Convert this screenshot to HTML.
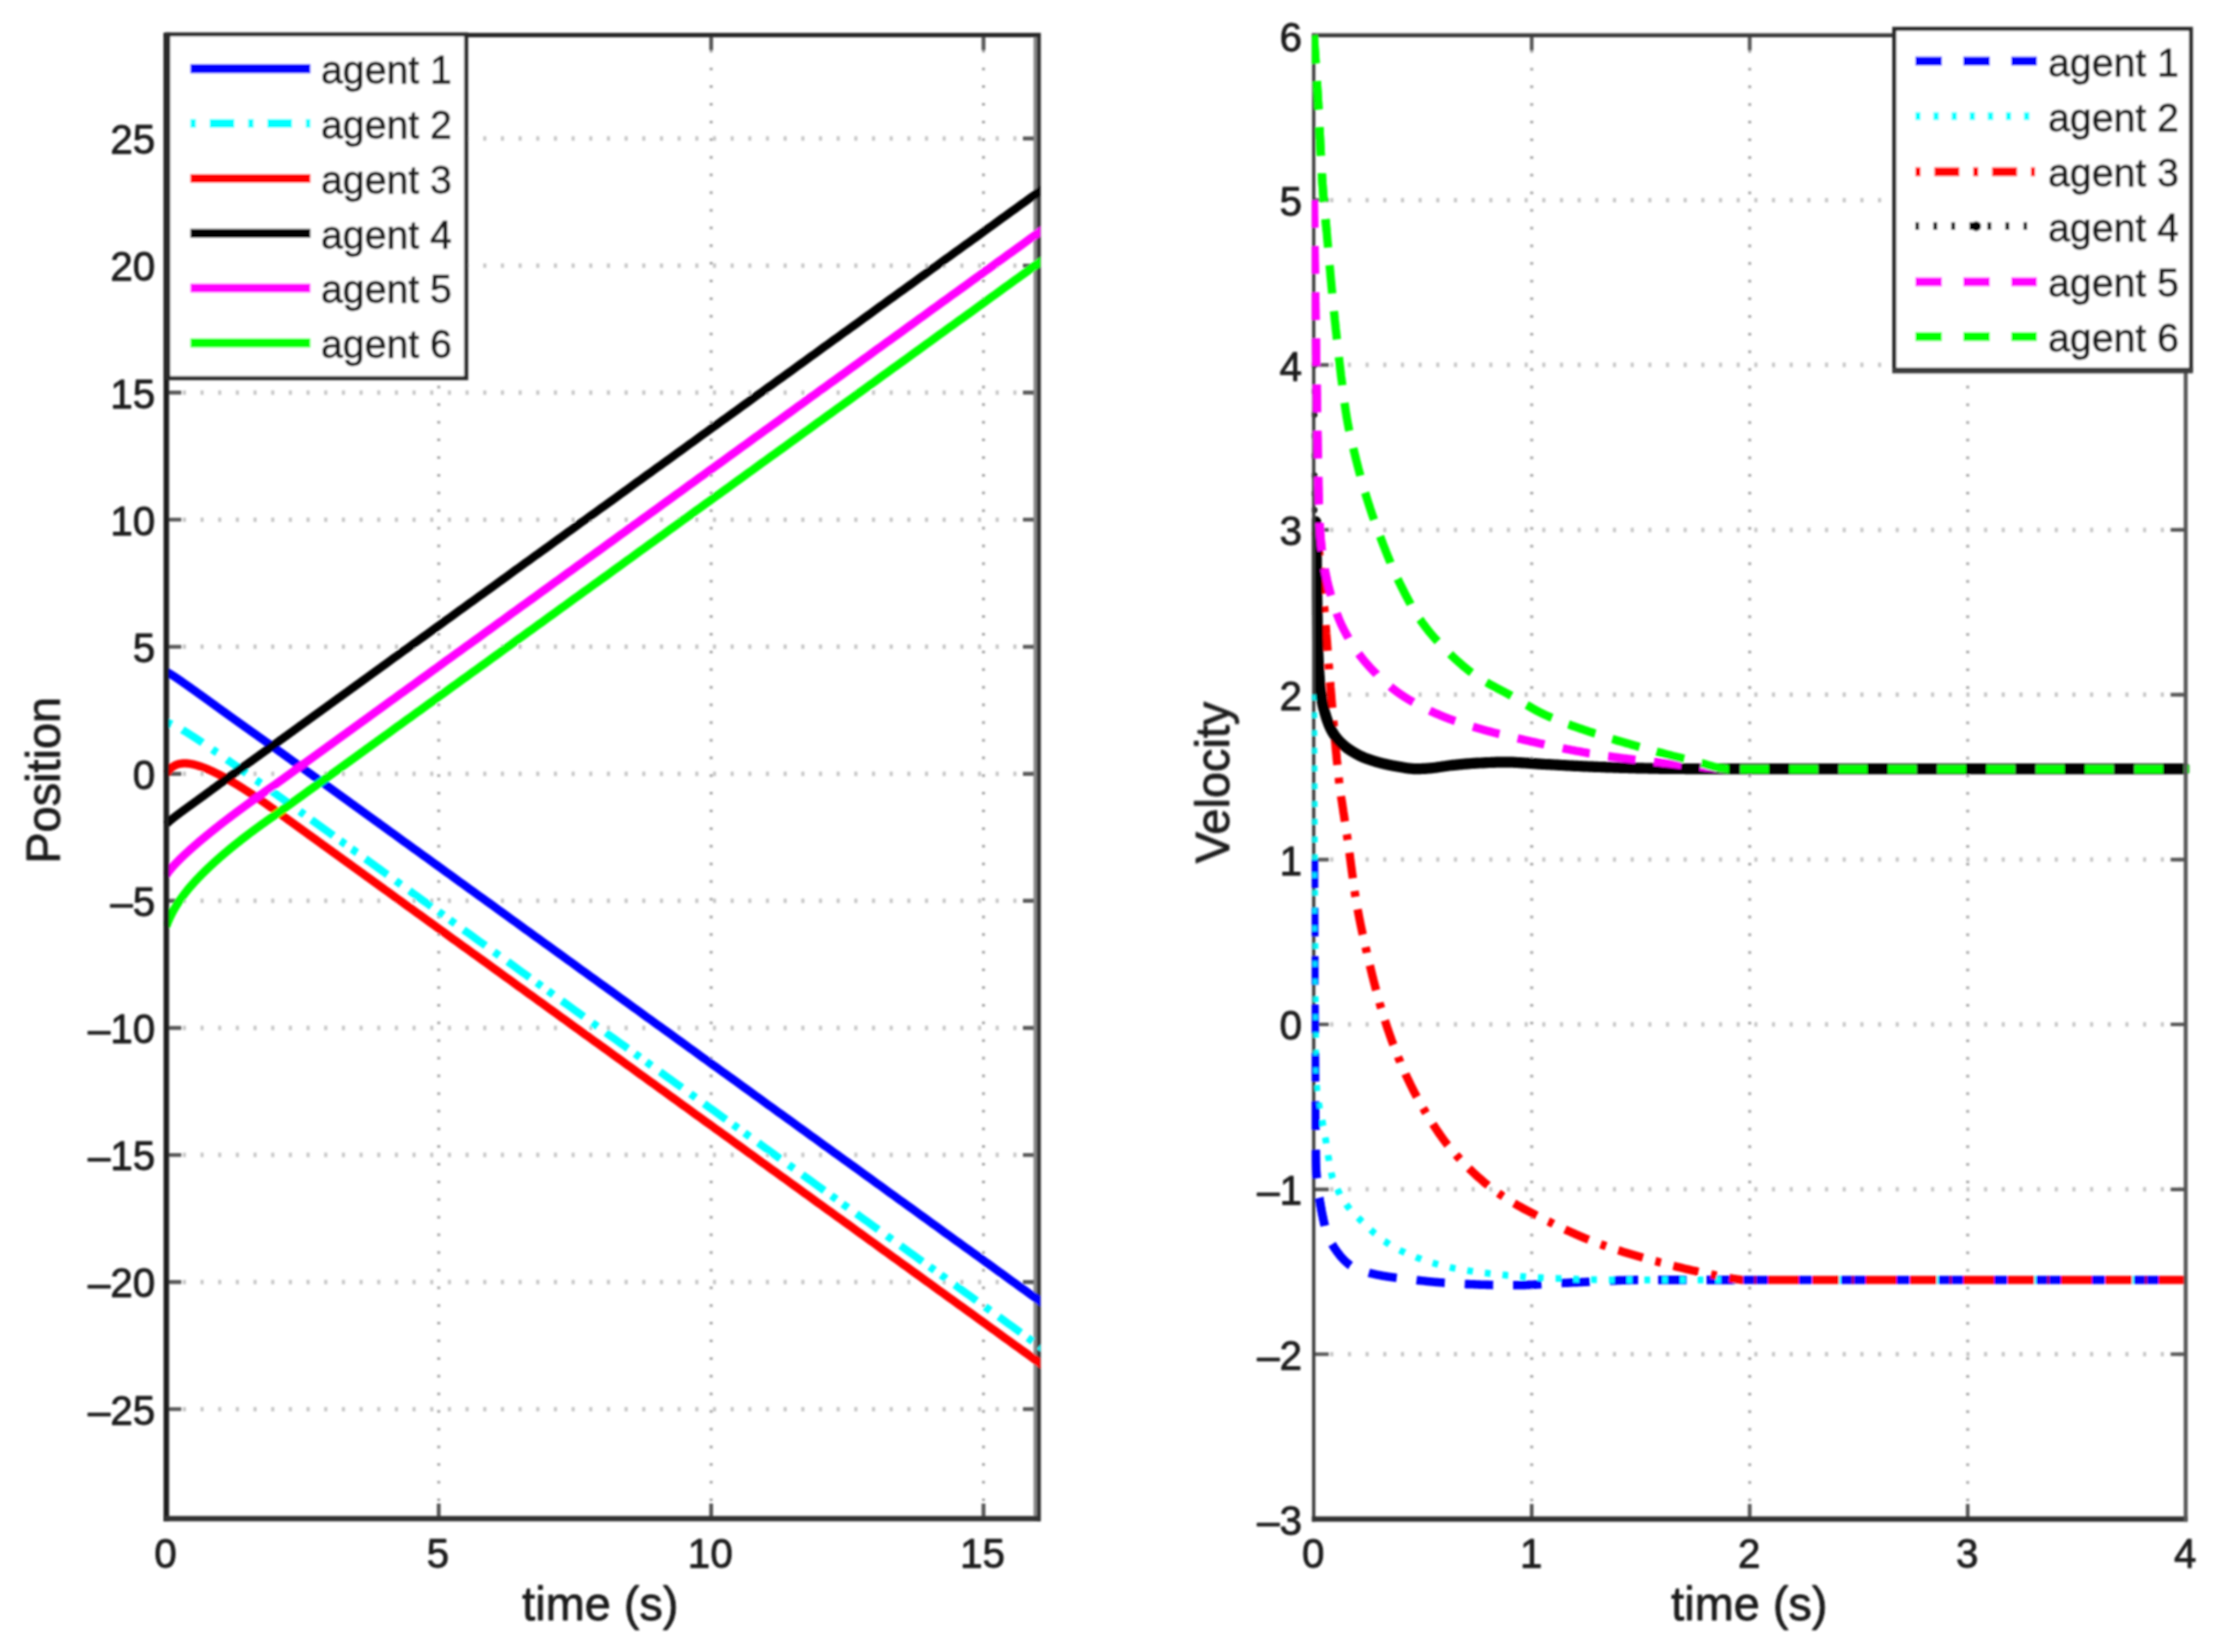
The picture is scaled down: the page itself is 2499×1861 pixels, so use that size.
<!DOCTYPE html>
<html lang="en"><head><meta charset="utf-8"><title>Position and velocity of agents</title>
<style>html,body{margin:0;padding:0;background:#fff}body{width:2499px;height:1861px;overflow:hidden}svg{display:block}text{font-family:'Liberation Sans', sans-serif;fill:#1c1c1c;stroke:#1c1c1c;stroke-width:0.9px;stroke-linejoin:round}</style></head><body>
<svg width="2499" height="1861" viewBox="0 0 2499 1861">
<defs><clipPath id="cl"><rect x="184.3" y="39.5" width="987.3" height="1671.3"/></clipPath><clipPath id="cr"><rect x="1477.5" y="37.7" width="988.0" height="1675.5"/></clipPath><filter id="soft" x="-2%" y="-2%" width="104%" height="104%"><feGaussianBlur stdDeviation="1.25"/></filter></defs>
<rect width="2499" height="1861" fill="#fff"/>
<g filter="url(#soft)">
<line x1="494.1" y1="39.5" x2="494.1" y2="1710.8" stroke="#a4a4a4" stroke-width="3.3" stroke-dasharray="3 16.9" stroke-dashoffset="-16.8"/>
<line x1="800.9" y1="39.5" x2="800.9" y2="1710.8" stroke="#a4a4a4" stroke-width="3.3" stroke-dasharray="3 16.9" stroke-dashoffset="-16.8"/>
<line x1="1107.6" y1="39.5" x2="1107.6" y2="1710.8" stroke="#a4a4a4" stroke-width="3.3" stroke-dasharray="3 16.9" stroke-dashoffset="-16.8"/>
<line x1="187.3" y1="1587.4" x2="1169.0" y2="1587.4" stroke="#c6c6c6" stroke-width="5" stroke-dasharray="3.5 16.4" stroke-dashoffset="-18.6"/>
<line x1="187.3" y1="1444.2" x2="1169.0" y2="1444.2" stroke="#c6c6c6" stroke-width="5" stroke-dasharray="3.5 16.4" stroke-dashoffset="-18.6"/>
<line x1="187.3" y1="1301.1" x2="1169.0" y2="1301.1" stroke="#c6c6c6" stroke-width="5" stroke-dasharray="3.5 16.4" stroke-dashoffset="-18.6"/>
<line x1="187.3" y1="1158.0" x2="1169.0" y2="1158.0" stroke="#c6c6c6" stroke-width="5" stroke-dasharray="3.5 16.4" stroke-dashoffset="-18.6"/>
<line x1="187.3" y1="1014.8" x2="1169.0" y2="1014.8" stroke="#c6c6c6" stroke-width="5" stroke-dasharray="3.5 16.4" stroke-dashoffset="-18.6"/>
<line x1="187.3" y1="871.7" x2="1169.0" y2="871.7" stroke="#c6c6c6" stroke-width="5" stroke-dasharray="3.5 16.4" stroke-dashoffset="-18.6"/>
<line x1="187.3" y1="728.6" x2="1169.0" y2="728.6" stroke="#c6c6c6" stroke-width="5" stroke-dasharray="3.5 16.4" stroke-dashoffset="-18.6"/>
<line x1="187.3" y1="585.4" x2="1169.0" y2="585.4" stroke="#c6c6c6" stroke-width="5" stroke-dasharray="3.5 16.4" stroke-dashoffset="-18.6"/>
<line x1="187.3" y1="442.3" x2="1169.0" y2="442.3" stroke="#c6c6c6" stroke-width="5" stroke-dasharray="3.5 16.4" stroke-dashoffset="-18.6"/>
<line x1="187.3" y1="299.2" x2="1169.0" y2="299.2" stroke="#c6c6c6" stroke-width="5" stroke-dasharray="3.5 16.4" stroke-dashoffset="-18.6"/>
<line x1="187.3" y1="156.0" x2="1169.0" y2="156.0" stroke="#c6c6c6" stroke-width="5" stroke-dasharray="3.5 16.4" stroke-dashoffset="-18.6"/>
<path d="M494.1 39.5v17 M494.1 1710.8v-17" stroke="#585858" stroke-width="4.4" fill="none"/>
<path d="M800.9 39.5v17 M800.9 1710.8v-17" stroke="#585858" stroke-width="4.4" fill="none"/>
<path d="M1107.6 39.5v17 M1107.6 1710.8v-17" stroke="#585858" stroke-width="4.4" fill="none"/>
<path d="M187.3 1587.4h17 M1169.0 1587.4h-17" stroke="#585858" stroke-width="4.4" fill="none"/>
<path d="M187.3 1444.2h17 M1169.0 1444.2h-17" stroke="#585858" stroke-width="4.4" fill="none"/>
<path d="M187.3 1301.1h17 M1169.0 1301.1h-17" stroke="#585858" stroke-width="4.4" fill="none"/>
<path d="M187.3 1158.0h17 M1169.0 1158.0h-17" stroke="#585858" stroke-width="4.4" fill="none"/>
<path d="M187.3 1014.8h17 M1169.0 1014.8h-17" stroke="#585858" stroke-width="4.4" fill="none"/>
<path d="M187.3 871.7h17 M1169.0 871.7h-17" stroke="#585858" stroke-width="4.4" fill="none"/>
<path d="M187.3 728.6h17 M1169.0 728.6h-17" stroke="#585858" stroke-width="4.4" fill="none"/>
<path d="M187.3 585.4h17 M1169.0 585.4h-17" stroke="#585858" stroke-width="4.4" fill="none"/>
<path d="M187.3 442.3h17 M1169.0 442.3h-17" stroke="#585858" stroke-width="4.4" fill="none"/>
<path d="M187.3 299.2h17 M1169.0 299.2h-17" stroke="#585858" stroke-width="4.4" fill="none"/>
<path d="M187.3 156.0h17 M1169.0 156.0h-17" stroke="#585858" stroke-width="4.4" fill="none"/>
<g fill="none">
<path d="M1166.0 37.5V1713.3" stroke-width="4.2" stroke="#8a8a8a"/>
<path d="M1170.0 37.0V1713.8" stroke-width="4.4" stroke="#333"/>
</g>
<g clip-path="url(#cl)" fill="none" stroke-width="9.3" stroke-linejoin="round">
<path d="M187.3 757.2 L187.7 757.2 L188.1 757.3 L188.5 757.4 L188.8 757.6 L189.2 757.8 L189.6 758.0 L189.9 758.2 L190.3 758.4 L190.6 758.6 L191.0 758.8 L191.4 759.0 L191.8 759.2 L192.1 759.4 L192.5 759.7 L192.9 759.9 L193.2 760.1 L193.6 760.3 L194.0 760.6 L194.3 760.8 L194.7 761.1 L195.1 761.3 L195.4 761.5 L195.8 761.8 L196.2 762.0 L196.6 762.3 L196.9 762.5 L197.3 762.7 L197.7 763.0 L198.0 763.2 L198.4 763.5 L198.8 763.7 L199.1 764.0 L199.5 764.2 L199.9 764.5 L200.2 764.7 L200.6 765.0 L201.0 765.2 L201.4 765.5 L201.7 765.8 L202.1 766.0 L202.5 766.3 L202.8 766.5 L203.2 766.8 L203.6 767.0 L203.9 767.3 L204.3 767.5 L204.7 767.8 L205.1 768.1 L205.4 768.3 L205.8 768.6 L206.2 768.8 L206.5 769.1 L206.9 769.3 L207.3 769.6 L207.6 769.9 L208.0 770.1 L208.4 770.4 L208.7 770.6 L209.1 770.9 L209.5 771.2 L209.9 771.4 L210.2 771.7 L210.6 771.9 L211.0 772.2 L211.3 772.5 L211.7 772.7 L212.1 773.0 L212.4 773.2 L212.8 773.5 L213.2 773.8 L213.5 774.0 L213.9 774.3 L214.3 774.5 L214.7 774.8 L215.0 775.1 L215.4 775.3 L215.8 775.6 L216.1 775.9 L216.5 776.1 L216.9 776.4 L217.2 776.6 L217.6 776.9 L218.0 777.2 L218.4 777.5 L218.8 777.8 L219.3 778.1 L219.7 778.4 L220.1 778.7 L220.6 779.0 L221.0 779.3 L221.4 779.6 L221.9 779.9 L222.3 780.2 L222.7 780.6 L223.1 780.9 L223.6 781.2 L224.0 781.5 L224.4 781.8 L224.9 782.1 L225.3 782.4 L225.7 782.7 L226.2 783.0 L226.6 783.3 L227.0 783.6 L227.4 784.0 L227.9 784.3 L228.3 784.6 L228.7 784.9 L229.2 785.2 L229.6 785.5 L230.0 785.8 L230.5 786.1 L230.9 786.4 L231.3 786.8 L231.7 787.1 L232.2 787.4 L232.6 787.7 L233.0 788.0 L233.5 788.3 L233.9 788.6 L234.3 788.9 L234.8 789.2 L235.2 789.6 L235.6 789.9 L236.1 790.2 L236.5 790.5 L236.9 790.8 L237.3 791.1 L237.8 791.4 L238.2 791.7 L238.6 792.0 L239.1 792.4 L239.5 792.7 L239.9 793.0 L240.4 793.3 L240.8 793.6 L241.2 793.9 L241.6 794.2 L242.1 794.5 L242.5 794.9 L242.9 795.2 L243.4 795.5 L243.8 795.8 L244.2 796.1 L244.7 796.4 L245.1 796.7 L245.5 797.0 L246.0 797.4 L246.4 797.7 L246.8 798.0 L247.2 798.3 L247.7 798.6 L248.1 798.9 L248.5 799.2 L249.0 799.5 L249.4 799.8 L249.8 800.2 L250.3 800.5 L250.7 800.8 L251.1 801.1 L251.5 801.4 L252.0 801.7 L252.4 802.0 L252.8 802.3 L253.3 802.6 L253.7 803.0 L254.1 803.3 L254.6 803.6 L255.0 803.9 L255.4 804.2 L255.8 804.5 L256.3 804.8 L256.7 805.1 L257.1 805.4 L257.6 805.7 L258.0 806.1 L258.4 806.4 L258.9 806.7 L259.3 807.0 L259.7 807.3 L260.2 807.6 L260.6 807.9 L261.0 808.2 L261.4 808.5 L261.9 808.8 L262.3 809.1 L262.7 809.4 L263.2 809.8 L263.6 810.1 L264.0 810.4 L264.5 810.7 L264.9 811.0 L265.3 811.3 L265.7 811.6 L266.2 811.9 L266.6 812.2 L267.0 812.5 L267.5 812.8 L267.9 813.1 L268.3 813.5 L268.8 813.8 L269.2 814.1 L269.6 814.4 L270.1 814.7 L270.5 815.0 L270.9 815.3 L271.3 815.6 L271.8 815.9 L272.2 816.2 L272.6 816.5 L273.1 816.8 L273.5 817.1 L273.9 817.4 L274.4 817.7 L274.8 818.0 L275.2 818.4 L275.6 818.7 L276.1 819.0 L276.5 819.3 L276.9 819.6 L277.4 819.9 L277.8 820.2 L278.2 820.5 L278.7 820.8 L279.1 821.1 L279.5 821.4 L279.9 821.7 L280.4 822.0 L280.8 822.3 L281.2 822.6 L281.7 822.9 L282.1 823.2 L282.5 823.6 L283.0 823.9 L283.4 824.2 L283.8 824.5 L284.3 824.8 L284.7 825.1 L285.1 825.4 L285.5 825.7 L286.0 826.0 L286.4 826.3 L286.8 826.6 L287.3 826.9 L287.7 827.2 L288.1 827.5 L288.6 827.8 L289.0 828.1 L289.4 828.4 L289.8 828.7 L290.3 829.1 L290.7 829.4 L291.1 829.7 L291.6 830.0 L292.0 830.3 L292.4 830.6 L292.9 830.9 L293.3 831.2 L293.7 831.5 L294.2 831.8 L294.6 832.1 L295.0 832.4 L295.4 832.7 L295.9 833.0 L296.3 833.3 L296.7 833.6 L297.2 833.9 L297.6 834.3 L298.0 834.6 L298.5 834.9 L298.9 835.2 L299.3 835.5 L299.7 835.8 L300.2 836.1 L300.6 836.4 L301.0 836.7 L301.5 837.0 L301.9 837.3 L302.3 837.6 L302.8 837.9 L303.2 838.2 L303.6 838.5 L304.0 838.8 L304.5 839.1 L304.9 839.4 L305.3 839.8 L305.8 840.1 L306.2 840.4 L306.6 840.7 L307.1 841.0 L307.5 841.3 L307.9 841.6 L308.4 841.9 L308.8 842.2 L309.2 842.5 L309.6 842.8 L310.1 843.1 L310.5 843.4 L310.9 843.7 L311.4 844.1 L311.8 844.4 L312.2 844.7 L312.7 845.0 L313.1 845.3 L313.5 845.6 L313.9 845.9 L314.4 846.2 L314.8 846.5 L315.2 846.9 L315.7 847.2 L316.1 847.5 L316.5 847.8 L317.0 848.1 L317.4 848.4 L317.8 848.7 L318.3 849.0 L318.7 849.3 L319.1 849.7 L319.5 850.0 L320.0 850.3 L320.4 850.6 L320.8 850.9 L321.3 851.2 L321.7 851.5 L322.1 851.8 L322.6 852.1 L323.0 852.5 L323.4 852.8 L323.8 853.1 L324.3 853.4 L324.7 853.7 L325.1 854.0 L325.6 854.3 L326.0 854.6 L326.4 854.9 L326.9 855.3 L327.3 855.6 L327.7 855.9 L328.1 856.2 L328.6 856.5 L329.0 856.8 L329.4 857.1 L329.9 857.4 L330.3 857.7 L330.7 858.1 L331.2 858.4 L331.6 858.7 L332.0 859.0 L332.5 859.3 L332.9 859.6 L333.3 859.9 L333.7 860.2 L334.2 860.5 L334.6 860.9 L335.0 861.2 L335.5 861.5 L335.9 861.8 L336.3 862.1 L336.8 862.4 L337.2 862.7 L337.6 863.0 L338.0 863.3 L338.5 863.7 L338.9 864.0 L339.3 864.3 L339.8 864.6 L340.2 864.9 L340.6 865.2 L341.1 865.5 L341.5 865.8 L341.9 866.1 L342.4 866.5 L342.8 866.8 L343.2 867.1 L343.6 867.4 L344.1 867.7 L344.5 868.0 L344.9 868.3 L345.4 868.6 L345.8 868.9 L346.2 869.3 L346.7 869.6 L347.1 869.9 L347.5 870.2 L347.9 870.5 L348.4 870.8 L348.8 871.1 L349.2 871.4 L349.7 871.8 L350.1 872.1 L350.5 872.4 L351.0 872.7 L351.4 873.0 L351.8 873.3 L352.2 873.6 L352.7 873.9 L353.1 874.2 L353.5 874.6 L354.0 874.9 L354.4 875.2 L354.8 875.5 L355.3 875.8 L355.7 876.1 L356.1 876.4 L356.6 876.7 L357.0 877.0 L357.4 877.4 L357.8 877.7 L358.3 878.0 L358.7 878.3 L359.1 878.6 L359.6 878.9 L360.0 879.2 L360.4 879.5 L360.9 879.8 L361.3 880.2 L361.7 880.5 L362.1 880.8 L362.6 881.1 L363.0 881.4 L363.4 881.7 L363.9 882.0 L364.3 882.3 L364.7 882.6 L365.2 883.0 L365.6 883.3 L366.0 883.6 L366.5 883.9 L366.9 884.2 L367.3 884.5 L367.7 884.8 L368.2 885.1 L368.6 885.4 L369.0 885.8 L369.5 886.1 L369.9 886.4 L370.3 886.7 L370.8 887.0 L371.2 887.3 L371.6 887.6 L372.0 887.9 L372.5 888.2 L372.9 888.6 L373.3 888.9 L373.8 889.2 L374.2 889.5 L374.6 889.8 L375.1 890.1 L375.5 890.4 L375.9 890.7 L376.3 891.0 L376.8 891.4 L377.2 891.7 L377.6 892.0 L378.1 892.3 L378.5 892.6 L378.9 892.9 L379.4 893.2 L379.8 893.5 L380.2 893.8 L380.7 894.2 L381.1 894.5 L381.5 894.8 L381.9 895.1 L382.4 895.4 L382.8 895.7 L383.2 896.0 L383.7 896.3 L384.1 896.6 L384.5 897.0 L385.0 897.3 L385.4 897.6 L385.8 897.9 L386.2 898.2 L386.7 898.5 L387.1 898.8 L387.5 899.1 L388.0 899.4 L388.4 899.8 L388.8 900.1 L389.3 900.4 L389.7 900.7 L390.1 901.0 L390.6 901.3 L391.0 901.6 L391.4 901.9 L391.8 902.3 L392.3 902.6 L392.7 902.9 L393.1 903.2 L393.6 903.5 L394.0 903.8 L394.4 904.1 L394.9 904.4 L395.3 904.7 L395.7 905.1 L396.1 905.4 L396.6 905.7 L397.0 906.0 L397.4 906.3 L397.9 906.6 L398.3 906.9 L398.7 907.2 L399.2 907.5 L399.6 907.9 L400.0 908.2 L400.4 908.5 L400.9 908.8 L401.3 909.1 L401.7 909.4 L402.2 909.7 L402.6 910.0 L403.0 910.3 L403.5 910.7 L403.9 911.0 L404.3 911.3 L404.8 911.6 L405.2 911.9 L405.6 912.2 L406.0 912.5 L406.5 912.8 L406.9 913.1 L407.3 913.5 L407.8 913.8 L408.2 914.1 L408.6 914.4 L409.1 914.7 L409.5 915.0 L409.9 915.3 L410.3 915.6 L410.8 915.9 L411.2 916.3 L411.6 916.6 L412.1 916.9 L412.5 917.2 L412.9 917.5 L413.4 917.8 L413.8 918.1 L414.2 918.4 L414.7 918.7 L415.1 919.1 L415.5 919.4 L415.9 919.7 L416.4 920.0 L416.8 920.3 L417.2 920.6 L417.7 920.9 L418.1 921.2 L418.5 921.5 L419.0 921.9 L419.4 922.2 L419.8 922.5 L420.2 922.8 L420.7 923.1 L421.1 923.4 L421.5 923.7 L422.0 924.0 L422.4 924.3 L422.8 924.7 L423.3 925.0 L423.7 925.3 L424.1 925.6 L424.5 925.9 L425.0 926.2 L425.4 926.5 L425.8 926.8 L426.3 927.1 L426.7 927.5 L427.1 927.8 L427.6 928.1 L428.0 928.4 L428.4 928.7 L428.9 929.0 L429.3 929.3 L429.7 929.6 L430.1 929.9 L430.6 930.3 L431.0 930.6 L431.4 930.9 L431.9 931.2 L432.3 931.5 L432.7 931.8 L436.4 934.5 L440.1 937.2 L443.8 939.8 L447.5 942.5 L451.2 945.2 L454.9 947.9 L458.6 950.5 L462.3 953.2 L466.0 955.9 L469.7 958.6 L473.4 961.2 L477.1 963.9 L480.8 966.6 L484.5 969.3 L488.2 972.0 L491.9 974.6 L495.6 977.3 L499.3 980.0 L503.0 982.7 L506.7 985.3 L510.4 988.0 L514.1 990.7 L517.8 993.4 L521.5 996.0 L525.2 998.7 L528.9 1001.4 L532.6 1004.1 L536.3 1006.7 L540.0 1009.4 L543.7 1012.1 L547.4 1014.8 L551.1 1017.4 L554.8 1020.1 L558.5 1022.8 L562.2 1025.5 L565.9 1028.1 L569.6 1030.8 L573.3 1033.5 L577.0 1036.2 L580.7 1038.8 L584.4 1041.5 L588.1 1044.2 L591.8 1046.9 L595.5 1049.5 L599.2 1052.2 L602.9 1054.9 L606.6 1057.6 L610.3 1060.2 L614.0 1062.9 L617.7 1065.6 L621.4 1068.3 L625.1 1071.0 L628.8 1073.6 L632.5 1076.3 L636.2 1079.0 L639.9 1081.7 L643.6 1084.3 L647.3 1087.0 L651.0 1089.7 L654.7 1092.4 L658.4 1095.0 L662.1 1097.7 L665.8 1100.4 L669.5 1103.1 L673.2 1105.7 L676.9 1108.4 L680.6 1111.1 L684.3 1113.8 L688.0 1116.4 L691.7 1119.1 L695.4 1121.8 L699.1 1124.5 L702.8 1127.1 L706.5 1129.8 L710.2 1132.5 L713.9 1135.2 L717.6 1137.8 L721.3 1140.5 L725.0 1143.2 L728.7 1145.9 L732.4 1148.5 L736.1 1151.2 L739.8 1153.9 L743.5 1156.6 L747.2 1159.3 L750.9 1161.9 L754.6 1164.6 L758.3 1167.3 L762.0 1170.0 L765.7 1172.6 L769.4 1175.3 L773.1 1178.0 L776.8 1180.7 L780.5 1183.3 L784.2 1186.0 L787.9 1188.7 L791.6 1191.4 L795.3 1194.0 L799.0 1196.7 L802.7 1199.4 L806.4 1202.1 L810.1 1204.7 L813.8 1207.4 L817.5 1210.1 L821.2 1212.8 L824.9 1215.4 L828.6 1218.1 L832.3 1220.8 L836.0 1223.5 L839.7 1226.1 L843.4 1228.8 L847.1 1231.5 L850.8 1234.2 L854.5 1236.8 L858.2 1239.5 L861.9 1242.2 L865.6 1244.9 L869.3 1247.5 L873.0 1250.2 L876.7 1252.9 L880.4 1255.6 L884.1 1258.3 L887.8 1260.9 L891.5 1263.6 L895.2 1266.3 L898.9 1269.0 L902.6 1271.6 L906.3 1274.3 L910.0 1277.0 L913.7 1279.7 L917.4 1282.3 L921.1 1285.0 L924.8 1287.7 L928.5 1290.4 L932.2 1293.0 L935.9 1295.7 L939.6 1298.4 L943.3 1301.1 L947.0 1303.7 L950.7 1306.4 L954.4 1309.1 L958.1 1311.8 L961.8 1314.4 L965.5 1317.1 L969.2 1319.8 L972.9 1322.5 L976.6 1325.1 L980.3 1327.8 L984.0 1330.5 L987.7 1333.2 L991.4 1335.8 L995.1 1338.5 L998.8 1341.2 L1002.5 1343.9 L1006.2 1346.5 L1009.9 1349.2 L1013.6 1351.9 L1017.3 1354.6 L1021.0 1357.3 L1024.7 1359.9 L1028.4 1362.6 L1032.1 1365.3 L1035.8 1368.0 L1039.5 1370.6 L1043.2 1373.3 L1046.9 1376.0 L1050.6 1378.7 L1054.3 1381.3 L1058.0 1384.0 L1061.7 1386.7 L1065.4 1389.4 L1069.1 1392.0 L1072.8 1394.7 L1076.5 1397.4 L1080.2 1400.1 L1083.9 1402.7 L1087.6 1405.4 L1091.3 1408.1 L1095.0 1410.8 L1098.7 1413.4 L1102.4 1416.1 L1106.1 1418.8 L1109.8 1421.5 L1113.5 1424.1 L1117.2 1426.8 L1120.9 1429.5 L1124.6 1432.2 L1128.3 1434.8 L1132.0 1437.5 L1135.7 1440.2 L1139.4 1442.9 L1143.1 1445.5 L1146.8 1448.2 L1150.5 1450.9 L1154.2 1453.6 L1157.9 1456.3 L1161.6 1458.9 L1165.3 1461.6 L1169.0 1464.3 L1181.3 1473.2" stroke="#0000ff"/>
<path d="M187.3 814.4 L187.7 814.2 L188.1 814.3 L188.5 814.3 L188.9 814.4 L189.3 814.5 L189.7 814.6 L190.1 814.7 L190.5 814.8 L190.9 815.0 L191.4 815.1 L191.8 815.3 L192.3 815.5 L192.8 815.7 L193.1 815.8 L193.5 816.0 L193.9 816.1 L194.2 816.3 L194.6 816.5 L195.0 816.7 L195.4 816.8 L195.7 817.0 L196.1 817.2 L196.5 817.4 L196.8 817.5 L197.2 817.7 L197.6 817.9 L197.9 818.1 L198.3 818.3 L198.7 818.5 L199.0 818.7 L199.4 818.9 L199.8 819.1 L200.2 819.3 L200.5 819.5 L200.9 819.7 L201.3 819.9 L201.6 820.1 L202.0 820.3 L202.4 820.5 L202.7 820.7 L203.1 820.9 L203.5 821.1 L203.8 821.3 L204.2 821.5 L204.6 821.7 L205.0 821.9 L205.3 822.1 L205.7 822.4 L206.1 822.6 L206.4 822.8 L206.8 823.0 L207.2 823.2 L207.5 823.5 L207.9 823.7 L208.3 823.9 L208.7 824.1 L209.0 824.3 L209.4 824.6 L209.8 824.8 L210.1 825.0 L210.5 825.2 L210.9 825.5 L211.2 825.7 L211.6 825.9 L212.0 826.2 L212.3 826.4 L212.7 826.6 L213.1 826.9 L213.5 827.1 L213.8 827.3 L214.2 827.6 L214.6 827.8 L214.9 828.0 L215.3 828.3 L215.7 828.5 L216.0 828.7 L216.4 829.0 L216.8 829.2 L217.1 829.4 L217.5 829.7 L217.9 829.9 L218.4 830.3 L218.8 830.5 L219.3 830.8 L219.7 831.1 L220.1 831.4 L220.6 831.7 L221.0 831.9 L221.4 832.2 L221.9 832.5 L222.3 832.8 L222.7 833.1 L223.1 833.4 L223.6 833.7 L224.0 833.9 L224.4 834.2 L224.9 834.5 L225.3 834.8 L225.7 835.1 L226.2 835.4 L226.6 835.7 L227.0 836.0 L227.4 836.2 L227.9 836.5 L228.3 836.8 L228.7 837.1 L229.2 837.4 L229.6 837.7 L230.0 838.0 L230.5 838.3 L230.9 838.6 L231.3 838.9 L231.7 839.2 L232.2 839.5 L232.6 839.7 L233.0 840.0 L233.5 840.3 L233.9 840.6 L234.3 840.9 L234.8 841.2 L235.2 841.5 L235.6 841.8 L236.1 842.1 L236.5 842.4 L236.9 842.7 L237.3 843.0 L237.8 843.3 L238.2 843.6 L238.6 843.9 L239.1 844.2 L239.5 844.5 L239.9 844.8 L240.4 845.1 L240.8 845.4 L241.2 845.7 L241.6 846.0 L242.1 846.3 L242.5 846.6 L242.9 846.9 L243.4 847.1 L243.8 847.4 L244.2 847.7 L244.7 848.0 L245.1 848.3 L245.5 848.6 L246.0 848.9 L246.4 849.2 L246.8 849.5 L247.2 849.8 L247.7 850.1 L248.1 850.4 L248.5 850.7 L249.0 851.0 L249.4 851.3 L249.8 851.6 L250.3 851.9 L250.7 852.2 L251.1 852.5 L251.5 852.8 L252.0 853.1 L252.4 853.4 L252.8 853.7 L253.3 854.0 L253.7 854.3 L254.1 854.6 L254.6 855.0 L255.0 855.3 L255.4 855.6 L255.8 855.9 L256.3 856.2 L256.7 856.5 L257.1 856.8 L257.6 857.1 L258.0 857.4 L258.4 857.7 L258.9 858.0 L259.3 858.3 L259.7 858.6 L260.2 858.9 L260.6 859.2 L261.0 859.5 L261.4 859.8 L261.9 860.1 L262.3 860.4 L262.7 860.7 L263.2 861.0 L263.6 861.3 L264.0 861.6 L264.5 861.9 L264.9 862.2 L265.3 862.5 L265.7 862.8 L266.2 863.1 L266.6 863.4 L267.0 863.7 L267.5 864.0 L267.9 864.3 L268.3 864.6 L268.8 864.9 L269.2 865.2 L269.6 865.5 L270.1 865.8 L270.5 866.1 L270.9 866.5 L271.3 866.8 L271.8 867.1 L272.2 867.4 L272.6 867.7 L273.1 868.0 L273.5 868.3 L273.9 868.6 L274.4 868.9 L274.8 869.2 L275.2 869.5 L275.6 869.8 L276.1 870.1 L276.5 870.4 L276.9 870.7 L277.4 871.0 L277.8 871.3 L278.2 871.6 L278.7 871.9 L279.1 872.2 L279.5 872.5 L279.9 872.8 L280.4 873.1 L280.8 873.4 L281.2 873.7 L281.7 874.0 L282.1 874.3 L282.5 874.6 L283.0 875.0 L283.4 875.3 L283.8 875.6 L284.3 875.9 L284.7 876.2 L285.1 876.5 L285.5 876.8 L286.0 877.1 L286.4 877.4 L286.8 877.7 L287.3 878.0 L287.7 878.3 L288.1 878.6 L288.6 878.9 L289.0 879.2 L289.4 879.5 L289.8 879.8 L290.3 880.1 L290.7 880.4 L291.1 880.7 L291.6 881.0 L292.0 881.3 L292.4 881.6 L292.9 881.9 L293.3 882.2 L293.7 882.5 L294.2 882.8 L294.6 883.1 L295.0 883.4 L295.4 883.8 L295.9 884.1 L296.3 884.4 L296.7 884.7 L297.2 885.0 L297.6 885.3 L298.0 885.6 L298.5 885.9 L298.9 886.2 L299.3 886.5 L299.7 886.8 L300.2 887.1 L300.6 887.4 L301.0 887.7 L301.5 888.0 L301.9 888.3 L302.3 888.6 L302.8 888.9 L303.2 889.2 L303.6 889.5 L304.0 889.8 L304.5 890.1 L304.9 890.4 L305.3 890.7 L305.8 891.0 L306.2 891.3 L306.6 891.6 L307.1 891.9 L307.5 892.3 L307.9 892.6 L308.4 892.9 L308.8 893.2 L309.2 893.5 L309.6 893.8 L310.1 894.1 L310.5 894.4 L310.9 894.7 L311.4 895.0 L311.8 895.3 L312.2 895.6 L312.7 895.9 L313.1 896.3 L313.5 896.6 L313.9 896.9 L314.4 897.2 L314.8 897.5 L315.2 897.8 L315.7 898.1 L316.1 898.4 L316.5 898.7 L317.0 899.1 L317.4 899.4 L317.8 899.7 L318.3 900.0 L318.7 900.3 L319.1 900.6 L319.5 900.9 L320.0 901.2 L320.4 901.5 L320.8 901.9 L321.3 902.2 L321.7 902.5 L322.1 902.8 L322.6 903.1 L323.0 903.4 L323.4 903.7 L323.8 904.0 L324.3 904.3 L324.7 904.7 L325.1 905.0 L325.6 905.3 L326.0 905.6 L326.4 905.9 L326.9 906.2 L327.3 906.5 L327.7 906.8 L328.1 907.1 L328.6 907.5 L329.0 907.8 L329.4 908.1 L329.9 908.4 L330.3 908.7 L330.7 909.0 L331.2 909.3 L331.6 909.6 L332.0 909.9 L332.5 910.3 L332.9 910.6 L333.3 910.9 L333.7 911.2 L334.2 911.5 L334.6 911.8 L335.0 912.1 L335.5 912.4 L335.9 912.7 L336.3 913.1 L336.8 913.4 L337.2 913.7 L337.6 914.0 L338.0 914.3 L338.5 914.6 L338.9 914.9 L339.3 915.2 L339.8 915.5 L340.2 915.9 L340.6 916.2 L341.1 916.5 L341.5 916.8 L341.9 917.1 L342.4 917.4 L342.8 917.7 L343.2 918.0 L343.6 918.3 L344.1 918.7 L344.5 919.0 L344.9 919.3 L345.4 919.6 L345.8 919.9 L346.2 920.2 L346.7 920.5 L347.1 920.8 L347.5 921.2 L347.9 921.5 L348.4 921.8 L348.8 922.1 L349.2 922.4 L349.7 922.7 L350.1 923.0 L350.5 923.3 L350.7 923.5" stroke="#00ffff" stroke-width="8.7" stroke-dasharray="6.5 13.5 27 13.4"/>
<path d="M350.7 923.5 L351.4 924.0 L351.8 924.3 L352.2 924.6 L352.7 924.9 L353.1 925.2 L353.5 925.5 L354.0 925.8 L354.4 926.1 L354.8 926.4 L355.3 926.8 L355.7 927.1 L356.1 927.4 L356.6 927.7 L357.0 928.0 L357.4 928.3 L357.8 928.6 L358.3 928.9 L358.7 929.2 L359.1 929.6 L359.6 929.9 L360.0 930.2 L360.4 930.5 L360.9 930.8 L361.3 931.1 L361.7 931.4 L362.1 931.7 L362.6 932.0 L363.0 932.4 L363.4 932.7 L363.9 933.0 L364.3 933.3 L364.7 933.6 L365.2 933.9 L365.6 934.2 L366.0 934.5 L366.5 934.8 L366.9 935.2 L367.3 935.5 L367.7 935.8 L368.2 936.1 L368.6 936.4 L369.0 936.7 L369.5 937.0 L369.9 937.3 L370.3 937.6 L370.8 938.0 L371.2 938.3 L371.6 938.6 L372.0 938.9 L372.5 939.2 L372.9 939.5 L373.3 939.8 L373.8 940.1 L374.2 940.4 L374.6 940.8 L375.1 941.1 L375.5 941.4 L375.9 941.7 L376.3 942.0 L376.8 942.3 L377.2 942.6 L377.6 942.9 L378.1 943.2 L378.5 943.6 L378.9 943.9 L379.4 944.2 L379.8 944.5 L380.2 944.8 L380.7 945.1 L381.1 945.4 L381.5 945.7 L381.9 946.0 L382.4 946.4 L382.8 946.7 L383.2 947.0 L383.7 947.3 L384.1 947.6 L384.5 947.9 L385.0 948.2 L385.4 948.5 L385.8 948.8 L386.2 949.2 L386.7 949.5 L387.1 949.8 L387.5 950.1 L388.0 950.4 L388.4 950.7 L388.8 951.0 L389.3 951.3 L389.7 951.7 L390.1 952.0 L390.6 952.3 L391.0 952.6 L391.4 952.9 L391.8 953.2 L392.3 953.5 L392.7 953.8 L393.1 954.1 L393.6 954.5 L394.0 954.8 L394.4 955.1 L394.9 955.4 L395.3 955.7 L395.7 956.0 L396.1 956.3 L396.6 956.6 L397.0 956.9 L397.4 957.3 L397.9 957.6 L398.3 957.9 L398.7 958.2 L399.2 958.5 L399.6 958.8 L400.0 959.1 L400.4 959.4 L400.9 959.7 L401.3 960.1 L401.7 960.4 L402.2 960.7 L402.6 961.0 L403.0 961.3 L403.5 961.6 L403.9 961.9 L404.3 962.2 L404.8 962.5 L405.2 962.9 L405.6 963.2 L406.0 963.5 L406.5 963.8 L406.9 964.1 L407.3 964.4 L407.8 964.7 L408.2 965.0 L408.6 965.3 L409.1 965.7 L409.5 966.0 L409.9 966.3 L410.3 966.6 L410.8 966.9 L411.2 967.2 L411.6 967.5 L412.1 967.8 L412.5 968.1 L412.9 968.5 L413.4 968.8 L413.8 969.1 L414.2 969.4 L414.7 969.7 L415.1 970.0 L415.5 970.3 L415.9 970.6 L416.4 970.9 L416.8 971.3 L417.2 971.6 L417.7 971.9 L418.1 972.2 L418.5 972.5 L419.0 972.8 L419.4 973.1 L419.8 973.4 L420.2 973.7 L420.7 974.1 L421.1 974.4 L421.5 974.7 L422.0 975.0 L422.4 975.3 L422.8 975.6 L423.3 975.9 L423.7 976.2 L424.1 976.5 L424.5 976.9 L425.0 977.2 L425.4 977.5 L425.8 977.8 L426.3 978.1 L426.7 978.4 L427.1 978.7 L427.6 979.0 L428.0 979.3 L428.4 979.7 L428.9 980.0 L429.3 980.3 L429.7 980.6 L430.1 980.9 L430.6 981.2 L431.0 981.5 L431.4 981.8 L431.9 982.2 L432.3 982.5 L432.7 982.8 L436.4 985.4 L440.1 988.1 L443.8 990.8 L447.5 993.5 L451.2 996.2 L454.9 998.8 L458.6 1001.5 L462.3 1004.2 L466.0 1006.9 L469.7 1009.5 L473.4 1012.2 L477.1 1014.9 L480.8 1017.6 L484.5 1020.2 L488.2 1022.9 L491.9 1025.6 L495.6 1028.3 L499.3 1030.9 L503.0 1033.6 L506.7 1036.3 L510.4 1039.0 L514.1 1041.6 L517.8 1044.3 L521.5 1047.0 L525.2 1049.7 L528.9 1052.3 L532.6 1055.0 L536.3 1057.7 L540.0 1060.4 L543.7 1063.0 L547.4 1065.7 L551.1 1068.4 L554.8 1071.1 L558.5 1073.7 L562.2 1076.4 L565.9 1079.1 L569.6 1081.8 L573.3 1084.4 L577.0 1087.1 L580.7 1089.8 L584.4 1092.5 L588.1 1095.2 L591.8 1097.8 L595.5 1100.5 L599.2 1103.2 L602.9 1105.9 L606.6 1108.5 L610.3 1111.2 L614.0 1113.9 L617.7 1116.6 L621.4 1119.2 L625.1 1121.9 L628.8 1124.6 L632.5 1127.3 L636.2 1129.9 L639.9 1132.6 L643.6 1135.3 L647.3 1138.0 L651.0 1140.6 L654.7 1143.3 L658.4 1146.0 L662.1 1148.7 L665.8 1151.3 L669.5 1154.0 L673.2 1156.7 L676.9 1159.4 L680.6 1162.0 L684.3 1164.7 L688.0 1167.4 L691.7 1170.1 L695.4 1172.7 L699.1 1175.4 L702.8 1178.1 L706.5 1180.8 L710.2 1183.4 L713.9 1186.1 L717.6 1188.8 L721.3 1191.5 L725.0 1194.2 L728.7 1196.8 L732.4 1199.5 L736.1 1202.2 L739.8 1204.9 L743.5 1207.5 L747.2 1210.2 L750.9 1212.9 L754.6 1215.6 L758.3 1218.2 L762.0 1220.9 L765.7 1223.6 L769.4 1226.3 L773.1 1228.9 L776.8 1231.6 L780.5 1234.3 L784.2 1237.0 L787.9 1239.6 L791.6 1242.3 L795.3 1245.0 L799.0 1247.7 L802.7 1250.3 L806.4 1253.0 L810.1 1255.7 L813.8 1258.4 L817.5 1261.0 L821.2 1263.7 L824.9 1266.4 L828.6 1269.1 L832.3 1271.7 L836.0 1274.4 L839.7 1277.1 L843.4 1279.8 L847.1 1282.4 L850.8 1285.1 L854.5 1287.8 L858.2 1290.5 L861.9 1293.2 L865.6 1295.8 L869.3 1298.5 L873.0 1301.2 L876.7 1303.9 L880.4 1306.5 L884.1 1309.2 L887.8 1311.9 L891.5 1314.6 L895.2 1317.2 L898.9 1319.9 L902.6 1322.6 L906.3 1325.3 L910.0 1327.9 L913.7 1330.6 L917.4 1333.3 L921.1 1336.0 L924.8 1338.6 L928.5 1341.3 L932.2 1344.0 L935.9 1346.7 L939.6 1349.3 L943.3 1352.0 L947.0 1354.7 L950.7 1357.4 L954.4 1360.0 L958.1 1362.7 L961.8 1365.4 L965.5 1368.1 L969.2 1370.7 L972.9 1373.4 L976.6 1376.1 L980.3 1378.8 L984.0 1381.5 L987.7 1384.1 L991.4 1386.8 L995.1 1389.5 L998.8 1392.2 L1002.5 1394.8 L1006.2 1397.5 L1009.9 1400.2 L1013.6 1402.9 L1017.3 1405.5 L1021.0 1408.2 L1024.7 1410.9 L1028.4 1413.6 L1032.1 1416.2 L1035.8 1418.9 L1039.5 1421.6 L1043.2 1424.3 L1046.9 1426.9 L1050.6 1429.6 L1054.3 1432.3 L1058.0 1435.0 L1061.7 1437.6 L1065.4 1440.3 L1069.1 1443.0 L1072.8 1445.7 L1076.5 1448.3 L1080.2 1451.0 L1083.9 1453.7 L1087.6 1456.4 L1091.3 1459.0 L1095.0 1461.7 L1098.7 1464.4 L1102.4 1467.1 L1106.1 1469.7 L1109.8 1472.4 L1113.5 1475.1 L1117.2 1477.8 L1120.9 1480.5 L1124.6 1483.1 L1128.3 1485.8 L1132.0 1488.5 L1135.7 1491.2 L1139.4 1493.8 L1143.1 1496.5 L1146.8 1499.2 L1150.5 1501.9 L1154.2 1504.5 L1157.9 1507.2 L1161.6 1509.9 L1165.3 1512.6 L1169.0 1515.2 L1181.3 1524.1" stroke="#00ffff" stroke-width="8.7" stroke-dasharray="30.6 9.8 6.9 8.9 7.3 11.7 30.6 11.7 7.3 11.7"/>
<path d="M187.3 871.7 L187.5 871.4 L187.8 871.0 L188.0 870.7 L188.3 870.3 L188.5 870.0 L188.8 869.6 L189.0 869.3 L189.3 869.0 L189.5 868.7 L189.8 868.3 L190.0 868.0 L190.3 867.7 L190.6 867.3 L190.9 867.0 L191.2 866.7 L191.5 866.4 L191.8 866.0 L192.2 865.7 L192.6 865.3 L193.0 865.0 L193.3 864.7 L193.7 864.4 L194.1 864.1 L194.4 863.9 L194.8 863.6 L195.2 863.4 L195.5 863.2 L195.9 862.9 L196.3 862.7 L196.6 862.5 L197.0 862.3 L197.4 862.1 L197.8 862.0 L198.1 861.8 L198.5 861.6 L199.0 861.4 L199.4 861.3 L199.9 861.1 L200.3 861.0 L200.8 860.8 L201.3 860.7 L201.7 860.6 L202.2 860.5 L202.6 860.4 L203.1 860.3 L203.6 860.3 L204.0 860.2 L204.5 860.1 L205.0 860.1 L205.4 860.0 L205.9 860.0 L206.3 860.0 L206.8 859.9 L207.3 859.9 L207.7 859.9 L208.2 859.9 L208.7 859.9 L209.1 859.9 L209.6 860.0 L210.0 860.0 L210.5 860.0 L211.0 860.0 L211.4 860.1 L211.9 860.1 L212.3 860.2 L212.8 860.2 L213.3 860.3 L213.7 860.4 L214.2 860.4 L214.7 860.5 L215.1 860.6 L215.6 860.7 L216.0 860.8 L216.5 860.8 L217.0 860.9 L217.4 861.0 L217.9 861.1 L218.4 861.3 L218.8 861.4 L219.3 861.5 L219.7 861.6 L220.1 861.7 L220.6 861.8 L221.0 861.9 L221.4 862.0 L221.9 862.2 L222.3 862.3 L222.7 862.4 L223.1 862.5 L223.6 862.7 L224.0 862.8 L224.4 863.0 L224.9 863.1 L225.3 863.2 L225.7 863.4 L226.2 863.5 L226.6 863.7 L227.0 863.8 L227.4 864.0 L227.9 864.1 L228.3 864.3 L228.7 864.5 L229.2 864.6 L229.6 864.8 L230.0 865.0 L230.5 865.1 L230.9 865.3 L231.3 865.5 L231.7 865.6 L232.2 865.8 L232.6 866.0 L233.0 866.2 L233.5 866.4 L233.9 866.5 L234.3 866.7 L234.8 866.9 L235.2 867.1 L235.6 867.3 L236.1 867.5 L236.5 867.7 L236.9 867.9 L237.3 868.1 L237.8 868.2 L238.2 868.4 L238.6 868.6 L239.1 868.8 L239.5 869.0 L239.9 869.3 L240.4 869.5 L240.8 869.7 L241.2 869.9 L241.6 870.1 L242.1 870.3 L242.5 870.5 L242.9 870.7 L243.4 870.9 L243.8 871.1 L244.2 871.3 L244.7 871.6 L245.1 871.8 L245.5 872.0 L246.0 872.2 L246.4 872.4 L246.8 872.7 L247.2 872.9 L247.7 873.1 L248.1 873.3 L248.5 873.6 L249.0 873.8 L249.4 874.0 L249.8 874.2 L250.3 874.5 L250.7 874.7 L251.1 874.9 L251.5 875.2 L252.0 875.4 L252.4 875.6 L252.8 875.9 L253.3 876.1 L253.7 876.3 L254.1 876.6 L254.6 876.8 L255.0 877.0 L255.4 877.3 L255.8 877.5 L256.3 877.8 L256.7 878.0 L257.1 878.3 L257.6 878.5 L258.0 878.7 L258.4 879.0 L258.9 879.2 L259.3 879.5 L259.7 879.7 L260.2 880.0 L260.6 880.2 L261.0 880.5 L261.4 880.7 L261.9 881.0 L262.3 881.2 L262.7 881.5 L263.2 881.8 L263.6 882.0 L264.0 882.3 L264.5 882.5 L264.9 882.8 L265.3 883.0 L265.7 883.3 L266.2 883.6 L266.6 883.8 L267.0 884.1 L267.5 884.3 L267.9 884.6 L268.3 884.9 L268.8 885.1 L269.2 885.4 L269.6 885.7 L270.1 885.9 L270.5 886.2 L270.9 886.5 L271.3 886.7 L271.8 887.0 L272.2 887.3 L272.6 887.6 L273.1 887.8 L273.5 888.1 L273.9 888.4 L274.4 888.6 L274.8 888.9 L275.2 889.2 L275.6 889.5 L276.1 889.7 L276.5 890.0 L276.9 890.3 L277.4 890.6 L277.8 890.8 L278.2 891.1 L278.7 891.4 L279.1 891.7 L279.5 892.0 L279.9 892.2 L280.4 892.5 L280.8 892.8 L281.2 893.1 L281.7 893.4 L282.1 893.6 L282.5 893.9 L283.0 894.2 L283.4 894.5 L283.8 894.8 L284.3 895.1 L284.7 895.4 L285.1 895.6 L285.5 895.9 L286.0 896.2 L286.4 896.5 L286.8 896.8 L287.3 897.1 L287.7 897.4 L288.1 897.7 L288.6 897.9 L289.0 898.2 L289.4 898.5 L289.8 898.8 L290.3 899.1 L290.7 899.4 L291.1 899.7 L291.6 900.0 L292.0 900.3 L292.4 900.6 L292.9 900.9 L293.3 901.2 L293.7 901.5 L294.2 901.8 L294.6 902.1 L295.0 902.4 L295.4 902.6 L295.9 902.9 L296.3 903.2 L296.7 903.5 L297.2 903.8 L297.6 904.1 L298.0 904.4 L298.5 904.7 L298.9 905.0 L299.3 905.3 L299.7 905.6 L300.2 905.9 L300.6 906.2 L301.0 906.5 L301.5 906.8 L301.9 907.2 L302.3 907.5 L302.8 907.8 L303.2 908.1 L303.6 908.4 L304.0 908.7 L304.5 909.0 L304.9 909.3 L305.3 909.6 L305.8 909.9 L306.2 910.2 L306.6 910.5 L307.1 910.8 L307.5 911.1 L307.9 911.4 L308.4 911.7 L308.8 912.0 L309.2 912.4 L309.6 912.7 L310.1 913.0 L310.5 913.3 L310.9 913.6 L311.4 913.9 L311.8 914.2 L312.2 914.5 L312.7 914.8 L313.1 915.1 L313.5 915.5 L313.9 915.8 L314.4 916.1 L314.8 916.4 L315.2 916.7 L315.7 917.0 L316.1 917.3 L316.5 917.6 L317.0 917.9 L317.4 918.3 L317.8 918.6 L318.3 918.9 L318.7 919.2 L319.1 919.5 L319.5 919.8 L320.0 920.1 L320.4 920.4 L320.8 920.7 L321.3 921.1 L321.7 921.4 L322.1 921.7 L322.6 922.0 L323.0 922.3 L323.4 922.6 L323.8 922.9 L324.3 923.2 L324.7 923.5 L325.1 923.9 L325.6 924.2 L326.0 924.5 L326.4 924.8 L326.9 925.1 L327.3 925.4 L327.7 925.7 L328.1 926.0 L328.6 926.4 L329.0 926.7 L329.4 927.0 L329.9 927.3 L330.3 927.6 L330.7 927.9 L331.2 928.2 L331.6 928.5 L332.0 928.8 L332.5 929.2 L332.9 929.5 L333.3 929.8 L333.7 930.1 L334.2 930.4 L334.6 930.7 L335.0 931.0 L335.5 931.3 L335.9 931.6 L336.3 932.0 L336.8 932.3 L337.2 932.6 L337.6 932.9 L338.0 933.2 L338.5 933.5 L338.9 933.8 L339.3 934.1 L339.8 934.4 L340.2 934.8 L340.6 935.1 L341.1 935.4 L341.5 935.7 L341.9 936.0 L342.4 936.3 L342.8 936.6 L343.2 936.9 L343.6 937.2 L344.1 937.6 L344.5 937.9 L344.9 938.2 L345.4 938.5 L345.8 938.8 L346.2 939.1 L346.7 939.4 L347.1 939.7 L347.5 940.0 L347.9 940.4 L348.4 940.7 L348.8 941.0 L349.2 941.3 L349.7 941.6 L350.1 941.9 L350.5 942.2 L351.0 942.5 L351.4 942.8 L351.8 943.2 L352.2 943.5 L352.7 943.8 L353.1 944.1 L353.5 944.4 L354.0 944.7 L354.4 945.0 L354.8 945.3 L355.3 945.6 L355.7 946.0 L356.1 946.3 L356.6 946.6 L357.0 946.9 L357.4 947.2 L357.8 947.5 L358.3 947.8 L358.7 948.1 L359.1 948.4 L359.6 948.8 L360.0 949.1 L360.4 949.4 L360.9 949.7 L361.3 950.0 L361.7 950.3 L362.1 950.6 L362.6 950.9 L363.0 951.2 L363.4 951.6 L363.9 951.9 L364.3 952.2 L364.7 952.5 L365.2 952.8 L365.6 953.1 L366.0 953.4 L366.5 953.7 L366.9 954.0 L367.3 954.4 L367.7 954.7 L368.2 955.0 L368.6 955.3 L369.0 955.6 L369.5 955.9 L369.9 956.2 L370.3 956.5 L370.8 956.9 L371.2 957.2 L371.6 957.5 L372.0 957.8 L372.5 958.1 L372.9 958.4 L373.3 958.7 L373.8 959.0 L374.2 959.3 L374.6 959.7 L375.1 960.0 L375.5 960.3 L375.9 960.6 L376.3 960.9 L376.8 961.2 L377.2 961.5 L377.6 961.8 L378.1 962.1 L378.5 962.5 L378.9 962.8 L379.4 963.1 L379.8 963.4 L380.2 963.7 L380.7 964.0 L381.1 964.3 L381.5 964.6 L381.9 964.9 L382.4 965.3 L382.8 965.6 L383.2 965.9 L383.7 966.2 L384.1 966.5 L384.5 966.8 L385.0 967.1 L385.4 967.4 L385.8 967.7 L386.2 968.1 L386.7 968.4 L387.1 968.7 L387.5 969.0 L388.0 969.3 L388.4 969.6 L388.8 969.9 L389.3 970.2 L389.7 970.5 L390.1 970.9 L390.6 971.2 L391.0 971.5 L391.4 971.8 L391.8 972.1 L392.3 972.4 L392.7 972.7 L393.1 973.0 L393.6 973.3 L394.0 973.7 L394.4 974.0 L394.9 974.3 L395.3 974.6 L395.7 974.9 L396.1 975.2 L396.6 975.5 L397.0 975.8 L397.4 976.1 L397.9 976.5 L398.3 976.8 L398.7 977.1 L399.2 977.4 L399.6 977.7 L400.0 978.0 L400.4 978.3 L400.9 978.6 L401.3 978.9 L401.7 979.3 L402.2 979.6 L402.6 979.9 L403.0 980.2 L403.5 980.5 L403.9 980.8 L404.3 981.1 L404.8 981.4 L405.2 981.7 L405.6 982.1 L406.0 982.4 L406.5 982.7 L406.9 983.0 L407.3 983.3 L407.8 983.6 L408.2 983.9 L408.6 984.2 L409.1 984.5 L409.5 984.9 L409.9 985.2 L410.3 985.5 L410.8 985.8 L411.2 986.1 L411.6 986.4 L412.1 986.7 L412.5 987.0 L412.9 987.4 L413.4 987.7 L413.8 988.0 L414.2 988.3 L414.7 988.6 L415.1 988.9 L415.5 989.2 L415.9 989.5 L416.4 989.8 L416.8 990.2 L417.2 990.5 L417.7 990.8 L418.1 991.1 L418.5 991.4 L419.0 991.7 L419.4 992.0 L419.8 992.3 L420.2 992.6 L420.7 993.0 L421.1 993.3 L421.5 993.6 L422.0 993.9 L422.4 994.2 L422.8 994.5 L423.3 994.8 L423.7 995.1 L424.1 995.4 L424.5 995.8 L425.0 996.1 L425.4 996.4 L425.8 996.7 L426.3 997.0 L426.7 997.3 L427.1 997.6 L427.6 997.9 L428.0 998.2 L428.4 998.6 L428.9 998.9 L429.3 999.2 L429.7 999.5 L430.1 999.8 L430.6 1000.1 L431.0 1000.4 L431.4 1000.7 L431.9 1001.0 L432.3 1001.4 L432.7 1001.7 L436.4 1004.3 L440.1 1007.0 L443.8 1009.7 L447.5 1012.4 L451.2 1015.0 L454.9 1017.7 L458.6 1020.4 L462.3 1023.1 L466.0 1025.7 L469.7 1028.4 L473.4 1031.1 L477.1 1033.8 L480.8 1036.5 L484.5 1039.1 L488.2 1041.8 L491.9 1044.5 L495.6 1047.2 L499.3 1049.8 L503.0 1052.5 L506.7 1055.2 L510.4 1057.9 L514.1 1060.5 L517.8 1063.2 L521.5 1065.9 L525.2 1068.6 L528.9 1071.2 L532.6 1073.9 L536.3 1076.6 L540.0 1079.3 L543.7 1081.9 L547.4 1084.6 L551.1 1087.3 L554.8 1090.0 L558.5 1092.6 L562.2 1095.3 L565.9 1098.0 L569.6 1100.7 L573.3 1103.3 L577.0 1106.0 L580.7 1108.7 L584.4 1111.4 L588.1 1114.0 L591.8 1116.7 L595.5 1119.4 L599.2 1122.1 L602.9 1124.7 L606.6 1127.4 L610.3 1130.1 L614.0 1132.8 L617.7 1135.5 L621.4 1138.1 L625.1 1140.8 L628.8 1143.5 L632.5 1146.2 L636.2 1148.8 L639.9 1151.5 L643.6 1154.2 L647.3 1156.9 L651.0 1159.5 L654.7 1162.2 L658.4 1164.9 L662.1 1167.6 L665.8 1170.2 L669.5 1172.9 L673.2 1175.6 L676.9 1178.3 L680.6 1180.9 L684.3 1183.6 L688.0 1186.3 L691.7 1189.0 L695.4 1191.6 L699.1 1194.3 L702.8 1197.0 L706.5 1199.7 L710.2 1202.3 L713.9 1205.0 L717.6 1207.7 L721.3 1210.4 L725.0 1213.0 L728.7 1215.7 L732.4 1218.4 L736.1 1221.1 L739.8 1223.7 L743.5 1226.4 L747.2 1229.1 L750.9 1231.8 L754.6 1234.5 L758.3 1237.1 L762.0 1239.8 L765.7 1242.5 L769.4 1245.2 L773.1 1247.8 L776.8 1250.5 L780.5 1253.2 L784.2 1255.9 L787.9 1258.5 L791.6 1261.2 L795.3 1263.9 L799.0 1266.6 L802.7 1269.2 L806.4 1271.9 L810.1 1274.6 L813.8 1277.3 L817.5 1279.9 L821.2 1282.6 L824.9 1285.3 L828.6 1288.0 L832.3 1290.6 L836.0 1293.3 L839.7 1296.0 L843.4 1298.7 L847.1 1301.3 L850.8 1304.0 L854.5 1306.7 L858.2 1309.4 L861.9 1312.0 L865.6 1314.7 L869.3 1317.4 L873.0 1320.1 L876.7 1322.7 L880.4 1325.4 L884.1 1328.1 L887.8 1330.8 L891.5 1333.5 L895.2 1336.1 L898.9 1338.8 L902.6 1341.5 L906.3 1344.2 L910.0 1346.8 L913.7 1349.5 L917.4 1352.2 L921.1 1354.9 L924.8 1357.5 L928.5 1360.2 L932.2 1362.9 L935.9 1365.6 L939.6 1368.2 L943.3 1370.9 L947.0 1373.6 L950.7 1376.3 L954.4 1378.9 L958.1 1381.6 L961.8 1384.3 L965.5 1387.0 L969.2 1389.6 L972.9 1392.3 L976.6 1395.0 L980.3 1397.7 L984.0 1400.3 L987.7 1403.0 L991.4 1405.7 L995.1 1408.4 L998.8 1411.0 L1002.5 1413.7 L1006.2 1416.4 L1009.9 1419.1 L1013.6 1421.7 L1017.3 1424.4 L1021.0 1427.1 L1024.7 1429.8 L1028.4 1432.5 L1032.1 1435.1 L1035.8 1437.8 L1039.5 1440.5 L1043.2 1443.2 L1046.9 1445.8 L1050.6 1448.5 L1054.3 1451.2 L1058.0 1453.9 L1061.7 1456.5 L1065.4 1459.2 L1069.1 1461.9 L1072.8 1464.6 L1076.5 1467.2 L1080.2 1469.9 L1083.9 1472.6 L1087.6 1475.3 L1091.3 1477.9 L1095.0 1480.6 L1098.7 1483.3 L1102.4 1486.0 L1106.1 1488.6 L1109.8 1491.3 L1113.5 1494.0 L1117.2 1496.7 L1120.9 1499.3 L1124.6 1502.0 L1128.3 1504.7 L1132.0 1507.4 L1135.7 1510.0 L1139.4 1512.7 L1143.1 1515.4 L1146.8 1518.1 L1150.5 1520.8 L1154.2 1523.4 L1157.9 1526.1 L1161.6 1528.8 L1165.3 1531.5 L1169.0 1534.1 L1181.3 1543.0" stroke="#ff0000"/>
<path d="M187.3 929.0 L187.5 928.6 L187.7 928.2 L187.9 927.9 L188.2 927.6 L188.5 927.3 L188.8 927.0 L189.1 926.7 L189.4 926.4 L189.7 926.1 L190.0 925.8 L190.3 925.6 L190.6 925.3 L191.0 924.9 L191.4 924.6 L191.8 924.3 L192.1 924.0 L192.5 923.7 L192.9 923.4 L193.2 923.1 L193.6 922.8 L194.0 922.5 L194.3 922.2 L194.7 921.9 L195.1 921.6 L195.4 921.3 L195.8 921.0 L196.2 920.7 L196.6 920.4 L196.9 920.2 L197.3 919.9 L197.7 919.6 L198.0 919.3 L198.4 919.0 L198.8 918.7 L199.1 918.5 L199.5 918.2 L199.9 917.9 L200.2 917.6 L200.6 917.3 L201.0 917.1 L201.4 916.8 L201.7 916.5 L202.1 916.2 L202.5 916.0 L202.8 915.7 L203.2 915.4 L203.6 915.1 L203.9 914.9 L204.3 914.6 L204.7 914.3 L205.1 914.0 L205.4 913.8 L205.8 913.5 L206.2 913.2 L206.5 912.9 L206.9 912.7 L207.3 912.4 L207.6 912.1 L208.0 911.9 L208.4 911.6 L208.7 911.3 L209.1 911.1 L209.5 910.8 L209.9 910.5 L210.2 910.3 L210.6 910.0 L211.0 909.7 L211.3 909.5 L211.7 909.2 L212.1 908.9 L212.4 908.6 L212.8 908.4 L213.2 908.1 L213.5 907.9 L213.9 907.6 L214.3 907.3 L214.7 907.1 L215.0 906.8 L215.4 906.5 L215.8 906.3 L216.1 906.0 L216.5 905.7 L216.9 905.5 L217.2 905.2 L217.6 904.9 L218.0 904.7 L218.4 904.4 L218.8 904.0 L219.3 903.7 L219.7 903.4 L220.1 903.1 L220.6 902.8 L221.0 902.5 L221.4 902.2 L221.9 901.9 L222.3 901.6 L222.7 901.3 L223.1 900.9 L223.6 900.6 L224.0 900.3 L224.4 900.0 L224.9 899.7 L225.3 899.4 L225.7 899.1 L226.2 898.8 L226.6 898.4 L227.0 898.1 L227.4 897.8 L227.9 897.5 L228.3 897.2 L228.7 896.9 L229.2 896.6 L229.6 896.2 L230.0 895.9 L230.5 895.6 L230.9 895.3 L231.3 895.0 L231.7 894.7 L232.2 894.3 L232.6 894.0 L233.0 893.7 L233.5 893.4 L233.9 893.1 L234.3 892.8 L234.8 892.5 L235.2 892.1 L235.6 891.8 L236.1 891.5 L236.5 891.2 L236.9 890.9 L237.3 890.6 L237.8 890.2 L238.2 889.9 L238.6 889.6 L239.1 889.3 L239.5 889.0 L239.9 888.6 L240.4 888.3 L240.8 888.0 L241.2 887.7 L241.6 887.4 L242.1 887.1 L242.5 886.7 L242.9 886.4 L243.4 886.1 L243.8 885.8 L244.2 885.5 L244.7 885.2 L245.1 884.8 L245.5 884.5 L246.0 884.2 L246.4 883.9 L246.8 883.6 L247.2 883.3 L247.7 882.9 L248.1 882.6 L248.5 882.3 L249.0 882.0 L249.4 881.7 L249.8 881.4 L250.3 881.1 L250.7 880.7 L251.1 880.4 L251.5 880.1 L252.0 879.8 L252.4 879.5 L252.8 879.2 L253.3 878.8 L253.7 878.5 L254.1 878.2 L254.6 877.9 L255.0 877.6 L255.4 877.3 L255.8 877.0 L256.3 876.7 L256.7 876.3 L257.1 876.0 L257.6 875.7 L258.0 875.4 L258.4 875.1 L258.9 874.8 L259.3 874.5 L259.7 874.1 L260.2 873.8 L260.6 873.5 L261.0 873.2 L261.4 872.9 L261.9 872.6 L262.3 872.3 L262.7 872.0 L263.2 871.6 L263.6 871.3 L264.0 871.0 L264.5 870.7 L264.9 870.4 L265.3 870.1 L265.7 869.8 L266.2 869.5 L266.6 869.1 L267.0 868.8 L267.5 868.5 L267.9 868.2 L268.3 867.9 L268.8 867.6 L269.2 867.3 L269.6 867.0 L270.1 866.7 L270.5 866.3 L270.9 866.0 L271.3 865.7 L271.8 865.4 L272.2 865.1 L272.6 864.8 L273.1 864.5 L273.5 864.2 L273.9 863.9 L274.4 863.6 L274.8 863.2 L275.2 862.9 L275.6 862.6 L276.1 862.3 L276.5 862.0 L276.9 861.7 L277.4 861.4 L277.8 861.1 L278.2 860.8 L278.7 860.4 L279.1 860.1 L279.5 859.8 L279.9 859.5 L280.4 859.2 L280.8 858.9 L281.2 858.6 L281.7 858.3 L282.1 858.0 L282.5 857.7 L283.0 857.4 L283.4 857.0 L283.8 856.7 L284.3 856.4 L284.7 856.1 L285.1 855.8 L285.5 855.5 L286.0 855.2 L286.4 854.9 L286.8 854.6 L287.3 854.3 L287.7 853.9 L288.1 853.6 L288.6 853.3 L289.0 853.0 L289.4 852.7 L289.8 852.4 L290.3 852.1 L290.7 851.8 L291.1 851.5 L291.6 851.2 L292.0 850.9 L292.4 850.5 L292.9 850.2 L293.3 849.9 L293.7 849.6 L294.2 849.3 L294.6 849.0 L295.0 848.7 L295.4 848.4 L295.9 848.1 L296.3 847.8 L296.7 847.5 L297.2 847.1 L297.6 846.8 L298.0 846.5 L298.5 846.2 L298.9 845.9 L299.3 845.6 L299.7 845.3 L300.2 845.0 L300.6 844.7 L301.0 844.4 L301.5 844.1 L301.9 843.7 L302.3 843.4 L302.8 843.1 L303.2 842.8 L303.6 842.5 L304.0 842.2 L304.5 841.9 L304.9 841.6 L305.3 841.3 L305.8 841.0 L306.2 840.7 L306.6 840.3 L307.1 840.0 L307.5 839.7 L307.9 839.4 L308.4 839.1 L308.8 838.8 L309.2 838.5 L309.6 838.2 L310.1 837.9 L310.5 837.6 L310.9 837.3 L311.4 836.9 L311.8 836.6 L312.2 836.3 L312.7 836.0 L313.1 835.7 L313.5 835.4 L313.9 835.1 L314.4 834.8 L314.8 834.5 L315.2 834.1 L315.7 833.8 L316.1 833.5 L316.5 833.2 L317.0 832.9 L317.4 832.6 L317.8 832.3 L318.3 832.0 L318.7 831.7 L319.1 831.3 L319.5 831.0 L320.0 830.7 L320.4 830.4 L320.8 830.1 L321.3 829.8 L321.7 829.5 L322.1 829.2 L322.6 828.9 L323.0 828.5 L323.4 828.2 L323.8 827.9 L324.3 827.6 L324.7 827.3 L325.1 827.0 L325.6 826.7 L326.0 826.4 L326.4 826.0 L326.9 825.7 L327.3 825.4 L327.7 825.1 L328.1 824.8 L328.6 824.5 L329.0 824.2 L329.4 823.9 L329.9 823.6 L330.3 823.2 L330.7 822.9 L331.2 822.6 L331.6 822.3 L332.0 822.0 L332.5 821.7 L332.9 821.4 L333.3 821.1 L333.7 820.8 L334.2 820.4 L334.6 820.1 L335.0 819.8 L335.5 819.5 L335.9 819.2 L336.3 818.9 L336.8 818.6 L337.2 818.3 L337.6 818.0 L338.0 817.6 L338.5 817.3 L338.9 817.0 L339.3 816.7 L339.8 816.4 L340.2 816.1 L340.6 815.8 L341.1 815.5 L341.5 815.2 L341.9 814.8 L342.4 814.5 L342.8 814.2 L343.2 813.9 L343.6 813.6 L344.1 813.3 L344.5 813.0 L344.9 812.7 L345.4 812.4 L345.8 812.0 L346.2 811.7 L346.7 811.4 L347.1 811.1 L347.5 810.8 L347.9 810.5 L348.4 810.2 L348.8 809.9 L349.2 809.6 L349.7 809.2 L350.1 808.9 L350.5 808.6 L351.0 808.3 L351.4 808.0 L351.8 807.7 L352.2 807.4 L352.7 807.1 L353.1 806.8 L353.5 806.4 L354.0 806.1 L354.4 805.8 L354.8 805.5 L355.3 805.2 L355.7 804.9 L356.1 804.6 L356.6 804.3 L357.0 804.0 L357.4 803.6 L357.8 803.3 L358.3 803.0 L358.7 802.7 L359.1 802.4 L359.6 802.1 L360.0 801.8 L360.4 801.5 L360.9 801.2 L361.3 800.8 L361.7 800.5 L362.1 800.2 L362.6 799.9 L363.0 799.6 L363.4 799.3 L363.9 799.0 L364.3 798.7 L364.7 798.4 L365.2 798.0 L365.6 797.7 L366.0 797.4 L366.5 797.1 L366.9 796.8 L367.3 796.5 L367.7 796.2 L368.2 795.9 L368.6 795.5 L369.0 795.2 L369.5 794.9 L369.9 794.6 L370.3 794.3 L370.8 794.0 L371.2 793.7 L371.6 793.4 L372.0 793.1 L372.5 792.7 L372.9 792.4 L373.3 792.1 L373.8 791.8 L374.2 791.5 L374.6 791.2 L375.1 790.9 L375.5 790.6 L375.9 790.3 L376.3 789.9 L376.8 789.6 L377.2 789.3 L377.6 789.0 L378.1 788.7 L378.5 788.4 L378.9 788.1 L379.4 787.8 L379.8 787.5 L380.2 787.1 L380.7 786.8 L381.1 786.5 L381.5 786.2 L381.9 785.9 L382.4 785.6 L382.8 785.3 L383.2 785.0 L383.7 784.7 L384.1 784.3 L384.5 784.0 L385.0 783.7 L385.4 783.4 L385.8 783.1 L386.2 782.8 L386.7 782.5 L387.1 782.2 L387.5 781.9 L388.0 781.5 L388.4 781.2 L388.8 780.9 L389.3 780.6 L389.7 780.3 L390.1 780.0 L390.6 779.7 L391.0 779.4 L391.4 779.1 L391.8 778.7 L392.3 778.4 L392.7 778.1 L393.1 777.8 L393.6 777.5 L394.0 777.2 L394.4 776.9 L394.9 776.6 L395.3 776.3 L395.7 775.9 L396.1 775.6 L396.6 775.3 L397.0 775.0 L397.4 774.7 L397.9 774.4 L398.3 774.1 L398.7 773.8 L399.2 773.5 L399.6 773.1 L400.0 772.8 L400.4 772.5 L400.9 772.2 L401.3 771.9 L401.7 771.6 L402.2 771.3 L402.6 771.0 L403.0 770.7 L403.5 770.3 L403.9 770.0 L404.3 769.7 L404.8 769.4 L405.2 769.1 L405.6 768.8 L406.0 768.5 L406.5 768.2 L406.9 767.8 L407.3 767.5 L407.8 767.2 L408.2 766.9 L408.6 766.6 L409.1 766.3 L409.5 766.0 L409.9 765.7 L410.3 765.4 L410.8 765.0 L411.2 764.7 L411.6 764.4 L412.1 764.1 L412.5 763.8 L412.9 763.5 L413.4 763.2 L413.8 762.9 L414.2 762.6 L414.7 762.2 L415.1 761.9 L415.5 761.6 L415.9 761.3 L416.4 761.0 L416.8 760.7 L417.2 760.4 L417.7 760.1 L418.1 759.8 L418.5 759.4 L419.0 759.1 L419.4 758.8 L419.8 758.5 L420.2 758.2 L420.7 757.9 L421.1 757.6 L421.5 757.3 L422.0 757.0 L422.4 756.6 L422.8 756.3 L423.3 756.0 L423.7 755.7 L424.1 755.4 L424.5 755.1 L425.0 754.8 L425.4 754.5 L425.8 754.2 L426.3 753.8 L426.7 753.5 L427.1 753.2 L427.6 752.9 L428.0 752.6 L428.4 752.3 L428.9 752.0 L429.3 751.7 L429.7 751.4 L430.1 751.0 L430.6 750.7 L431.0 750.4 L431.4 750.1 L431.9 749.8 L432.3 749.5 L432.7 749.2 L436.4 746.5 L440.1 743.8 L443.8 741.1 L447.5 738.5 L451.2 735.8 L454.9 733.1 L458.6 730.4 L462.3 727.8 L466.0 725.1 L469.7 722.4 L473.4 719.7 L477.1 717.1 L480.8 714.4 L484.5 711.7 L488.2 709.0 L491.9 706.4 L495.6 703.7 L499.3 701.0 L503.0 698.3 L506.7 695.7 L510.4 693.0 L514.1 690.3 L517.8 687.6 L521.5 685.0 L525.2 682.3 L528.9 679.6 L532.6 676.9 L536.3 674.3 L540.0 671.6 L543.7 668.9 L547.4 666.2 L551.1 663.6 L554.8 660.9 L558.5 658.2 L562.2 655.5 L565.9 652.9 L569.6 650.2 L573.3 647.5 L577.0 644.8 L580.7 642.1 L584.4 639.5 L588.1 636.8 L591.8 634.1 L595.5 631.4 L599.2 628.8 L602.9 626.1 L606.6 623.4 L610.3 620.7 L614.0 618.1 L617.7 615.4 L621.4 612.7 L625.1 610.0 L628.8 607.4 L632.5 604.7 L636.2 602.0 L639.9 599.3 L643.6 596.7 L647.3 594.0 L651.0 591.3 L654.7 588.6 L658.4 586.0 L662.1 583.3 L665.8 580.6 L669.5 577.9 L673.2 575.3 L676.9 572.6 L680.6 569.9 L684.3 567.2 L688.0 564.6 L691.7 561.9 L695.4 559.2 L699.1 556.5 L702.8 553.9 L706.5 551.2 L710.2 548.5 L713.9 545.8 L717.6 543.1 L721.3 540.5 L725.0 537.8 L728.7 535.1 L732.4 532.4 L736.1 529.8 L739.8 527.1 L743.5 524.4 L747.2 521.7 L750.9 519.1 L754.6 516.4 L758.3 513.7 L762.0 511.0 L765.7 508.4 L769.4 505.7 L773.1 503.0 L776.8 500.3 L780.5 497.7 L784.2 495.0 L787.9 492.3 L791.6 489.6 L795.3 487.0 L799.0 484.3 L802.7 481.6 L806.4 478.9 L810.1 476.3 L813.8 473.6 L817.5 470.9 L821.2 468.2 L824.9 465.6 L828.6 462.9 L832.3 460.2 L836.0 457.5 L839.7 454.9 L843.4 452.2 L847.1 449.5 L850.8 446.8 L854.5 444.1 L858.2 441.5 L861.9 438.8 L865.6 436.1 L869.3 433.4 L873.0 430.8 L876.7 428.1 L880.4 425.4 L884.1 422.7 L887.8 420.1 L891.5 417.4 L895.2 414.7 L898.9 412.0 L902.6 409.4 L906.3 406.7 L910.0 404.0 L913.7 401.3 L917.4 398.7 L921.1 396.0 L924.8 393.3 L928.5 390.6 L932.2 388.0 L935.9 385.3 L939.6 382.6 L943.3 379.9 L947.0 377.3 L950.7 374.6 L954.4 371.9 L958.1 369.2 L961.8 366.6 L965.5 363.9 L969.2 361.2 L972.9 358.5 L976.6 355.9 L980.3 353.2 L984.0 350.5 L987.7 347.8 L991.4 345.1 L995.1 342.5 L998.8 339.8 L1002.5 337.1 L1006.2 334.4 L1009.9 331.8 L1013.6 329.1 L1017.3 326.4 L1021.0 323.7 L1024.7 321.1 L1028.4 318.4 L1032.1 315.7 L1035.8 313.0 L1039.5 310.4 L1043.2 307.7 L1046.9 305.0 L1050.6 302.3 L1054.3 299.7 L1058.0 297.0 L1061.7 294.3 L1065.4 291.6 L1069.1 289.0 L1072.8 286.3 L1076.5 283.6 L1080.2 280.9 L1083.9 278.3 L1087.6 275.6 L1091.3 272.9 L1095.0 270.2 L1098.7 267.6 L1102.4 264.9 L1106.1 262.2 L1109.8 259.5 L1113.5 256.8 L1117.2 254.2 L1120.9 251.5 L1124.6 248.8 L1128.3 246.1 L1132.0 243.5 L1135.7 240.8 L1139.4 238.1 L1143.1 235.4 L1146.8 232.8 L1150.5 230.1 L1154.2 227.4 L1157.9 224.7 L1161.6 222.1 L1165.3 219.4 L1169.0 216.7 L1181.3 207.8" stroke="#000000"/>
<path d="M187.3 986.2 L187.5 985.8 L187.6 985.5 L187.8 985.1 L188.0 984.7 L188.2 984.4 L188.4 984.0 L188.7 983.7 L188.9 983.3 L189.1 983.0 L189.4 982.6 L189.6 982.3 L189.9 982.0 L190.1 981.7 L190.5 981.2 L190.7 980.9 L191.0 980.6 L191.3 980.2 L191.6 979.9 L191.8 979.5 L192.1 979.2 L192.4 978.9 L192.7 978.5 L193.0 978.2 L193.2 977.9 L193.5 977.6 L193.8 977.3 L194.1 977.0 L194.3 976.6 L194.6 976.3 L194.9 976.0 L195.2 975.7 L195.4 975.4 L195.7 975.1 L196.0 974.8 L196.3 974.5 L196.6 974.2 L196.8 973.9 L197.1 973.6 L197.4 973.3 L197.7 973.0 L197.9 972.7 L198.2 972.4 L198.5 972.1 L198.8 971.8 L199.0 971.6 L199.4 971.2 L199.8 970.8 L200.2 970.4 L200.5 970.0 L200.9 969.7 L201.3 969.3 L201.6 968.9 L202.0 968.5 L202.4 968.2 L202.7 967.8 L203.1 967.4 L203.5 967.1 L203.8 966.7 L204.2 966.3 L204.6 966.0 L205.0 965.6 L205.3 965.3 L205.7 964.9 L206.1 964.6 L206.4 964.2 L206.8 963.8 L207.2 963.5 L207.5 963.1 L207.9 962.8 L208.3 962.5 L208.7 962.1 L209.0 961.8 L209.4 961.4 L209.8 961.1 L210.1 960.7 L210.5 960.4 L210.9 960.1 L211.2 959.7 L211.6 959.4 L212.0 959.0 L212.3 958.7 L212.7 958.4 L213.1 958.0 L213.5 957.7 L213.8 957.4 L214.2 957.0 L214.6 956.7 L214.9 956.4 L215.3 956.0 L215.7 955.7 L216.0 955.4 L216.4 955.1 L216.8 954.7 L217.1 954.4 L217.5 954.1 L217.9 953.8 L218.4 953.3 L218.8 952.9 L219.3 952.6 L219.7 952.2 L220.1 951.8 L220.6 951.4 L221.0 951.1 L221.4 950.7 L221.9 950.3 L222.3 950.0 L222.7 949.6 L223.1 949.2 L223.6 948.8 L224.0 948.5 L224.4 948.1 L224.9 947.8 L225.3 947.4 L225.7 947.0 L226.2 946.7 L226.6 946.3 L227.0 945.9 L227.4 945.6 L227.9 945.2 L228.3 944.9 L228.7 944.5 L229.2 944.2 L229.6 943.8 L230.0 943.4 L230.5 943.1 L230.9 942.7 L231.3 942.4 L231.7 942.0 L232.2 941.7 L232.6 941.3 L233.0 941.0 L233.5 940.6 L233.9 940.3 L234.3 939.9 L234.8 939.6 L235.2 939.2 L235.6 938.9 L236.1 938.5 L236.5 938.2 L236.9 937.8 L237.3 937.5 L237.8 937.1 L238.2 936.8 L238.6 936.4 L239.1 936.1 L239.5 935.7 L239.9 935.4 L240.4 935.0 L240.8 934.7 L241.2 934.4 L241.6 934.0 L242.1 933.7 L242.5 933.3 L242.9 933.0 L243.4 932.7 L243.8 932.3 L244.2 932.0 L244.7 931.6 L245.1 931.3 L245.5 931.0 L246.0 930.6 L246.4 930.3 L246.8 929.9 L247.2 929.6 L247.7 929.3 L248.1 928.9 L248.5 928.6 L249.0 928.3 L249.4 927.9 L249.8 927.6 L250.3 927.3 L250.7 926.9 L251.1 926.6 L251.5 926.3 L252.0 925.9 L252.4 925.6 L252.8 925.3 L253.3 924.9 L253.7 924.6 L254.1 924.3 L254.6 923.9 L255.0 923.6 L255.4 923.3 L255.8 923.0 L256.3 922.6 L256.7 922.3 L257.1 922.0 L257.6 921.6 L258.0 921.3 L258.4 921.0 L258.9 920.7 L259.3 920.3 L259.7 920.0 L260.2 919.7 L260.6 919.4 L261.0 919.0 L261.4 918.7 L261.9 918.4 L262.3 918.1 L262.7 917.8 L263.2 917.4 L263.6 917.1 L264.0 916.8 L264.5 916.5 L264.9 916.1 L265.3 915.8 L265.7 915.5 L266.2 915.2 L266.6 914.9 L267.0 914.5 L267.5 914.2 L267.9 913.9 L268.3 913.6 L268.8 913.3 L269.2 912.9 L269.6 912.6 L270.1 912.3 L270.5 912.0 L270.9 911.7 L271.3 911.4 L271.8 911.0 L272.2 910.7 L272.6 910.4 L273.1 910.1 L273.5 909.8 L273.9 909.5 L274.4 909.1 L274.8 908.8 L275.2 908.5 L275.6 908.2 L276.1 907.9 L276.5 907.6 L276.9 907.3 L277.4 907.0 L277.8 906.6 L278.2 906.3 L278.7 906.0 L279.1 905.7 L279.5 905.4 L279.9 905.1 L280.4 904.8 L280.8 904.5 L281.2 904.1 L281.7 903.8 L282.1 903.5 L282.5 903.2 L283.0 902.9 L283.4 902.6 L283.8 902.3 L284.3 902.0 L284.7 901.7 L285.1 901.3 L285.5 901.0 L286.0 900.7 L286.4 900.4 L286.8 900.1 L287.3 899.8 L287.7 899.5 L288.1 899.2 L288.6 898.9 L289.0 898.6 L289.4 898.3 L289.8 898.0 L290.3 897.6 L290.7 897.3 L291.1 897.0 L291.6 896.7 L292.0 896.4 L292.4 896.1 L292.9 895.8 L293.3 895.5 L293.7 895.2 L294.2 894.9 L294.6 894.6 L295.0 894.3 L295.4 894.0 L295.9 893.7 L296.3 893.4 L296.7 893.1 L297.2 892.8 L297.6 892.4 L298.0 892.1 L298.5 891.8 L298.9 891.5 L299.3 891.2 L299.7 890.9 L300.2 890.6 L300.6 890.3 L301.0 890.0 L301.5 889.7 L301.9 889.4 L302.3 889.1 L302.8 888.8 L303.2 888.5 L303.6 888.2 L304.0 887.9 L304.5 887.6 L304.9 887.3 L305.3 887.0 L305.8 886.7 L306.2 886.4 L306.6 886.1 L307.1 885.8 L307.5 885.5 L307.9 885.2 L308.4 884.9 L308.8 884.6 L309.2 884.3 L309.6 884.0 L310.1 883.7 L310.5 883.4 L310.9 883.1 L311.4 882.7 L311.8 882.4 L312.2 882.1 L312.7 881.8 L313.1 881.5 L313.5 881.2 L313.9 880.9 L314.4 880.6 L314.8 880.3 L315.2 879.9 L315.7 879.6 L316.1 879.3 L316.5 879.0 L317.0 878.7 L317.4 878.4 L317.8 878.1 L318.3 877.8 L318.7 877.5 L319.1 877.1 L319.5 876.8 L320.0 876.5 L320.4 876.2 L320.8 875.9 L321.3 875.6 L321.7 875.3 L322.1 875.0 L322.6 874.7 L323.0 874.3 L323.4 874.0 L323.8 873.7 L324.3 873.4 L324.7 873.1 L325.1 872.8 L325.6 872.5 L326.0 872.2 L326.4 871.9 L326.9 871.5 L327.3 871.2 L327.7 870.9 L328.1 870.6 L328.6 870.3 L329.0 870.0 L329.4 869.7 L329.9 869.4 L330.3 869.1 L330.7 868.7 L331.2 868.4 L331.6 868.1 L332.0 867.8 L332.5 867.5 L332.9 867.2 L333.3 866.9 L333.7 866.6 L334.2 866.3 L334.6 865.9 L335.0 865.6 L335.5 865.3 L335.9 865.0 L336.3 864.7 L336.8 864.4 L337.2 864.1 L337.6 863.8 L338.0 863.4 L338.5 863.1 L338.9 862.8 L339.3 862.5 L339.8 862.2 L340.2 861.9 L340.6 861.6 L341.1 861.3 L341.5 861.0 L341.9 860.6 L342.4 860.3 L342.8 860.0 L343.2 859.7 L343.6 859.4 L344.1 859.1 L344.5 858.8 L344.9 858.5 L345.4 858.2 L345.8 857.8 L346.2 857.5 L346.7 857.2 L347.1 856.9 L347.5 856.6 L347.9 856.3 L348.4 856.0 L348.8 855.7 L349.2 855.4 L349.7 855.0 L350.1 854.7 L350.5 854.4 L351.0 854.1 L351.4 853.8 L351.8 853.5 L352.2 853.2 L352.7 852.9 L353.1 852.6 L353.5 852.2 L354.0 851.9 L354.4 851.6 L354.8 851.3 L355.3 851.0 L355.7 850.7 L356.1 850.4 L356.6 850.1 L357.0 849.8 L357.4 849.4 L357.8 849.1 L358.3 848.8 L358.7 848.5 L359.1 848.2 L359.6 847.9 L360.0 847.6 L360.4 847.3 L360.9 847.0 L361.3 846.6 L361.7 846.3 L362.1 846.0 L362.6 845.7 L363.0 845.4 L363.4 845.1 L363.9 844.8 L364.3 844.5 L364.7 844.2 L365.2 843.8 L365.6 843.5 L366.0 843.2 L366.5 842.9 L366.9 842.6 L367.3 842.3 L367.7 842.0 L368.2 841.7 L368.6 841.4 L369.0 841.0 L369.5 840.7 L369.9 840.4 L370.3 840.1 L370.8 839.8 L371.2 839.5 L371.6 839.2 L372.0 838.9 L372.5 838.6 L372.9 838.2 L373.3 837.9 L373.8 837.6 L374.2 837.3 L374.6 837.0 L375.1 836.7 L375.5 836.4 L375.9 836.1 L376.3 835.8 L376.8 835.4 L377.2 835.1 L377.6 834.8 L378.1 834.5 L378.5 834.2 L378.9 833.9 L379.4 833.6 L379.8 833.3 L380.2 832.9 L380.7 832.6 L381.1 832.3 L381.5 832.0 L381.9 831.7 L382.4 831.4 L382.8 831.1 L383.2 830.8 L383.7 830.5 L384.1 830.1 L384.5 829.8 L385.0 829.5 L385.4 829.2 L385.8 828.9 L386.2 828.6 L386.7 828.3 L387.1 828.0 L387.5 827.7 L388.0 827.3 L388.4 827.0 L388.8 826.7 L389.3 826.4 L389.7 826.1 L390.1 825.8 L390.6 825.5 L391.0 825.2 L391.4 824.9 L391.8 824.5 L392.3 824.2 L392.7 823.9 L393.1 823.6 L393.6 823.3 L394.0 823.0 L394.4 822.7 L394.9 822.4 L395.3 822.1 L395.7 821.7 L396.1 821.4 L396.6 821.1 L397.0 820.8 L397.4 820.5 L397.9 820.2 L398.3 819.9 L398.7 819.6 L399.2 819.3 L399.6 818.9 L400.0 818.6 L400.4 818.3 L400.9 818.0 L401.3 817.7 L401.7 817.4 L402.2 817.1 L402.6 816.8 L403.0 816.5 L403.5 816.1 L403.9 815.8 L404.3 815.5 L404.8 815.2 L405.2 814.9 L405.6 814.6 L406.0 814.3 L406.5 814.0 L406.9 813.7 L407.3 813.3 L407.8 813.0 L408.2 812.7 L408.6 812.4 L409.1 812.1 L409.5 811.8 L409.9 811.5 L410.3 811.2 L410.8 810.9 L411.2 810.5 L411.6 810.2 L412.1 809.9 L412.5 809.6 L412.9 809.3 L413.4 809.0 L413.8 808.7 L414.2 808.4 L414.7 808.1 L415.1 807.7 L415.5 807.4 L415.9 807.1 L416.4 806.8 L416.8 806.5 L417.2 806.2 L417.7 805.9 L418.1 805.6 L418.5 805.3 L419.0 804.9 L419.4 804.6 L419.8 804.3 L420.2 804.0 L420.7 803.7 L421.1 803.4 L421.5 803.1 L422.0 802.8 L422.4 802.4 L422.8 802.1 L423.3 801.8 L423.7 801.5 L424.1 801.2 L424.5 800.9 L425.0 800.6 L425.4 800.3 L425.8 800.0 L426.3 799.6 L426.7 799.3 L427.1 799.0 L427.6 798.7 L428.0 798.4 L428.4 798.1 L428.9 797.8 L429.3 797.5 L429.7 797.2 L430.1 796.8 L430.6 796.5 L431.0 796.2 L431.4 795.9 L431.9 795.6 L432.3 795.3 L432.7 795.0 L436.4 792.3 L440.1 789.6 L443.8 787.0 L447.5 784.3 L451.2 781.6 L454.9 778.9 L458.6 776.2 L462.3 773.6 L466.0 770.9 L469.7 768.2 L473.4 765.5 L477.1 762.9 L480.8 760.2 L484.5 757.5 L488.2 754.8 L491.9 752.2 L495.6 749.5 L499.3 746.8 L503.0 744.1 L506.7 741.5 L510.4 738.8 L514.1 736.1 L517.8 733.4 L521.5 730.8 L525.2 728.1 L528.9 725.4 L532.6 722.7 L536.3 720.1 L540.0 717.4 L543.7 714.7 L547.4 712.0 L551.1 709.4 L554.8 706.7 L558.5 704.0 L562.2 701.3 L565.9 698.7 L569.6 696.0 L573.3 693.3 L577.0 690.6 L580.7 688.0 L584.4 685.3 L588.1 682.6 L591.8 679.9 L595.5 677.2 L599.2 674.6 L602.9 671.9 L606.6 669.2 L610.3 666.5 L614.0 663.9 L617.7 661.2 L621.4 658.5 L625.1 655.8 L628.8 653.2 L632.5 650.5 L636.2 647.8 L639.9 645.1 L643.6 642.5 L647.3 639.8 L651.0 637.1 L654.7 634.4 L658.4 631.8 L662.1 629.1 L665.8 626.4 L669.5 623.7 L673.2 621.1 L676.9 618.4 L680.6 615.7 L684.3 613.0 L688.0 610.4 L691.7 607.7 L695.4 605.0 L699.1 602.3 L702.8 599.7 L706.5 597.0 L710.2 594.3 L713.9 591.6 L717.6 589.0 L721.3 586.3 L725.0 583.6 L728.7 580.9 L732.4 578.2 L736.1 575.6 L739.8 572.9 L743.5 570.2 L747.2 567.5 L750.9 564.9 L754.6 562.2 L758.3 559.5 L762.0 556.8 L765.7 554.2 L769.4 551.5 L773.1 548.8 L776.8 546.1 L780.5 543.5 L784.2 540.8 L787.9 538.1 L791.6 535.4 L795.3 532.8 L799.0 530.1 L802.7 527.4 L806.4 524.7 L810.1 522.1 L813.8 519.4 L817.5 516.7 L821.2 514.0 L824.9 511.4 L828.6 508.7 L832.3 506.0 L836.0 503.3 L839.7 500.7 L843.4 498.0 L847.1 495.3 L850.8 492.6 L854.5 490.0 L858.2 487.3 L861.9 484.6 L865.6 481.9 L869.3 479.2 L873.0 476.6 L876.7 473.9 L880.4 471.2 L884.1 468.5 L887.8 465.9 L891.5 463.2 L895.2 460.5 L898.9 457.8 L902.6 455.2 L906.3 452.5 L910.0 449.8 L913.7 447.1 L917.4 444.5 L921.1 441.8 L924.8 439.1 L928.5 436.4 L932.2 433.8 L935.9 431.1 L939.6 428.4 L943.3 425.7 L947.0 423.1 L950.7 420.4 L954.4 417.7 L958.1 415.0 L961.8 412.4 L965.5 409.7 L969.2 407.0 L972.9 404.3 L976.6 401.7 L980.3 399.0 L984.0 396.3 L987.7 393.6 L991.4 391.0 L995.1 388.3 L998.8 385.6 L1002.5 382.9 L1006.2 380.2 L1009.9 377.6 L1013.6 374.9 L1017.3 372.2 L1021.0 369.5 L1024.7 366.9 L1028.4 364.2 L1032.1 361.5 L1035.8 358.8 L1039.5 356.2 L1043.2 353.5 L1046.9 350.8 L1050.6 348.1 L1054.3 345.5 L1058.0 342.8 L1061.7 340.1 L1065.4 337.4 L1069.1 334.8 L1072.8 332.1 L1076.5 329.4 L1080.2 326.7 L1083.9 324.1 L1087.6 321.4 L1091.3 318.7 L1095.0 316.0 L1098.7 313.4 L1102.4 310.7 L1106.1 308.0 L1109.8 305.3 L1113.5 302.7 L1117.2 300.0 L1120.9 297.3 L1124.6 294.6 L1128.3 292.0 L1132.0 289.3 L1135.7 286.6 L1139.4 283.9 L1143.1 281.2 L1146.8 278.6 L1150.5 275.9 L1154.2 273.2 L1157.9 270.5 L1161.6 267.9 L1165.3 265.2 L1169.0 262.5 L1181.3 253.6" stroke="#ff00ff"/>
<path d="M187.3 1043.5 L187.4 1043.1 L187.6 1042.7 L187.7 1042.3 L187.9 1041.9 L188.0 1041.5 L188.2 1041.1 L188.3 1040.7 L188.5 1040.3 L188.6 1039.9 L188.8 1039.5 L188.9 1039.1 L189.1 1038.7 L189.2 1038.4 L189.4 1038.0 L189.6 1037.6 L189.7 1037.2 L189.9 1036.8 L190.1 1036.4 L190.2 1036.0 L190.5 1035.5 L190.6 1035.1 L190.8 1034.7 L191.0 1034.3 L191.2 1033.9 L191.4 1033.5 L191.6 1033.1 L191.8 1032.7 L191.9 1032.3 L192.1 1031.9 L192.3 1031.5 L192.5 1031.1 L192.7 1030.8 L192.9 1030.4 L193.0 1030.0 L193.2 1029.6 L193.4 1029.3 L193.6 1028.9 L193.8 1028.6 L194.1 1028.0 L194.3 1027.5 L194.6 1027.0 L194.9 1026.5 L195.2 1026.0 L195.4 1025.5 L195.7 1025.0 L196.0 1024.5 L196.3 1024.1 L196.6 1023.6 L196.8 1023.1 L197.1 1022.7 L197.4 1022.2 L197.7 1021.7 L197.9 1021.3 L198.2 1020.8 L198.5 1020.4 L198.8 1019.9 L199.0 1019.5 L199.3 1019.1 L199.6 1018.6 L199.9 1018.2 L200.2 1017.8 L200.4 1017.4 L200.7 1016.9 L201.0 1016.5 L201.3 1016.1 L201.5 1015.7 L201.8 1015.3 L202.1 1014.9 L202.4 1014.5 L202.6 1014.1 L202.9 1013.7 L203.2 1013.3 L203.5 1012.9 L203.8 1012.5 L204.0 1012.1 L204.3 1011.7 L204.6 1011.3 L204.9 1010.9 L205.1 1010.5 L205.4 1010.2 L205.7 1009.8 L206.0 1009.4 L206.3 1009.0 L206.5 1008.7 L206.8 1008.3 L207.1 1007.9 L207.4 1007.5 L207.6 1007.2 L207.9 1006.8 L208.2 1006.5 L208.5 1006.1 L208.7 1005.7 L209.0 1005.4 L209.3 1005.0 L209.6 1004.7 L209.9 1004.3 L210.1 1004.0 L210.4 1003.6 L210.7 1003.3 L211.0 1003.0 L211.2 1002.6 L211.5 1002.3 L211.8 1001.9 L212.1 1001.6 L212.3 1001.3 L212.6 1000.9 L212.9 1000.6 L213.2 1000.3 L213.5 999.9 L213.7 999.6 L214.0 999.3 L214.3 999.0 L214.6 998.6 L214.8 998.3 L215.1 998.0 L215.4 997.7 L215.7 997.4 L215.9 997.0 L216.2 996.7 L216.5 996.4 L216.8 996.1 L217.1 995.8 L217.3 995.5 L217.6 995.2 L217.9 994.9 L218.4 994.3 L218.8 993.8 L219.3 993.3 L219.7 992.9 L220.1 992.4 L220.6 991.9 L221.0 991.5 L221.4 991.0 L221.9 990.6 L222.3 990.1 L222.7 989.6 L223.1 989.2 L223.6 988.7 L224.0 988.3 L224.4 987.8 L224.9 987.4 L225.3 987.0 L225.7 986.5 L226.2 986.1 L226.6 985.6 L227.0 985.2 L227.4 984.8 L227.9 984.3 L228.3 983.9 L228.7 983.5 L229.2 983.1 L229.6 982.6 L230.0 982.2 L230.5 981.8 L230.9 981.4 L231.3 980.9 L231.7 980.5 L232.2 980.1 L232.6 979.7 L233.0 979.3 L233.5 978.9 L233.9 978.5 L234.3 978.0 L234.8 977.6 L235.2 977.2 L235.6 976.8 L236.1 976.4 L236.5 976.0 L236.9 975.6 L237.3 975.2 L237.8 974.8 L238.2 974.4 L238.6 974.0 L239.1 973.6 L239.5 973.2 L239.9 972.8 L240.4 972.4 L240.8 972.0 L241.2 971.6 L241.6 971.2 L242.1 970.8 L242.5 970.4 L242.9 970.1 L243.4 969.7 L243.8 969.3 L244.2 968.9 L244.7 968.5 L245.1 968.1 L245.5 967.7 L246.0 967.4 L246.4 967.0 L246.8 966.6 L247.2 966.2 L247.7 965.8 L248.1 965.5 L248.5 965.1 L249.0 964.7 L249.4 964.3 L249.8 964.0 L250.3 963.6 L250.7 963.2 L251.1 962.9 L251.5 962.5 L252.0 962.1 L252.4 961.8 L252.8 961.4 L253.3 961.0 L253.7 960.7 L254.1 960.3 L254.6 959.9 L255.0 959.6 L255.4 959.2 L255.8 958.9 L256.3 958.5 L256.7 958.1 L257.1 957.8 L257.6 957.4 L258.0 957.1 L258.4 956.7 L258.9 956.4 L259.3 956.0 L259.7 955.6 L260.2 955.3 L260.6 954.9 L261.0 954.6 L261.4 954.2 L261.9 953.9 L262.3 953.5 L262.7 953.2 L263.2 952.8 L263.6 952.5 L264.0 952.1 L264.5 951.8 L264.9 951.5 L265.3 951.1 L265.7 950.8 L266.2 950.4 L266.6 950.1 L267.0 949.7 L267.5 949.4 L267.9 949.1 L268.3 948.7 L268.8 948.4 L269.2 948.0 L269.6 947.7 L270.1 947.4 L270.5 947.0 L270.9 946.7 L271.3 946.3 L271.8 946.0 L272.2 945.7 L272.6 945.3 L273.1 945.0 L273.5 944.7 L273.9 944.3 L274.4 944.0 L274.8 943.7 L275.2 943.3 L275.6 943.0 L276.1 942.7 L276.5 942.3 L276.9 942.0 L277.4 941.7 L277.8 941.4 L278.2 941.0 L278.7 940.7 L279.1 940.4 L279.5 940.0 L279.9 939.7 L280.4 939.4 L280.8 939.1 L281.2 938.7 L281.7 938.4 L282.1 938.1 L282.5 937.8 L283.0 937.4 L283.4 937.1 L283.8 936.8 L284.3 936.5 L284.7 936.2 L285.1 935.8 L285.5 935.5 L286.0 935.2 L286.4 934.9 L286.8 934.6 L287.3 934.3 L287.7 933.9 L288.1 933.6 L288.6 933.3 L289.0 933.0 L289.4 932.7 L289.8 932.4 L290.3 932.0 L290.7 931.7 L291.1 931.4 L291.6 931.1 L292.0 930.8 L292.4 930.5 L292.9 930.2 L293.3 929.9 L293.7 929.5 L294.2 929.2 L294.6 928.9 L295.0 928.6 L295.4 928.3 L295.9 928.0 L296.3 927.7 L296.7 927.4 L297.2 927.1 L297.6 926.8 L298.0 926.5 L298.5 926.2 L298.9 925.9 L299.3 925.6 L299.7 925.2 L300.2 924.9 L300.6 924.6 L301.0 924.3 L301.5 924.0 L301.9 923.7 L302.3 923.4 L302.8 923.1 L303.2 922.8 L303.6 922.5 L304.0 922.2 L304.5 921.9 L304.9 921.6 L305.3 921.3 L305.8 921.0 L306.2 920.7 L306.6 920.4 L307.1 920.1 L307.5 919.8 L307.9 919.5 L308.4 919.2 L308.8 918.9 L309.2 918.6 L309.6 918.3 L310.1 918.0 L310.5 917.7 L310.9 917.4 L311.4 917.1 L311.8 916.8 L312.2 916.5 L312.7 916.2 L313.1 915.9 L313.5 915.5 L313.9 915.2 L314.4 914.9 L314.8 914.6 L315.2 914.3 L315.7 914.0 L316.1 913.7 L316.5 913.4 L317.0 913.1 L317.4 912.7 L317.8 912.4 L318.3 912.1 L318.7 911.8 L319.1 911.5 L319.5 911.2 L320.0 910.9 L320.4 910.6 L320.8 910.3 L321.3 909.9 L321.7 909.6 L322.1 909.3 L322.6 909.0 L323.0 908.7 L323.4 908.4 L323.8 908.1 L324.3 907.8 L324.7 907.4 L325.1 907.1 L325.6 906.8 L326.0 906.5 L326.4 906.2 L326.9 905.9 L327.3 905.6 L327.7 905.3 L328.1 905.0 L328.6 904.6 L329.0 904.3 L329.4 904.0 L329.9 903.7 L330.3 903.4 L330.7 903.1 L331.2 902.8 L331.6 902.5 L332.0 902.2 L332.5 901.8 L332.9 901.5 L333.3 901.2 L333.7 900.9 L334.2 900.6 L334.6 900.3 L335.0 900.0 L335.5 899.7 L335.9 899.4 L336.3 899.0 L336.8 898.7 L337.2 898.4 L337.6 898.1 L338.0 897.8 L338.5 897.5 L338.9 897.2 L339.3 896.9 L339.8 896.6 L340.2 896.2 L340.6 895.9 L341.1 895.6 L341.5 895.3 L341.9 895.0 L342.4 894.7 L342.8 894.4 L343.2 894.1 L343.6 893.8 L344.1 893.4 L344.5 893.1 L344.9 892.8 L345.4 892.5 L345.8 892.2 L346.2 891.9 L346.7 891.6 L347.1 891.3 L347.5 891.0 L347.9 890.6 L348.4 890.3 L348.8 890.0 L349.2 889.7 L349.7 889.4 L350.1 889.1 L350.5 888.8 L351.0 888.5 L351.4 888.2 L351.8 887.8 L352.2 887.5 L352.7 887.2 L353.1 886.9 L353.5 886.6 L354.0 886.3 L354.4 886.0 L354.8 885.7 L355.3 885.4 L355.7 885.0 L356.1 884.7 L356.6 884.4 L357.0 884.1 L357.4 883.8 L357.8 883.5 L358.3 883.2 L358.7 882.9 L359.1 882.6 L359.6 882.2 L360.0 881.9 L360.4 881.6 L360.9 881.3 L361.3 881.0 L361.7 880.7 L362.1 880.4 L362.6 880.1 L363.0 879.8 L363.4 879.4 L363.9 879.1 L364.3 878.8 L364.7 878.5 L365.2 878.2 L365.6 877.9 L366.0 877.6 L366.5 877.3 L366.9 876.9 L367.3 876.6 L367.7 876.3 L368.2 876.0 L368.6 875.7 L369.0 875.4 L369.5 875.1 L369.9 874.8 L370.3 874.5 L370.8 874.1 L371.2 873.8 L371.6 873.5 L372.0 873.2 L372.5 872.9 L372.9 872.6 L373.3 872.3 L373.8 872.0 L374.2 871.7 L374.6 871.3 L375.1 871.0 L375.5 870.7 L375.9 870.4 L376.3 870.1 L376.8 869.8 L377.2 869.5 L377.6 869.2 L378.1 868.9 L378.5 868.5 L378.9 868.2 L379.4 867.9 L379.8 867.6 L380.2 867.3 L380.7 867.0 L381.1 866.7 L381.5 866.4 L381.9 866.1 L382.4 865.7 L382.8 865.4 L383.2 865.1 L383.7 864.8 L384.1 864.5 L384.5 864.2 L385.0 863.9 L385.4 863.6 L385.8 863.3 L386.2 862.9 L386.7 862.6 L387.1 862.3 L387.5 862.0 L388.0 861.7 L388.4 861.4 L388.8 861.1 L389.3 860.8 L389.7 860.5 L390.1 860.1 L390.6 859.8 L391.0 859.5 L391.4 859.2 L391.8 858.9 L392.3 858.6 L392.7 858.3 L393.1 858.0 L393.6 857.7 L394.0 857.3 L394.4 857.0 L394.9 856.7 L395.3 856.4 L395.7 856.1 L396.1 855.8 L396.6 855.5 L397.0 855.2 L397.4 854.9 L397.9 854.5 L398.3 854.2 L398.7 853.9 L399.2 853.6 L399.6 853.3 L400.0 853.0 L400.4 852.7 L400.9 852.4 L401.3 852.1 L401.7 851.7 L402.2 851.4 L402.6 851.1 L403.0 850.8 L403.5 850.5 L403.9 850.2 L404.3 849.9 L404.8 849.6 L405.2 849.3 L405.6 848.9 L406.0 848.6 L406.5 848.3 L406.9 848.0 L407.3 847.7 L407.8 847.4 L408.2 847.1 L408.6 846.8 L409.1 846.4 L409.5 846.1 L409.9 845.8 L410.3 845.5 L410.8 845.2 L411.2 844.9 L411.6 844.6 L412.1 844.3 L412.5 844.0 L412.9 843.6 L413.4 843.3 L413.8 843.0 L414.2 842.7 L414.7 842.4 L415.1 842.1 L415.5 841.8 L415.9 841.5 L416.4 841.2 L416.8 840.8 L417.2 840.5 L417.7 840.2 L418.1 839.9 L418.5 839.6 L419.0 839.3 L419.4 839.0 L419.8 838.7 L420.2 838.4 L420.7 838.0 L421.1 837.7 L421.5 837.4 L422.0 837.1 L422.4 836.8 L422.8 836.5 L423.3 836.2 L423.7 835.9 L424.1 835.6 L424.5 835.2 L425.0 834.9 L425.4 834.6 L425.8 834.3 L426.3 834.0 L426.7 833.7 L427.1 833.4 L427.6 833.1 L428.0 832.8 L428.4 832.4 L428.9 832.1 L429.3 831.8 L429.7 831.5 L430.1 831.2 L430.6 830.9 L431.0 830.6 L431.4 830.3 L431.9 830.0 L432.3 829.6 L432.7 829.3 L436.4 826.7 L440.1 824.0 L443.8 821.3 L447.5 818.6 L451.2 816.0 L454.9 813.3 L458.6 810.6 L462.3 807.9 L466.0 805.3 L469.7 802.6 L473.4 799.9 L477.1 797.2 L480.8 794.5 L484.5 791.9 L488.2 789.2 L491.9 786.5 L495.6 783.8 L499.3 781.2 L503.0 778.5 L506.7 775.8 L510.4 773.1 L514.1 770.5 L517.8 767.8 L521.5 765.1 L525.2 762.4 L528.9 759.8 L532.6 757.1 L536.3 754.4 L540.0 751.7 L543.7 749.1 L547.4 746.4 L551.1 743.7 L554.8 741.0 L558.5 738.4 L562.2 735.7 L565.9 733.0 L569.6 730.3 L573.3 727.7 L577.0 725.0 L580.7 722.3 L584.4 719.6 L588.1 717.0 L591.8 714.3 L595.5 711.6 L599.2 708.9 L602.9 706.3 L606.6 703.6 L610.3 700.9 L614.0 698.2 L617.7 695.5 L621.4 692.9 L625.1 690.2 L628.8 687.5 L632.5 684.8 L636.2 682.2 L639.9 679.5 L643.6 676.8 L647.3 674.1 L651.0 671.5 L654.7 668.8 L658.4 666.1 L662.1 663.4 L665.8 660.8 L669.5 658.1 L673.2 655.4 L676.9 652.7 L680.6 650.1 L684.3 647.4 L688.0 644.7 L691.7 642.0 L695.4 639.4 L699.1 636.7 L702.8 634.0 L706.5 631.3 L710.2 628.7 L713.9 626.0 L717.6 623.3 L721.3 620.6 L725.0 618.0 L728.7 615.3 L732.4 612.6 L736.1 609.9 L739.8 607.2 L743.5 604.6 L747.2 601.9 L750.9 599.2 L754.6 596.5 L758.3 593.9 L762.0 591.2 L765.7 588.5 L769.4 585.8 L773.1 583.2 L776.8 580.5 L780.5 577.8 L784.2 575.1 L787.9 572.5 L791.6 569.8 L795.3 567.1 L799.0 564.4 L802.7 561.8 L806.4 559.1 L810.1 556.4 L813.8 553.7 L817.5 551.1 L821.2 548.4 L824.9 545.7 L828.6 543.0 L832.3 540.4 L836.0 537.7 L839.7 535.0 L843.4 532.3 L847.1 529.7 L850.8 527.0 L854.5 524.3 L858.2 521.6 L861.9 519.0 L865.6 516.3 L869.3 513.6 L873.0 510.9 L876.7 508.2 L880.4 505.6 L884.1 502.9 L887.8 500.2 L891.5 497.5 L895.2 494.9 L898.9 492.2 L902.6 489.5 L906.3 486.8 L910.0 484.2 L913.7 481.5 L917.4 478.8 L921.1 476.1 L924.8 473.5 L928.5 470.8 L932.2 468.1 L935.9 465.4 L939.6 462.8 L943.3 460.1 L947.0 457.4 L950.7 454.7 L954.4 452.1 L958.1 449.4 L961.8 446.7 L965.5 444.0 L969.2 441.4 L972.9 438.7 L976.6 436.0 L980.3 433.3 L984.0 430.7 L987.7 428.0 L991.4 425.3 L995.1 422.6 L998.8 420.0 L1002.5 417.3 L1006.2 414.6 L1009.9 411.9 L1013.6 409.2 L1017.3 406.6 L1021.0 403.9 L1024.7 401.2 L1028.4 398.5 L1032.1 395.9 L1035.8 393.2 L1039.5 390.5 L1043.2 387.8 L1046.9 385.2 L1050.6 382.5 L1054.3 379.8 L1058.0 377.1 L1061.7 374.5 L1065.4 371.8 L1069.1 369.1 L1072.8 366.4 L1076.5 363.8 L1080.2 361.1 L1083.9 358.4 L1087.6 355.7 L1091.3 353.1 L1095.0 350.4 L1098.7 347.7 L1102.4 345.0 L1106.1 342.4 L1109.8 339.7 L1113.5 337.0 L1117.2 334.3 L1120.9 331.7 L1124.6 329.0 L1128.3 326.3 L1132.0 323.6 L1135.7 321.0 L1139.4 318.3 L1143.1 315.6 L1146.8 312.9 L1150.5 310.2 L1154.2 307.6 L1157.9 304.9 L1161.6 302.2 L1165.3 299.5 L1169.0 296.9 L1181.3 288.0" stroke="#00ff00"/>
</g>
<g fill="none" stroke="#2b2b2b">
<path d="M187.3 37.0V1713.8" stroke-width="6.2" stroke="#1f1f1f"/>
<path d="M184.0 1710.8H1172.0" stroke-width="6" stroke="#303030"/>
<path d="M184.0 39.5H1172.0" stroke-width="5.2"/>
</g>
<g font-size="45.5">
<text x="186.3" y="1766" text-anchor="middle">0</text>
<text x="493.1" y="1766" text-anchor="middle">5</text>
<text x="799.9" y="1766" text-anchor="middle">10</text>
<text x="1106.6" y="1766" text-anchor="middle">15</text>
<text x="174.8" y="1604.6" text-anchor="end">–25</text>
<text x="174.8" y="1461.4" text-anchor="end">–20</text>
<text x="174.8" y="1318.3" text-anchor="end">–15</text>
<text x="174.8" y="1175.2" text-anchor="end">–10</text>
<text x="174.8" y="1032.0" text-anchor="end">–5</text>
<text x="174.8" y="888.9" text-anchor="end">0</text>
<text x="174.8" y="745.8" text-anchor="end">5</text>
<text x="174.8" y="602.6" text-anchor="end">10</text>
<text x="174.8" y="459.5" text-anchor="end">15</text>
<text x="174.8" y="316.4" text-anchor="end">20</text>
<text x="174.8" y="173.2" text-anchor="end">25</text>
</g>
<g font-size="52.8">
<text x="676" y="1824.5" text-anchor="middle">time (s)</text>
<text transform="translate(67.2 879) rotate(-90)" text-anchor="middle">Position</text>
</g>
<rect x="188.5" y="38.8" width="336.5" height="387.2" fill="#fff" stroke="#2b2b2b" stroke-width="4.6"/>
<path d="M188.0 36.8V428.0" stroke="#2b2b2b" stroke-width="7.5" fill="none"/>
<g font-size="44.2">
<path d="M214.5 77.3H349.5" stroke="#0000ff" stroke-width="10.2" fill="none"/>
<text x="361.5" y="94.1">agent 1</text>
<path d="M214.5 139.0H349.5" stroke="#00ffff" stroke-width="10.2" fill="none" stroke-dasharray="6 15.5 28 15.5" stroke-dashoffset="0"/>
<text x="361.5" y="155.8">agent 2</text>
<path d="M214.5 201.0H349.5" stroke="#ff0000" stroke-width="10.2" fill="none"/>
<text x="361.5" y="217.8">agent 3</text>
<path d="M214.5 262.8H349.5" stroke="#000000" stroke-width="10.2" fill="none"/>
<text x="361.5" y="279.6">agent 4</text>
<path d="M214.5 324.5H349.5" stroke="#ff00ff" stroke-width="10.2" fill="none"/>
<text x="361.5" y="341.3">agent 5</text>
<path d="M214.5 386.4H349.5" stroke="#00ff00" stroke-width="10.2" fill="none"/>
<text x="361.5" y="403.2">agent 6</text>
</g>
<line x1="1725.0" y1="39.7" x2="1725.0" y2="1711.2" stroke="#a4a4a4" stroke-width="3.3" stroke-dasharray="3 16.9" stroke-dashoffset="-16.8"/>
<line x1="1970.5" y1="39.7" x2="1970.5" y2="1711.2" stroke="#a4a4a4" stroke-width="3.3" stroke-dasharray="3 16.9" stroke-dashoffset="-16.8"/>
<line x1="2216.0" y1="39.7" x2="2216.0" y2="1711.2" stroke="#a4a4a4" stroke-width="3.3" stroke-dasharray="3 16.9" stroke-dashoffset="-16.8"/>
<line x1="1479.5" y1="1525.5" x2="2461.5" y2="1525.5" stroke="#c6c6c6" stroke-width="5" stroke-dasharray="3.5 16.4" stroke-dashoffset="-18.6"/>
<line x1="1479.5" y1="1339.8" x2="2461.5" y2="1339.8" stroke="#c6c6c6" stroke-width="5" stroke-dasharray="3.5 16.4" stroke-dashoffset="-18.6"/>
<line x1="1479.5" y1="1154.0" x2="2461.5" y2="1154.0" stroke="#c6c6c6" stroke-width="5" stroke-dasharray="3.5 16.4" stroke-dashoffset="-18.6"/>
<line x1="1479.5" y1="968.3" x2="2461.5" y2="968.3" stroke="#c6c6c6" stroke-width="5" stroke-dasharray="3.5 16.4" stroke-dashoffset="-18.6"/>
<line x1="1479.5" y1="782.6" x2="2461.5" y2="782.6" stroke="#c6c6c6" stroke-width="5" stroke-dasharray="3.5 16.4" stroke-dashoffset="-18.6"/>
<line x1="1479.5" y1="596.9" x2="2461.5" y2="596.9" stroke="#c6c6c6" stroke-width="5" stroke-dasharray="3.5 16.4" stroke-dashoffset="-18.6"/>
<line x1="1479.5" y1="411.1" x2="2461.5" y2="411.1" stroke="#c6c6c6" stroke-width="5" stroke-dasharray="3.5 16.4" stroke-dashoffset="-18.6"/>
<line x1="1479.5" y1="225.4" x2="2461.5" y2="225.4" stroke="#c6c6c6" stroke-width="5" stroke-dasharray="3.5 16.4" stroke-dashoffset="-18.6"/>
<path d="M1725.0 39.7v17 M1725.0 1711.2v-17" stroke="#585858" stroke-width="4.2" fill="none"/>
<path d="M1970.5 39.7v17 M1970.5 1711.2v-17" stroke="#585858" stroke-width="4.2" fill="none"/>
<path d="M2216.0 39.7v17 M2216.0 1711.2v-17" stroke="#585858" stroke-width="4.2" fill="none"/>
<path d="M1479.5 1525.5h17 M2461.5 1525.5h-17" stroke="#585858" stroke-width="4.2" fill="none"/>
<path d="M1479.5 1339.8h17 M2461.5 1339.8h-17" stroke="#585858" stroke-width="4.2" fill="none"/>
<path d="M1479.5 1154.0h17 M2461.5 1154.0h-17" stroke="#585858" stroke-width="4.2" fill="none"/>
<path d="M1479.5 968.3h17 M2461.5 968.3h-17" stroke="#585858" stroke-width="4.2" fill="none"/>
<path d="M1479.5 782.6h17 M2461.5 782.6h-17" stroke="#585858" stroke-width="4.2" fill="none"/>
<path d="M1479.5 596.9h17 M2461.5 596.9h-17" stroke="#585858" stroke-width="4.2" fill="none"/>
<path d="M1479.5 411.1h17 M2461.5 411.1h-17" stroke="#585858" stroke-width="4.2" fill="none"/>
<path d="M1479.5 225.4h17 M2461.5 225.4h-17" stroke="#585858" stroke-width="4.2" fill="none"/>
<g clip-path="url(#cr)" fill="none" stroke-width="9.4" stroke-linejoin="round">
<path d="M1479.5 968.3 L1479.6 981.9 L1479.6 995.4 L1479.7 1008.7 L1479.7 1021.8 L1479.8 1034.7 L1479.9 1047.3 L1479.9 1059.7 L1480.0 1071.8 L1480.1 1083.5 L1480.1 1094.9 L1480.2 1106.0 L1480.2 1116.6 L1480.3 1126.8 L1480.4 1136.6 L1480.4 1145.9 L1480.5 1154.7 L1480.5 1163.4 L1480.6 1172.1 L1480.7 1180.9 L1480.7 1189.6 L1480.8 1198.4 L1480.9 1207.1 L1480.9 1215.6 L1481.0 1224.1 L1481.0 1232.4 L1481.1 1240.4 L1481.2 1248.2 L1481.2 1255.8 L1481.3 1263.0 L1481.4 1269.9 L1481.4 1276.4 L1481.5 1282.5 L1481.5 1288.2 L1481.6 1293.3 L1481.7 1298.0 L1481.7 1302.1 L1481.8 1305.6 L1481.8 1308.4 L1481.9 1310.6 L1482.0 1312.2 L1482.0 1313.4 L1482.1 1314.7 L1482.2 1315.9 L1482.2 1317.0 L1482.3 1318.1 L1482.3 1319.2 L1482.4 1320.3 L1482.5 1321.3 L1482.5 1322.3 L1482.6 1323.3 L1482.6 1324.2 L1482.7 1325.1 L1482.8 1326.0 L1482.8 1326.8 L1482.9 1327.6 L1483.0 1328.4 L1483.0 1329.2 L1483.1 1329.9 L1483.1 1330.6 L1483.2 1331.3 L1483.3 1332.0 L1483.3 1332.6 L1483.4 1333.2 L1483.4 1333.8 L1483.5 1334.4 L1483.6 1335.0 L1483.6 1335.5 L1483.7 1336.1 L1483.8 1336.6 L1483.8 1337.1 L1483.9 1337.6 L1483.9 1338.0 L1484.0 1338.5 L1484.1 1338.9 L1484.1 1339.4 L1484.2 1339.8 L1484.2 1340.2 L1484.3 1340.6 L1484.4 1341.0 L1484.5 1341.8 L1484.6 1342.6 L1484.7 1343.3 L1484.9 1344.0 L1485.0 1344.8 L1485.1 1345.5 L1485.2 1346.2 L1485.4 1347.0 L1485.5 1347.8 L1485.6 1348.5 L1485.7 1349.3 L1485.9 1350.0 L1486.0 1350.8 L1486.1 1351.5 L1486.2 1352.3 L1486.3 1353.0 L1486.5 1353.8 L1486.6 1354.5 L1486.7 1355.2 L1486.8 1355.9 L1487.0 1356.6 L1487.1 1357.3 L1487.2 1358.0 L1487.3 1358.7 L1487.5 1359.4 L1487.6 1360.1 L1487.7 1360.8 L1487.8 1361.4 L1488.0 1362.1 L1488.1 1362.7 L1488.2 1363.4 L1488.3 1364.0 L1488.4 1364.7 L1488.6 1365.3 L1488.7 1366.0 L1488.8 1366.6 L1488.9 1367.2 L1489.1 1367.8 L1489.2 1368.4 L1489.3 1369.0 L1489.4 1369.6 L1489.6 1370.2 L1489.7 1370.8 L1489.8 1371.4 L1489.9 1372.0 L1490.0 1372.5 L1490.2 1373.1 L1490.3 1373.7 L1490.4 1374.2 L1490.5 1374.8 L1490.7 1375.3 L1490.8 1375.9 L1490.9 1376.4 L1491.0 1376.9 L1491.2 1377.4 L1491.3 1378.0 L1491.4 1378.5 L1491.5 1379.0 L1491.7 1379.5 L1491.8 1380.0 L1492.1 1381.4 L1492.5 1382.8 L1492.9 1384.2 L1493.3 1385.5 L1493.6 1386.7 L1494.0 1387.9 L1494.4 1389.1 L1494.7 1390.2 L1495.1 1391.3 L1495.5 1392.3 L1495.8 1393.3 L1496.2 1394.2 L1496.6 1395.1 L1496.9 1395.9 L1497.3 1396.7 L1497.7 1397.4 L1498.1 1398.1 L1498.4 1398.7 L1498.8 1399.4 L1499.2 1400.0 L1499.5 1400.6 L1499.9 1401.2 L1500.3 1401.8 L1500.6 1402.4 L1501.0 1403.0 L1501.4 1403.6 L1501.8 1404.2 L1502.1 1404.8 L1502.5 1405.4 L1502.9 1405.9 L1503.2 1406.5 L1503.6 1407.0 L1504.0 1407.6 L1504.3 1408.1 L1504.7 1408.6 L1505.1 1409.1 L1505.4 1409.7 L1505.8 1410.2 L1506.2 1410.7 L1506.6 1411.2 L1506.9 1411.6 L1507.3 1412.1 L1507.7 1412.6 L1508.0 1413.1 L1508.4 1413.5 L1508.8 1414.0 L1509.1 1414.4 L1509.5 1414.9 L1509.9 1415.3 L1510.2 1415.8 L1510.6 1416.2 L1511.0 1416.6 L1511.4 1417.0 L1511.7 1417.4 L1512.1 1417.8 L1512.5 1418.2 L1512.8 1418.6 L1513.2 1419.0 L1513.6 1419.4 L1513.9 1419.7 L1514.3 1420.1 L1514.7 1420.5 L1515.1 1420.8 L1515.4 1421.2 L1515.8 1421.5 L1516.2 1421.8 L1516.5 1422.2 L1516.9 1422.5 L1517.3 1422.8 L1517.6 1423.1 L1518.0 1423.4 L1518.4 1423.7 L1518.7 1424.0 L1519.1 1424.3 L1519.5 1424.6 L1519.9 1424.9 L1520.2 1425.2 L1520.6 1425.4 L1521.0 1425.7 L1521.3 1426.0 L1521.7 1426.2 L1522.1 1426.4 L1522.4 1426.7 L1522.8 1426.9 L1523.2 1427.2 L1523.6 1427.4 L1523.9 1427.6 L1524.3 1427.8 L1524.7 1428.0 L1525.0 1428.2 L1525.4 1428.4 L1525.8 1428.6 L1526.1 1428.8 L1526.5 1429.0 L1526.9 1429.2 L1527.2 1429.3 L1527.6 1429.5 L1528.0 1429.7 L1528.4 1429.8 L1528.7 1430.0 L1529.5 1430.3 L1530.2 1430.5 L1530.9 1430.8 L1531.7 1431.0 L1532.4 1431.3 L1533.2 1431.5 L1533.9 1431.8 L1534.6 1432.0 L1535.4 1432.2 L1536.1 1432.4 L1536.9 1432.6 L1537.6 1432.8 L1538.3 1433.1 L1539.1 1433.3 L1539.8 1433.5 L1540.5 1433.7 L1541.3 1433.8 L1542.0 1434.0 L1542.8 1434.2 L1543.5 1434.4 L1544.2 1434.6 L1545.0 1434.7 L1545.7 1434.9 L1546.5 1435.1 L1547.2 1435.2 L1547.9 1435.4 L1548.7 1435.6 L1549.4 1435.7 L1550.2 1435.9 L1550.9 1436.0 L1551.6 1436.2 L1552.4 1436.3 L1553.1 1436.5 L1553.8 1436.6 L1554.6 1436.7 L1555.3 1436.9 L1556.1 1437.0 L1556.8 1437.1 L1557.5 1437.3 L1558.3 1437.4 L1559.0 1437.5 L1559.8 1437.6 L1560.5 1437.7 L1561.2 1437.9 L1562.0 1438.0 L1562.7 1438.1 L1563.5 1438.2 L1564.2 1438.3 L1564.9 1438.4 L1565.7 1438.5 L1566.4 1438.6 L1567.1 1438.7 L1567.9 1438.8 L1568.6 1438.9 L1569.4 1439.0 L1570.1 1439.1 L1570.8 1439.2 L1571.6 1439.3 L1572.3 1439.4 L1573.1 1439.5 L1573.8 1439.6 L1574.5 1439.7 L1575.3 1439.8 L1576.0 1439.9 L1576.8 1440.0 L1577.5 1440.0 L1578.2 1440.1 L1579.0 1440.2 L1579.7 1440.3 L1580.5 1440.4 L1581.2 1440.5 L1581.9 1440.6 L1582.7 1440.7 L1583.4 1440.8 L1584.1 1440.8 L1584.9 1440.9 L1585.6 1441.0 L1586.4 1441.1 L1587.1 1441.2 L1587.8 1441.3 L1588.6 1441.4 L1589.3 1441.4 L1590.1 1441.5 L1590.8 1441.6 L1591.5 1441.7 L1592.3 1441.8 L1593.0 1441.9 L1593.8 1441.9 L1594.5 1442.0 L1595.2 1442.1 L1596.0 1442.2 L1596.7 1442.3 L1597.4 1442.4 L1598.2 1442.4 L1598.9 1442.5 L1599.7 1442.6 L1600.4 1442.7 L1601.1 1442.7 L1601.9 1442.8 L1604.0 1443.0 L1605.7 1443.2 L1607.4 1443.4 L1609.1 1443.6 L1610.9 1443.7 L1612.6 1443.9 L1614.3 1444.1 L1616.0 1444.2 L1617.7 1444.4 L1619.5 1444.5 L1621.2 1444.7 L1622.9 1444.8 L1624.6 1444.9 L1626.4 1445.1 L1628.1 1445.2 L1629.8 1445.3 L1631.5 1445.5 L1633.2 1445.6 L1635.0 1445.7 L1636.7 1445.8 L1638.4 1445.9 L1640.1 1446.0 L1641.9 1446.1 L1643.6 1446.2 L1645.3 1446.3 L1647.0 1446.4 L1648.7 1446.4 L1650.5 1446.5 L1652.2 1446.6 L1653.9 1446.6 L1655.6 1446.7 L1657.4 1446.8 L1659.1 1446.8 L1660.8 1446.9 L1662.5 1447.0 L1664.2 1447.0 L1666.0 1447.1 L1667.7 1447.2 L1669.4 1447.2 L1671.1 1447.3 L1672.8 1447.3 L1674.6 1447.4 L1676.3 1447.4 L1678.0 1447.5 L1679.7 1447.5 L1681.5 1447.6 L1683.2 1447.6 L1684.9 1447.7 L1686.6 1447.7 L1688.3 1447.7 L1690.1 1447.8 L1691.8 1447.8 L1693.5 1447.8 L1695.2 1447.8 L1697.0 1447.8 L1698.7 1447.8 L1700.4 1447.8 L1702.1 1447.8 L1703.8 1447.8 L1705.6 1447.8 L1707.3 1447.8 L1709.0 1447.8 L1710.7 1447.7 L1712.5 1447.7 L1714.2 1447.7 L1715.9 1447.6 L1717.6 1447.6 L1719.3 1447.5 L1721.1 1447.4 L1722.8 1447.4 L1724.5 1447.3 L1726.2 1447.2 L1728.0 1447.1 L1729.7 1447.1 L1731.4 1447.0 L1733.1 1446.9 L1734.8 1446.8 L1736.6 1446.7 L1738.3 1446.6 L1740.0 1446.5 L1741.7 1446.4 L1743.4 1446.3 L1745.2 1446.2 L1746.9 1446.1 L1748.6 1446.0 L1750.3 1445.9 L1752.1 1445.8 L1753.8 1445.7 L1755.5 1445.6 L1757.2 1445.5 L1758.9 1445.4 L1760.7 1445.3 L1762.4 1445.2 L1764.1 1445.2 L1765.8 1445.1 L1767.6 1445.0 L1769.3 1444.9 L1771.0 1444.8 L1772.7 1444.7 L1774.4 1444.7 L1776.2 1444.6 L1777.9 1444.5 L1779.6 1444.5 L1781.3 1444.4 L1783.1 1444.3 L1784.8 1444.2 L1786.5 1444.1 L1788.2 1444.0 L1789.9 1444.0 L1791.7 1443.9 L1793.4 1443.8 L1795.1 1443.7 L1796.8 1443.6 L1798.6 1443.5 L1800.3 1443.4 L1802.0 1443.4 L1803.7 1443.3 L1805.4 1443.2 L1807.2 1443.1 L1808.9 1443.0 L1810.6 1442.9 L1812.3 1442.9 L1814.0 1442.8 L1815.8 1442.7 L1817.5 1442.6 L1819.2 1442.6 L1820.9 1442.5 L1822.7 1442.4 L1824.4 1442.4 L1826.1 1442.3 L1827.8 1442.2 L1829.5 1442.2 L1831.3 1442.1 L1833.0 1442.1 L1834.7 1442.1 L1836.4 1442.0 L1838.2 1442.0 L1839.9 1442.0 L1841.6 1441.9 L1843.3 1441.9 L1845.0 1441.9 L1846.8 1441.9 L1848.5 1441.9 L1850.2 1441.9 L1851.9 1441.9 L1853.7 1441.9 L1855.4 1441.9 L1857.1 1441.9 L1858.8 1441.9 L1860.5 1441.9 L1862.3 1441.9 L1864.0 1441.9 L1865.7 1441.9 L1867.4 1441.9 L1869.2 1441.9 L1870.9 1441.9 L1872.6 1441.9 L1874.3 1441.9 L1876.0 1441.9 L1877.8 1441.9 L1879.5 1441.9 L1881.2 1441.9 L1882.9 1441.9 L1884.6 1441.9 L1886.4 1441.9 L1888.1 1441.9 L1889.8 1441.9 L1891.5 1441.9 L1893.3 1441.9 L1895.0 1441.9 L1896.7 1441.9 L1898.4 1441.9 L1900.1 1441.9 L1901.9 1441.9 L1903.6 1441.9 L1905.3 1441.9 L1907.0 1441.9 L1908.8 1441.9 L1910.5 1441.9 L1912.2 1441.9 L1913.9 1441.9 L1915.6 1441.9 L1917.4 1441.9 L1919.1 1441.9 L1920.8 1441.9 L1922.5 1441.9 L1924.3 1441.9 L1926.0 1441.9 L1927.7 1441.9 L1929.4 1441.9 L1931.1 1441.9 L1932.9 1441.9 L1934.6 1441.9 L1936.3 1441.9 L1938.0 1441.9 L1939.8 1441.9 L1941.5 1441.9 L1943.2 1441.9 L1944.9 1441.9 L1946.6 1441.9 L1948.4 1441.9 L1950.1 1441.9 L1951.8 1441.9 L1953.5 1441.9 L1955.2 1441.9 L1957.0 1441.9 L1958.7 1441.9 L1960.4 1441.9 L1962.1 1441.9 L1963.5 1441.9" stroke="#0000ff" stroke-dasharray="32 22.5" stroke-width="9.6"/>
<path d="M1479.5 782.6 L1479.6 797.9 L1479.6 813.0 L1479.7 827.9 L1479.7 842.6 L1479.8 857.1 L1479.9 871.4 L1479.9 885.4 L1480.0 899.3 L1480.1 912.8 L1480.1 926.1 L1480.2 939.2 L1480.2 952.0 L1480.3 964.5 L1480.4 976.7 L1480.4 988.6 L1480.5 1000.2 L1480.5 1011.6 L1480.6 1022.6 L1480.7 1033.3 L1480.7 1043.6 L1480.8 1054.0 L1480.9 1064.7 L1480.9 1075.5 L1481.0 1086.4 L1481.0 1097.4 L1481.1 1108.2 L1481.2 1119.0 L1481.2 1129.5 L1481.3 1139.7 L1481.4 1149.5 L1481.4 1158.9 L1481.5 1167.7 L1481.5 1176.0 L1481.6 1183.5 L1481.7 1190.3 L1481.7 1196.2 L1481.8 1201.3 L1481.8 1205.3 L1481.9 1208.2 L1482.0 1210.0 L1482.0 1211.4 L1482.1 1212.7 L1482.2 1214.0 L1482.2 1215.2 L1482.3 1216.4 L1482.3 1217.5 L1482.4 1218.5 L1482.5 1219.6 L1482.5 1220.5 L1482.6 1221.4 L1482.6 1222.3 L1482.7 1223.1 L1482.8 1223.9 L1482.8 1224.7 L1482.9 1225.4 L1483.0 1226.1 L1483.0 1226.8 L1483.1 1227.4 L1483.1 1228.0 L1483.2 1228.6 L1483.3 1229.2 L1483.3 1229.7 L1483.4 1230.2 L1483.4 1230.7 L1483.5 1231.2 L1483.6 1231.7 L1483.6 1232.1 L1483.7 1232.6 L1483.8 1233.0 L1483.8 1233.4 L1483.9 1233.9 L1483.9 1234.3 L1484.0 1234.7 L1484.1 1235.1 L1484.1 1235.6 L1484.2 1236.0 L1484.2 1236.4 L1484.3 1236.9 L1484.4 1237.3 L1484.4 1237.8 L1484.5 1238.3 L1484.6 1238.7 L1484.6 1239.2 L1484.7 1239.6 L1484.7 1240.1 L1484.8 1240.5 L1484.9 1240.9 L1484.9 1241.4 L1485.0 1241.8 L1485.1 1242.2 L1485.1 1242.6 L1485.2 1243.0 L1485.2 1243.4 L1485.3 1243.8 L1485.4 1244.2 L1485.5 1245.0 L1485.6 1245.8 L1485.7 1246.5 L1485.9 1247.3 L1486.0 1248.0 L1486.1 1248.7 L1486.2 1249.4 L1486.3 1250.0 L1486.5 1250.7 L1486.6 1251.4 L1486.7 1252.0 L1486.8 1252.6 L1487.0 1253.3 L1487.1 1253.9 L1487.2 1254.5 L1487.3 1255.1 L1487.5 1255.7 L1487.6 1256.2 L1487.7 1256.8 L1487.8 1257.4 L1488.0 1258.0 L1488.1 1258.5 L1488.2 1259.1 L1488.3 1259.7 L1488.4 1260.2 L1488.6 1260.8 L1488.7 1261.3 L1488.8 1261.9 L1488.9 1262.4 L1489.1 1263.0 L1489.2 1263.6 L1489.3 1264.1 L1489.4 1264.7 L1489.6 1265.3 L1489.7 1265.9 L1489.8 1266.4 L1489.9 1267.0 L1490.0 1267.6 L1490.2 1268.2 L1490.3 1268.8 L1490.4 1269.5 L1490.5 1270.1 L1490.7 1270.7 L1490.8 1271.4 L1490.9 1272.0 L1491.0 1272.7 L1491.2 1273.4 L1491.3 1274.1 L1491.4 1274.8 L1491.5 1275.5 L1491.7 1276.2 L1491.8 1276.9 L1492.1 1279.1 L1492.5 1281.3 L1492.9 1283.5 L1493.3 1285.8 L1493.6 1288.1 L1494.0 1290.5 L1494.4 1292.8 L1494.7 1295.1 L1495.1 1297.5 L1495.5 1299.8 L1495.8 1302.1 L1496.2 1304.4 L1496.6 1306.6 L1496.9 1308.8 L1497.3 1311.0 L1497.7 1313.0 L1498.1 1315.1 L1498.4 1317.0 L1498.8 1318.9 L1499.2 1320.6 L1499.5 1322.3 L1499.9 1323.9 L1500.3 1325.3 L1500.6 1326.7 L1501.0 1327.9 L1501.4 1329.0 L1501.8 1329.9 L1502.1 1330.8 L1502.5 1331.7 L1502.9 1332.6 L1503.2 1333.5 L1503.6 1334.4 L1504.0 1335.2 L1504.3 1336.0 L1504.7 1336.9 L1505.1 1337.7 L1505.4 1338.5 L1505.8 1339.2 L1506.2 1340.0 L1506.6 1340.8 L1506.9 1341.5 L1507.3 1342.3 L1507.7 1343.0 L1508.0 1343.7 L1508.4 1344.4 L1508.8 1345.1 L1509.1 1345.8 L1509.5 1346.4 L1509.9 1347.1 L1510.2 1347.7 L1510.6 1348.4 L1511.0 1349.0 L1511.4 1349.6 L1511.7 1350.2 L1512.1 1350.8 L1512.5 1351.4 L1512.8 1352.0 L1513.2 1352.6 L1513.6 1353.1 L1513.9 1353.7 L1514.3 1354.2 L1514.7 1354.8 L1515.1 1355.3 L1515.4 1355.8 L1515.8 1356.4 L1516.2 1356.9 L1516.5 1357.4 L1516.9 1357.9 L1517.3 1358.3 L1517.6 1358.8 L1518.0 1359.3 L1518.4 1359.8 L1518.7 1360.2 L1519.1 1360.7 L1519.5 1361.1 L1519.9 1361.6 L1520.2 1362.0 L1520.6 1362.5 L1521.0 1362.9 L1521.3 1363.3 L1521.7 1363.7 L1522.1 1364.1 L1522.4 1364.6 L1522.8 1365.0 L1523.2 1365.4 L1523.6 1365.8 L1523.9 1366.2 L1524.3 1366.6 L1524.7 1366.9 L1525.0 1367.3 L1525.4 1367.7 L1525.8 1368.1 L1526.1 1368.5 L1526.5 1368.8 L1526.9 1369.2 L1527.2 1369.6 L1527.6 1370.0 L1528.0 1370.3 L1528.4 1370.7 L1528.7 1371.1 L1529.1 1371.4 L1529.5 1371.8 L1529.8 1372.1 L1530.2 1372.5 L1530.6 1372.9 L1530.9 1373.2 L1531.3 1373.6 L1531.7 1373.9 L1532.0 1374.3 L1532.4 1374.7 L1532.8 1375.0 L1533.2 1375.4 L1533.5 1375.8 L1533.9 1376.1 L1534.3 1376.5 L1534.6 1376.9 L1535.0 1377.2 L1535.4 1377.6 L1535.7 1378.0 L1536.1 1378.3 L1536.5 1378.7 L1536.9 1379.0 L1537.2 1379.4 L1537.6 1379.8 L1538.0 1380.1 L1538.3 1380.5 L1538.7 1380.8 L1539.1 1381.2 L1539.4 1381.5 L1539.8 1381.9 L1540.2 1382.2 L1540.5 1382.6 L1540.9 1382.9 L1541.3 1383.3 L1541.7 1383.6 L1542.0 1383.9 L1542.4 1384.3 L1542.8 1384.6 L1543.1 1385.0 L1543.5 1385.3 L1543.9 1385.6 L1544.2 1386.0 L1544.6 1386.3 L1545.0 1386.6 L1545.3 1386.9 L1545.7 1387.3 L1546.1 1387.6 L1546.5 1387.9 L1546.8 1388.2 L1547.2 1388.6 L1547.6 1388.9 L1547.9 1389.2 L1548.3 1389.5 L1548.7 1389.8 L1549.0 1390.1 L1549.4 1390.4 L1549.8 1390.8 L1550.2 1391.1 L1550.5 1391.4 L1550.9 1391.7 L1551.3 1392.0 L1551.6 1392.3 L1552.0 1392.6 L1552.4 1392.9 L1552.7 1393.2 L1553.1 1393.5 L1553.5 1393.8 L1553.8 1394.1 L1554.2 1394.3 L1554.6 1394.6 L1555.0 1394.9 L1555.3 1395.2 L1555.7 1395.5 L1556.1 1395.8 L1556.4 1396.0 L1556.8 1396.3 L1557.2 1396.6 L1557.5 1396.9 L1557.9 1397.1 L1558.3 1397.4 L1558.7 1397.7 L1559.0 1398.0 L1559.4 1398.2 L1559.8 1398.5 L1560.1 1398.8 L1560.5 1399.0 L1560.9 1399.3 L1561.2 1399.5 L1561.6 1399.8 L1562.0 1400.0 L1562.3 1400.3 L1562.7 1400.5 L1563.1 1400.8 L1563.5 1401.0 L1563.8 1401.3 L1564.2 1401.5 L1564.6 1401.8 L1564.9 1402.0 L1565.3 1402.2 L1565.7 1402.5 L1566.0 1402.7 L1566.4 1402.9 L1566.8 1403.2 L1567.1 1403.4 L1567.5 1403.6 L1567.9 1403.8 L1568.3 1404.1 L1568.6 1404.3 L1569.0 1404.5 L1569.4 1404.7 L1569.7 1404.9 L1570.1 1405.2 L1570.5 1405.4 L1570.8 1405.6 L1571.2 1405.8 L1571.6 1406.0 L1572.0 1406.2 L1572.3 1406.4 L1572.7 1406.6 L1573.1 1406.8 L1573.4 1407.0 L1573.8 1407.2 L1574.2 1407.4 L1574.5 1407.6 L1574.9 1407.7 L1575.3 1407.9 L1575.6 1408.1 L1576.0 1408.3 L1576.4 1408.5 L1576.8 1408.7 L1577.1 1408.8 L1577.5 1409.0 L1577.9 1409.2 L1578.2 1409.3 L1578.6 1409.5 L1579.0 1409.7 L1579.3 1409.9 L1579.7 1410.0 L1580.1 1410.2 L1580.5 1410.4 L1580.8 1410.5 L1581.2 1410.7 L1581.6 1410.8 L1581.9 1411.0 L1582.3 1411.2 L1582.7 1411.3 L1583.0 1411.5 L1583.4 1411.7 L1583.8 1411.8 L1584.1 1412.0 L1584.5 1412.1 L1584.9 1412.3 L1585.3 1412.5 L1585.6 1412.6 L1586.0 1412.8 L1586.4 1412.9 L1586.7 1413.1 L1587.1 1413.2 L1587.5 1413.4 L1587.8 1413.5 L1588.6 1413.8 L1589.3 1414.2 L1590.1 1414.5 L1590.8 1414.7 L1591.5 1415.0 L1592.3 1415.3 L1593.0 1415.6 L1593.8 1415.9 L1594.5 1416.2 L1595.2 1416.5 L1596.0 1416.8 L1596.7 1417.0 L1597.4 1417.3 L1598.2 1417.6 L1598.9 1417.9 L1599.7 1418.1 L1600.4 1418.4 L1601.1 1418.7 L1601.9 1418.9 L1604.0 1419.6 L1605.7 1420.2 L1607.4 1420.8 L1609.1 1421.4 L1610.9 1421.9 L1612.6 1422.4 L1614.3 1422.9 L1616.0 1423.4 L1617.7 1423.9 L1619.5 1424.4 L1621.2 1424.9 L1622.9 1425.3 L1624.6 1425.8 L1626.4 1426.2 L1628.1 1426.6 L1629.8 1427.0 L1631.5 1427.4 L1633.2 1427.8 L1635.0 1428.1 L1636.7 1428.5 L1638.4 1428.8 L1640.1 1429.1 L1641.9 1429.5 L1643.6 1429.8 L1645.3 1430.1 L1647.0 1430.4 L1648.7 1430.7 L1650.5 1430.9 L1652.2 1431.2 L1653.9 1431.5 L1655.6 1431.8 L1657.4 1432.0 L1659.1 1432.3 L1660.8 1432.5 L1662.5 1432.8 L1664.2 1433.0 L1666.0 1433.2 L1667.7 1433.5 L1669.4 1433.7 L1671.1 1433.9 L1672.8 1434.1 L1674.6 1434.3 L1676.3 1434.5 L1678.0 1434.7 L1679.7 1434.9 L1681.5 1435.1 L1683.2 1435.3 L1684.9 1435.4 L1686.6 1435.6 L1688.3 1435.8 L1690.1 1435.9 L1691.8 1436.1 L1693.5 1436.3 L1695.2 1436.4 L1697.0 1436.6 L1698.7 1436.7 L1700.4 1436.9 L1702.1 1437.0 L1703.8 1437.2 L1705.6 1437.3 L1707.3 1437.4 L1709.0 1437.6 L1710.7 1437.7 L1712.5 1437.9 L1714.2 1438.0 L1715.9 1438.1 L1717.6 1438.2 L1719.3 1438.4 L1721.1 1438.5 L1722.8 1438.6 L1724.5 1438.7 L1726.2 1438.8 L1728.0 1438.9 L1729.7 1439.1 L1731.4 1439.2 L1733.1 1439.3 L1734.8 1439.4 L1736.6 1439.4 L1738.3 1439.5 L1740.0 1439.6 L1741.7 1439.7 L1743.4 1439.8 L1745.2 1439.9 L1746.9 1439.9 L1748.6 1440.0 L1750.3 1440.1 L1752.1 1440.1 L1753.8 1440.2 L1755.5 1440.3 L1757.2 1440.3 L1758.9 1440.4 L1760.7 1440.5 L1762.4 1440.5 L1764.1 1440.6 L1765.8 1440.6 L1767.6 1440.7 L1769.3 1440.8 L1771.0 1440.8 L1772.7 1440.9 L1774.4 1440.9 L1776.2 1441.0 L1777.9 1441.1 L1779.6 1441.1 L1781.3 1441.2 L1783.1 1441.2 L1784.8 1441.3 L1786.5 1441.3 L1788.2 1441.4 L1789.9 1441.4 L1791.7 1441.5 L1793.4 1441.5 L1795.1 1441.5 L1796.8 1441.6 L1798.6 1441.6 L1800.3 1441.7 L1802.0 1441.7 L1803.7 1441.7 L1805.4 1441.8 L1807.2 1441.8 L1808.9 1441.8 L1810.6 1441.8 L1812.3 1441.8 L1814.0 1441.9 L1815.8 1441.9 L1817.5 1441.9 L1819.2 1441.9 L1820.9 1441.9 L1822.7 1441.9 L1824.4 1441.9 L1826.1 1441.9 L1827.8 1441.9 L1829.5 1441.9 L1831.3 1441.9 L1833.0 1441.9 L1834.7 1441.9 L1836.4 1441.9 L1838.2 1441.9 L1839.9 1441.9 L1841.6 1441.9 L1843.3 1441.9 L1845.0 1441.9 L1846.8 1441.9 L1848.5 1441.9 L1850.2 1441.9 L1851.9 1441.9 L1853.7 1441.9 L1855.4 1441.9 L1857.1 1441.9 L1858.8 1441.9 L1860.5 1441.9 L1862.3 1441.9 L1864.0 1441.9 L1865.7 1441.9 L1867.4 1441.9 L1869.2 1441.9 L1870.9 1441.9 L1872.6 1441.9 L1874.3 1441.9 L1876.0 1441.9 L1877.8 1441.9 L1879.5 1441.9 L1881.2 1441.9 L1882.9 1441.9 L1884.6 1441.9 L1886.4 1441.9 L1888.1 1441.9 L1889.8 1441.9 L1891.5 1441.9 L1893.3 1441.9 L1895.0 1441.9 L1896.7 1441.9 L1898.4 1441.9 L1900.1 1441.9 L1901.9 1441.9 L1903.6 1441.9 L1905.3 1441.9 L1907.0 1441.9 L1908.8 1441.9 L1910.5 1441.9 L1912.2 1441.9 L1913.9 1441.9 L1915.6 1441.9 L1917.4 1441.9 L1919.1 1441.9 L1920.8 1441.9 L1922.5 1441.9 L1924.3 1441.9 L1926.0 1441.9 L1927.7 1441.9 L1929.4 1441.9 L1931.1 1441.9 L1932.9 1441.9 L1934.6 1441.9 L1936.3 1441.9 L1938.0 1441.9 L1939.8 1441.9 L1941.5 1441.9 L1943.2 1441.9 L1944.9 1441.9 L1946.6 1441.9 L1948.4 1441.9 L1950.1 1441.9 L1951.8 1441.9 L1953.5 1441.9 L1955.2 1441.9 L1957.0 1441.9 L1958.7 1441.9 L1960.4 1441.9 L1962.1 1441.9 L1963.5 1441.9" stroke="#00ffff" stroke-dasharray="6.5 13.5" stroke-width="7.6"/>
<path d="M1479.5 596.9 L1479.9 597.1 L1480.2 597.4 L1480.5 597.8 L1480.7 598.3 L1480.9 598.7 L1481.1 599.1 L1481.3 599.6 L1481.5 600.2 L1481.7 600.7 L1481.8 601.1 L1481.9 601.5 L1482.0 601.9 L1482.2 602.4 L1482.3 602.8 L1482.4 603.2 L1482.5 603.7 L1482.6 604.1 L1482.8 604.6 L1482.9 605.1 L1483.0 605.5 L1483.1 606.0 L1483.3 606.5 L1483.4 607.0 L1483.5 607.6 L1483.6 608.2 L1483.8 608.8 L1483.9 609.5 L1484.0 610.3 L1484.1 611.1 L1484.2 611.5 L1484.2 611.9 L1484.3 612.3 L1484.4 612.7 L1484.4 613.2 L1484.5 613.6 L1484.6 614.1 L1484.6 614.5 L1484.7 615.0 L1484.7 615.5 L1484.8 615.9 L1484.9 616.4 L1484.9 616.9 L1485.0 617.4 L1485.1 617.9 L1485.1 618.4 L1485.2 618.9 L1485.2 619.4 L1485.3 620.0 L1485.4 620.5 L1485.4 621.0 L1485.5 621.6 L1485.5 622.1 L1485.6 622.6 L1485.7 623.2 L1485.7 623.7 L1485.8 624.3 L1485.9 624.8 L1485.9 625.4 L1486.0 625.9 L1486.0 626.5 L1486.1 627.1 L1486.2 627.6 L1486.2 628.2 L1486.3 628.7 L1486.3 629.3 L1486.4 629.9 L1486.5 630.4 L1486.5 631.0 L1486.6 631.6 L1486.7 632.1 L1486.7 632.7 L1486.8 633.2 L1486.8 633.8 L1486.9 634.3 L1487.0 634.9 L1487.0 635.5 L1487.1 636.1 L1487.1 636.6 L1487.2 637.2 L1487.3 637.8 L1487.3 638.4 L1487.4 639.0 L1487.5 639.6 L1487.5 640.3 L1487.6 640.9 L1487.6 641.5 L1487.7 642.2 L1487.8 642.8 L1487.8 643.5 L1487.9 644.1 L1488.0 644.8 L1488.0 645.4 L1488.1 646.1 L1488.1 646.8 L1488.2 647.4 L1488.3 648.1 L1488.3 648.8 L1488.4 649.5 L1488.4 650.2 L1488.5 650.9 L1488.6 651.6 L1488.6 652.3 L1488.7 653.0 L1488.8 653.7 L1488.8 654.4 L1488.9 655.1 L1488.9 655.8 L1489.0 656.5 L1489.1 657.3 L1489.1 658.0 L1489.2 658.7 L1489.2 659.4 L1489.3 660.1 L1489.4 660.9 L1489.4 661.6 L1489.5 662.3 L1489.6 663.1 L1489.6 663.8 L1489.7 664.5 L1489.7 665.3 L1489.8 666.0 L1489.9 666.7 L1489.9 667.5 L1490.0 668.2 L1490.0 668.9 L1490.1 669.7 L1490.2 670.4 L1490.2 671.1 L1490.3 671.9 L1490.4 672.6 L1490.4 673.3 L1490.5 674.1 L1490.5 674.8 L1490.6 675.5 L1490.7 676.3 L1490.7 677.0 L1490.8 677.7 L1490.8 678.5 L1490.9 679.2 L1491.0 680.0 L1491.0 680.7 L1491.1 681.5 L1491.2 682.2 L1491.2 683.0 L1491.3 683.7 L1491.3 684.5 L1491.4 685.3 L1491.5 686.0 L1491.5 686.8 L1491.6 687.6 L1491.7 688.4 L1491.7 689.1 L1491.8 689.9 L1492.1 694.6 L1492.5 699.3 L1492.9 704.1 L1493.3 708.8 L1493.6 713.6 L1494.0 718.3 L1494.4 723.0 L1494.7 727.6 L1495.1 732.3 L1495.5 737.0 L1495.8 741.7 L1496.2 746.4 L1496.6 751.0 L1496.9 755.7 L1497.3 760.3 L1497.7 764.9 L1498.1 769.5 L1498.4 774.1 L1498.8 778.6 L1499.2 783.2 L1499.5 787.7 L1499.9 792.2 L1500.3 796.7 L1500.6 801.1 L1501.0 805.5 L1501.4 809.8 L1501.8 814.1 L1502.1 818.4 L1502.5 822.6 L1502.9 826.9 L1503.2 831.1 L1503.6 835.2 L1504.0 839.3 L1504.3 843.3 L1504.7 847.3 L1505.1 851.1 L1505.4 854.9 L1505.8 858.6 L1506.2 862.3 L1506.6 865.9 L1506.9 869.5 L1507.3 873.0 L1507.7 876.5 L1508.0 879.8 L1508.4 883.0 L1508.8 886.0 L1509.1 888.9 L1509.5 891.7 L1509.9 894.3 L1510.2 896.9 L1510.6 899.4 L1511.0 901.8 L1511.4 904.2 L1511.7 906.6 L1512.1 909.0 L1512.5 911.4 L1512.8 913.9 L1513.2 916.4 L1513.6 918.8 L1513.9 921.3 L1514.3 923.7 L1514.7 926.2 L1515.1 928.6 L1515.4 931.0 L1515.8 933.5 L1516.2 935.9 L1516.5 938.4 L1516.9 940.8 L1517.3 943.3 L1517.6 945.8 L1518.0 948.4 L1518.4 951.0 L1518.7 953.6 L1519.1 956.3 L1519.5 959.0 L1519.9 961.7 L1520.2 964.5 L1520.6 967.3 L1521.0 970.1 L1521.3 972.9 L1521.7 975.8 L1522.1 978.6 L1522.4 981.4 L1522.8 984.2 L1523.2 987.0 L1523.6 989.8 L1523.9 992.5 L1524.3 995.2 L1524.7 997.9 L1525.0 1000.5 L1525.4 1003.0 L1525.8 1005.5 L1526.1 1007.9 L1526.5 1010.2 L1526.9 1012.5 L1527.2 1014.7 L1527.6 1016.8 L1528.0 1018.9 L1528.4 1021.0 L1528.7 1023.0 L1529.1 1025.1 L1529.5 1027.1 L1529.8 1029.0 L1530.2 1031.0 L1530.6 1032.9 L1530.9 1034.8 L1531.3 1036.6 L1531.7 1038.5 L1532.0 1040.3 L1532.4 1042.1 L1532.8 1043.9 L1533.2 1045.7 L1533.5 1047.4 L1533.9 1049.1 L1534.3 1050.9 L1534.6 1052.6 L1535.0 1054.3 L1535.4 1055.9 L1535.7 1057.6 L1536.1 1059.2 L1536.5 1060.9 L1536.9 1062.5 L1537.2 1064.1 L1537.6 1065.7 L1538.0 1067.4 L1538.3 1068.9 L1538.7 1070.5 L1539.1 1072.1 L1539.4 1073.7 L1539.8 1075.3 L1540.2 1076.9 L1540.5 1078.4 L1540.9 1080.0 L1541.3 1081.6 L1541.7 1083.1 L1542.0 1084.7 L1542.4 1086.2 L1542.8 1087.7 L1543.1 1089.3 L1543.5 1090.8 L1543.9 1092.3 L1544.2 1093.8 L1544.6 1095.3 L1545.0 1096.8 L1545.3 1098.3 L1545.7 1099.8 L1546.1 1101.2 L1546.5 1102.7 L1546.8 1104.2 L1547.2 1105.6 L1547.6 1107.1 L1547.9 1108.5 L1548.3 1109.9 L1548.7 1111.3 L1549.0 1112.8 L1549.4 1114.2 L1549.8 1115.5 L1550.2 1116.9 L1550.5 1118.3 L1550.9 1119.7 L1551.3 1121.0 L1551.6 1122.4 L1552.0 1123.7 L1552.4 1125.1 L1552.7 1126.4 L1553.1 1127.7 L1553.5 1129.0 L1553.8 1130.3 L1554.2 1131.6 L1554.6 1132.9 L1555.0 1134.1 L1555.3 1135.4 L1555.7 1136.6 L1556.1 1137.9 L1556.4 1139.1 L1556.8 1140.3 L1557.2 1141.5 L1557.5 1142.7 L1557.9 1143.9 L1558.3 1145.1 L1558.7 1146.2 L1559.0 1147.4 L1559.4 1148.6 L1559.8 1149.7 L1560.1 1150.9 L1560.5 1152.0 L1560.9 1153.1 L1561.2 1154.3 L1561.6 1155.4 L1562.0 1156.5 L1562.3 1157.6 L1562.7 1158.7 L1563.1 1159.8 L1563.5 1160.9 L1563.8 1161.9 L1564.2 1163.0 L1564.6 1164.1 L1564.9 1165.1 L1565.3 1166.2 L1565.7 1167.2 L1566.0 1168.3 L1566.4 1169.3 L1566.8 1170.4 L1567.1 1171.4 L1567.5 1172.4 L1567.9 1173.4 L1568.3 1174.4 L1568.6 1175.4 L1569.0 1176.4 L1569.4 1177.4 L1569.7 1178.4 L1570.1 1179.4 L1570.5 1180.3 L1570.8 1181.3 L1571.2 1182.3 L1571.6 1183.2 L1572.0 1184.2 L1572.3 1185.1 L1572.7 1186.1 L1573.1 1187.0 L1573.4 1187.9 L1573.8 1188.8 L1574.2 1189.7 L1574.5 1190.7 L1574.9 1191.6 L1575.3 1192.5 L1575.6 1193.4 L1576.0 1194.2 L1576.4 1195.1 L1576.8 1196.0 L1577.1 1196.9 L1577.5 1197.7 L1577.9 1198.6 L1578.2 1199.5 L1578.6 1200.3 L1579.0 1201.2 L1579.3 1202.0 L1579.7 1202.8 L1580.1 1203.7 L1580.5 1204.5 L1580.8 1205.4 L1581.2 1206.2 L1581.6 1207.0 L1581.9 1207.8 L1582.3 1208.6 L1582.7 1209.5 L1583.0 1210.3 L1583.4 1211.1 L1583.8 1211.9 L1584.1 1212.7 L1584.5 1213.5 L1584.9 1214.3 L1585.3 1215.0 L1585.6 1215.8 L1586.0 1216.6 L1586.4 1217.4 L1586.7 1218.2 L1587.1 1218.9 L1587.5 1219.7 L1587.8 1220.5 L1588.2 1221.2 L1588.6 1222.0 L1588.9 1222.7 L1589.3 1223.5 L1589.7 1224.2 L1590.1 1225.0 L1590.4 1225.7 L1590.8 1226.4 L1591.2 1227.2 L1591.5 1227.9 L1591.9 1228.6 L1592.3 1229.3 L1592.6 1230.1 L1593.0 1230.8 L1593.4 1231.5 L1593.8 1232.2 L1594.1 1232.9 L1594.5 1233.6 L1594.9 1234.3 L1595.2 1235.0 L1595.6 1235.7 L1596.0 1236.4 L1596.3 1237.1 L1596.7 1237.7 L1597.1 1238.4 L1597.4 1239.1 L1597.8 1239.8 L1598.2 1240.4 L1598.6 1241.1 L1598.9 1241.8 L1599.3 1242.4 L1599.7 1243.1 L1600.0 1243.7 L1600.4 1244.4 L1600.8 1245.0 L1601.1 1245.7 L1601.5 1246.3 L1601.9 1247.0 L1602.2 1247.6 L1604.0 1250.5 L1605.7 1253.4 L1607.4 1256.2 L1609.1 1259.0 L1610.9 1261.8 L1612.6 1264.5 L1614.3 1267.2 L1616.0 1269.8 L1617.7 1272.4 L1619.5 1275.0 L1621.2 1277.5 L1622.9 1279.9 L1624.6 1282.3 L1626.4 1284.7 L1628.1 1287.0 L1629.8 1289.2 L1631.5 1291.3 L1633.2 1293.5 L1635.0 1295.5 L1636.7 1297.5 L1638.4 1299.4 L1640.1 1301.4 L1641.9 1303.3 L1643.6 1305.1 L1645.3 1307.0 L1647.0 1308.8 L1648.7 1310.6 L1650.5 1312.4 L1652.2 1314.1 L1653.9 1315.8 L1655.6 1317.5 L1657.4 1319.2 L1659.1 1320.8 L1660.8 1322.4 L1662.5 1324.0 L1664.2 1325.6 L1666.0 1327.1 L1667.7 1328.6 L1669.4 1330.1 L1671.1 1331.6 L1672.8 1333.0 L1674.6 1334.4 L1676.3 1335.8 L1678.0 1337.2 L1679.7 1338.5 L1681.5 1339.8 L1683.2 1341.1 L1684.9 1342.4 L1686.6 1343.6 L1688.3 1344.8 L1690.1 1346.0 L1691.8 1347.2 L1693.5 1348.3 L1695.2 1349.5 L1697.0 1350.6 L1698.7 1351.6 L1700.4 1352.7 L1702.1 1353.7 L1703.8 1354.8 L1705.6 1355.8 L1707.3 1356.8 L1709.0 1357.8 L1710.7 1358.7 L1712.5 1359.7 L1714.2 1360.6 L1715.9 1361.6 L1717.6 1362.5 L1719.3 1363.4 L1721.1 1364.3 L1722.8 1365.2 L1724.5 1366.1 L1726.2 1367.0 L1728.0 1367.9 L1729.7 1368.8 L1731.4 1369.7 L1733.1 1370.5 L1734.8 1371.4 L1736.6 1372.3 L1738.3 1373.2 L1740.0 1374.0 L1741.7 1374.9 L1743.4 1375.8 L1745.2 1376.6 L1746.9 1377.5 L1748.6 1378.3 L1750.3 1379.2 L1752.1 1380.0 L1753.8 1380.8 L1755.5 1381.6 L1757.2 1382.5 L1758.9 1383.3 L1760.7 1384.1 L1762.4 1384.9 L1764.1 1385.7 L1765.8 1386.5 L1767.6 1387.3 L1769.3 1388.1 L1771.0 1388.8 L1772.7 1389.6 L1774.4 1390.4 L1776.2 1391.1 L1777.9 1391.9 L1779.6 1392.6 L1781.3 1393.3 L1783.1 1394.1 L1784.8 1394.8 L1786.5 1395.5 L1788.2 1396.2 L1789.9 1396.9 L1791.7 1397.6 L1793.4 1398.2 L1795.1 1398.9 L1796.8 1399.6 L1798.6 1400.2 L1800.3 1400.9 L1802.0 1401.5 L1803.7 1402.1 L1805.4 1402.7 L1807.2 1403.3 L1808.9 1403.9 L1810.6 1404.5 L1812.3 1405.1 L1814.0 1405.7 L1815.8 1406.3 L1817.5 1406.9 L1819.2 1407.4 L1820.9 1408.0 L1822.7 1408.5 L1824.4 1409.1 L1826.1 1409.6 L1827.8 1410.2 L1829.5 1410.7 L1831.3 1411.2 L1833.0 1411.8 L1834.7 1412.3 L1836.4 1412.8 L1838.2 1413.3 L1839.9 1413.8 L1841.6 1414.3 L1843.3 1414.8 L1845.0 1415.3 L1846.8 1415.8 L1848.5 1416.3 L1850.2 1416.8 L1851.9 1417.3 L1853.7 1417.8 L1855.4 1418.2 L1857.1 1418.7 L1858.8 1419.2 L1860.5 1419.7 L1862.3 1420.1 L1864.0 1420.6 L1865.7 1421.0 L1867.4 1421.5 L1869.2 1422.0 L1870.9 1422.4 L1872.6 1422.9 L1874.3 1423.3 L1876.0 1423.8 L1877.8 1424.2 L1879.5 1424.7 L1881.2 1425.1 L1882.9 1425.6 L1884.6 1426.0 L1886.4 1426.4 L1888.1 1426.9 L1889.8 1427.3 L1891.5 1427.7 L1893.3 1428.1 L1895.0 1428.5 L1896.7 1429.0 L1898.4 1429.4 L1900.1 1429.8 L1901.9 1430.2 L1903.6 1430.6 L1905.3 1431.0 L1907.0 1431.4 L1908.8 1431.7 L1910.5 1432.1 L1912.2 1432.5 L1913.9 1432.9 L1915.6 1433.3 L1917.4 1433.6 L1919.1 1434.0 L1920.8 1434.4 L1922.5 1434.7 L1924.3 1435.1 L1926.0 1435.4 L1927.7 1435.8 L1929.4 1436.2 L1931.1 1436.5 L1932.9 1436.9 L1934.6 1437.2 L1936.3 1437.6 L1938.0 1437.9 L1939.8 1438.3 L1941.5 1438.6 L1943.2 1438.9 L1944.9 1439.3 L1946.6 1439.6 L1948.4 1439.9 L1950.1 1440.2 L1951.8 1440.5 L1953.5 1440.7 L1955.2 1441.0 L1957.0 1441.2 L1958.7 1441.4 L1960.4 1441.7 L1962.1 1441.9 L1963.5 1441.9" stroke="#ff0000" stroke-dasharray="29 14.5 6.5 14.5" stroke-dashoffset="20"/>
<path d="M1963.5 1441.9H2461.5" stroke="#00ffff" stroke-dasharray="3.5 106.5" stroke-dashoffset="-106"/>
<path d="M1963.5 1441.9H2461.5" stroke="#0000ff" stroke-dasharray="27.5 34.5 15 33"/>
<path d="M1963.5 1441.9H2461.5" stroke="#ff0000" stroke-dasharray="35 15 30 30" stroke-dashoffset="-27.5"/>
<path d="M1963.5 1441.9H2461.5" stroke="#ff0000" stroke-dasharray="2.5 107.5" stroke-dashoffset="-12" stroke-opacity="0.7"/>
<path d="M1481.9 587.7 L1482.0 591.4 L1482.0 595.1 L1482.1 598.8 L1482.2 602.5 L1482.2 606.3 L1482.3 610.1 L1482.3 614.0 L1482.4 617.9 L1482.5 622.0 L1482.5 626.2 L1482.6 630.5 L1482.6 634.9 L1482.7 639.4 L1482.8 644.0 L1482.8 648.6 L1482.9 653.2 L1483.0 657.8 L1483.0 662.4 L1483.1 666.9 L1483.1 671.2 L1483.2 675.5 L1483.3 679.6 L1483.3 683.6 L1483.4 687.3 L1483.4 690.8 L1483.5 694.3 L1483.6 697.8 L1483.6 701.3 L1483.7 704.8 L1483.8 708.2 L1483.8 711.5 L1483.9 714.8 L1483.9 717.9 L1484.0 720.9 L1484.1 723.8 L1484.1 726.5 L1484.2 729.0 L1484.2 731.3 L1484.3 733.4 L1484.4 735.2 L1484.4 736.8 L1484.5 738.3 L1484.6 739.8 L1484.6 741.2 L1484.7 742.6 L1484.7 744.0 L1484.8 745.3 L1484.9 746.7 L1484.9 748.0 L1485.0 749.2 L1485.1 750.4 L1485.1 751.6 L1485.2 752.8 L1485.2 754.0 L1485.3 755.1 L1485.4 756.2 L1485.4 757.2 L1485.5 758.3 L1485.5 759.3 L1485.6 760.2 L1485.7 761.2 L1485.7 762.1 L1485.8 763.1 L1485.9 763.9 L1485.9 764.8 L1486.0 765.6 L1486.0 766.5 L1486.1 767.3 L1486.2 768.0 L1486.2 768.8 L1486.3 769.5 L1486.3 770.3 L1486.4 771.0 L1486.5 771.6 L1486.5 772.3 L1486.6 772.9 L1486.7 773.6 L1486.7 774.2 L1486.8 774.8 L1486.8 775.4 L1486.9 775.9 L1487.0 776.5 L1487.0 777.0 L1487.1 777.5 L1487.1 778.0 L1487.2 778.5 L1487.3 779.0 L1487.3 779.5 L1487.4 779.9 L1487.5 780.4 L1487.5 780.9 L1487.6 781.3 L1487.6 781.8 L1487.7 782.2 L1487.8 782.6 L1487.8 783.1 L1487.9 783.5 L1488.0 783.9 L1488.0 784.3 L1488.1 784.7 L1488.1 785.1 L1488.3 785.9 L1488.4 786.7 L1488.5 787.4 L1488.6 788.1 L1488.8 788.8 L1488.9 789.5 L1489.0 790.2 L1489.1 790.8 L1489.2 791.5 L1489.4 792.1 L1489.5 792.7 L1489.6 793.3 L1489.7 793.9 L1489.9 794.4 L1490.0 795.0 L1490.1 795.5 L1490.2 796.0 L1490.4 796.5 L1490.5 797.0 L1490.6 797.5 L1490.7 798.0 L1490.8 798.5 L1491.0 799.0 L1491.1 799.4 L1491.2 799.9 L1491.3 800.3 L1491.5 800.8 L1491.6 801.2 L1491.7 801.7 L1492.1 803.2 L1492.5 804.4 L1492.9 805.7 L1493.3 806.9 L1493.6 808.1 L1494.0 809.2 L1494.4 810.3 L1494.7 811.4 L1495.1 812.5 L1495.5 813.5 L1495.8 814.5 L1496.2 815.4 L1496.6 816.4 L1496.9 817.3 L1497.3 818.1 L1497.7 819.0 L1498.1 819.8 L1498.4 820.6 L1498.8 821.3 L1499.2 822.1 L1499.5 822.8 L1499.9 823.5 L1500.3 824.1 L1500.6 824.7 L1501.0 825.3 L1501.4 825.9 L1501.8 826.5 L1502.1 827.1 L1502.5 827.6 L1502.9 828.2 L1503.2 828.7 L1503.6 829.2 L1504.0 829.7 L1504.3 830.2 L1504.7 830.7 L1505.1 831.1 L1505.4 831.6 L1505.8 832.1 L1506.2 832.5 L1506.6 832.9 L1506.9 833.4 L1507.3 833.8 L1507.7 834.2 L1508.0 834.6 L1508.4 835.0 L1508.8 835.4 L1509.1 835.7 L1509.5 836.1 L1509.9 836.5 L1510.2 836.8 L1510.6 837.2 L1511.0 837.5 L1511.4 837.9 L1511.7 838.2 L1512.1 838.6 L1512.5 838.9 L1512.8 839.2 L1513.2 839.5 L1513.6 839.9 L1513.9 840.2 L1514.3 840.5 L1514.7 840.8 L1515.1 841.1 L1515.4 841.4 L1515.8 841.7 L1516.2 842.0 L1516.5 842.2 L1516.9 842.5 L1517.3 842.8 L1517.6 843.1 L1518.0 843.3 L1518.4 843.6 L1518.7 843.8 L1519.1 844.1 L1519.5 844.3 L1519.9 844.6 L1520.2 844.8 L1520.6 845.1 L1521.0 845.3 L1521.3 845.6 L1521.7 845.8 L1522.1 846.0 L1522.4 846.2 L1522.8 846.5 L1523.2 846.7 L1523.6 846.9 L1523.9 847.1 L1524.3 847.4 L1524.7 847.6 L1525.0 847.8 L1525.4 848.0 L1525.8 848.2 L1526.1 848.4 L1526.5 848.7 L1526.9 848.9 L1527.2 849.1 L1527.6 849.3 L1528.0 849.5 L1528.4 849.7 L1528.7 849.9 L1529.1 850.1 L1529.5 850.3 L1529.8 850.5 L1530.2 850.7 L1530.6 850.9 L1530.9 851.1 L1531.3 851.2 L1531.7 851.4 L1532.0 851.6 L1532.4 851.8 L1532.8 852.0 L1533.2 852.1 L1533.5 852.3 L1533.9 852.5 L1534.3 852.6 L1534.6 852.8 L1535.0 853.0 L1535.4 853.1 L1535.7 853.3 L1536.5 853.6 L1537.2 853.9 L1538.0 854.1 L1538.7 854.4 L1539.4 854.7 L1540.2 855.0 L1540.9 855.2 L1541.7 855.5 L1542.4 855.7 L1543.1 856.0 L1543.9 856.2 L1544.6 856.5 L1545.3 856.7 L1546.1 857.0 L1546.8 857.2 L1547.6 857.4 L1548.3 857.6 L1549.0 857.9 L1549.8 858.1 L1550.5 858.3 L1551.3 858.5 L1552.0 858.7 L1552.7 858.9 L1553.5 859.1 L1554.2 859.3 L1555.0 859.5 L1555.7 859.7 L1556.4 859.9 L1557.2 860.1 L1557.9 860.2 L1558.7 860.4 L1559.4 860.6 L1560.1 860.8 L1560.9 860.9 L1561.6 861.1 L1562.3 861.3 L1563.1 861.4 L1563.8 861.6 L1564.6 861.7 L1565.3 861.9 L1566.0 862.0 L1566.8 862.2 L1567.5 862.3 L1568.3 862.5 L1569.0 862.6 L1569.7 862.7 L1570.5 862.9 L1571.2 863.0 L1572.0 863.1 L1572.7 863.3 L1573.4 863.4 L1574.2 863.5 L1574.9 863.6 L1575.6 863.8 L1576.4 863.9 L1577.1 864.0 L1577.9 864.1 L1578.6 864.3 L1579.3 864.4 L1580.1 864.5 L1580.8 864.7 L1581.6 864.8 L1582.3 864.9 L1583.0 865.1 L1583.8 865.2 L1584.5 865.3 L1585.3 865.4 L1586.0 865.5 L1586.7 865.6 L1587.5 865.6 L1588.2 865.7 L1588.9 865.8 L1589.7 865.9 L1590.4 865.9 L1591.2 866.0 L1591.9 866.1 L1592.6 866.1 L1593.4 866.1 L1594.1 866.2 L1594.9 866.2 L1595.6 866.2 L1596.3 866.2 L1597.1 866.1 L1597.8 866.1 L1598.6 866.1 L1599.3 866.1 L1600.0 866.0 L1600.8 866.0 L1601.5 866.0 L1602.2 865.9 L1604.0 865.9 L1605.7 865.8 L1607.4 865.6 L1609.1 865.5 L1610.9 865.3 L1612.6 865.2 L1614.3 865.0 L1616.0 864.8 L1617.7 864.6 L1619.5 864.3 L1621.2 864.0 L1622.9 863.8 L1624.6 863.5 L1626.4 863.2 L1628.1 863.0 L1629.8 862.7 L1631.5 862.5 L1633.2 862.3 L1635.0 862.1 L1636.7 861.9 L1638.4 861.8 L1640.1 861.6 L1641.9 861.4 L1643.6 861.2 L1645.3 861.1 L1647.0 860.9 L1648.7 860.7 L1650.5 860.6 L1652.2 860.4 L1653.9 860.3 L1655.6 860.2 L1657.4 860.0 L1659.1 859.9 L1660.8 859.8 L1662.5 859.7 L1664.2 859.6 L1666.0 859.5 L1667.7 859.5 L1669.4 859.4 L1671.1 859.3 L1672.8 859.2 L1674.6 859.1 L1676.3 859.0 L1678.0 859.0 L1679.7 858.9 L1681.5 858.8 L1683.2 858.8 L1684.9 858.7 L1686.6 858.6 L1688.3 858.6 L1690.1 858.6 L1691.8 858.6 L1693.5 858.6 L1695.2 858.6 L1697.0 858.6 L1698.7 858.6 L1700.4 858.6 L1702.1 858.7 L1703.8 858.7 L1705.6 858.8 L1707.3 858.9 L1709.0 859.0 L1710.7 859.1 L1712.5 859.2 L1714.2 859.3 L1715.9 859.4 L1717.6 859.5 L1719.3 859.6 L1721.1 859.7 L1722.8 859.8 L1724.5 860.0 L1726.2 860.1 L1728.0 860.2 L1729.7 860.3 L1731.4 860.4 L1733.1 860.6 L1734.8 860.7 L1736.6 860.8 L1738.3 860.9 L1740.0 861.0 L1741.7 861.1 L1743.4 861.1 L1745.2 861.2 L1746.9 861.3 L1748.6 861.4 L1750.3 861.5 L1752.1 861.6 L1753.8 861.7 L1755.5 861.8 L1757.2 861.9 L1758.9 862.0 L1760.7 862.1 L1762.4 862.2 L1764.1 862.3 L1765.8 862.4 L1767.6 862.5 L1769.3 862.6 L1771.0 862.7 L1772.7 862.8 L1774.4 862.9 L1776.2 862.9 L1777.9 863.0 L1779.6 863.1 L1781.3 863.2 L1783.1 863.3 L1784.8 863.4 L1786.5 863.4 L1788.2 863.5 L1789.9 863.6 L1791.7 863.7 L1793.4 863.7 L1795.1 863.8 L1796.8 863.9 L1798.6 863.9 L1800.3 864.0 L1802.0 864.0 L1803.7 864.1 L1805.4 864.2 L1807.2 864.2 L1808.9 864.3 L1810.6 864.3 L1812.3 864.4 L1814.0 864.4 L1815.8 864.5 L1817.5 864.6 L1819.2 864.6 L1820.9 864.7 L1822.7 864.7 L1824.4 864.8 L1826.1 864.8 L1827.8 864.9 L1829.5 864.9 L1831.3 865.0 L1833.0 865.0 L1834.7 865.1 L1836.4 865.1 L1838.2 865.1 L1839.9 865.2 L1841.6 865.2 L1843.3 865.3 L1845.0 865.3 L1846.8 865.4 L1848.5 865.4 L1850.2 865.4 L1851.9 865.5 L1853.7 865.5 L1855.4 865.5 L1857.1 865.6 L1858.8 865.6 L1860.5 865.6 L1862.3 865.7 L1864.0 865.7 L1865.7 865.7 L1867.4 865.7 L1869.2 865.8 L1870.9 865.8 L1872.6 865.8 L1874.3 865.8 L1876.0 865.8 L1877.8 865.9 L1879.5 865.9 L1881.2 865.9 L1882.9 865.9 L1884.6 865.9 L1886.4 865.9 L1888.1 866.0 L1889.8 866.0 L1891.5 866.0 L1893.3 866.0 L1895.0 866.0 L1896.7 866.0 L1898.4 866.1 L1900.1 866.1 L1901.9 866.1 L1903.6 866.1 L1905.3 866.1 L1907.0 866.1 L1908.8 866.1 L1910.5 866.1 L1912.2 866.1 L1913.9 866.2 L1915.6 866.2 L1917.4 866.2 L1919.1 866.2 L1920.8 866.2 L1922.5 866.2 L1924.3 866.2 L1926.0 866.2 L1927.7 866.2 L1929.4 866.2 L1931.1 866.2 L1932.9 866.2 L1934.6 866.2 L1936.3 866.2 L1938.0 866.2 L1939.8 866.2 L1941.5 866.2 L1943.2 866.2 L1944.9 866.2 L1946.6 866.2 L1948.4 866.2 L1950.1 866.2 L1951.8 866.2 L1953.5 866.2 L1955.2 866.2 L1957.0 866.2 L1958.7 866.2 L1960.4 866.2 L1962.1 866.2 L1963.9 866.2 L1965.6 866.2 L1967.3 866.2 L1969.0 866.2 L1970.7 866.2 L1972.5 866.2 L1974.2 866.2 L1975.9 866.2 L1977.6 866.2 L1979.4 866.2 L1981.1 866.2 L1982.8 866.2 L1984.5 866.2 L1986.2 866.2 L1988.0 866.2 L1989.7 866.2 L1991.4 866.2 L1993.1 866.2 L1994.9 866.2 L1996.6 866.2 L1998.3 866.2 L2000.0 866.2 L2001.7 866.2 L2003.5 866.2 L2005.2 866.2 L2006.9 866.2 L2008.6 866.2 L2010.4 866.2 L2012.1 866.2 L2013.8 866.2 L2015.5 866.2 L2017.2 866.2 L2019.0 866.2 L2020.7 866.2 L2022.4 866.2 L2024.1 866.2 L2025.8 866.2 L2027.6 866.2 L2029.3 866.2 L2031.0 866.2 L2032.7 866.2 L2034.5 866.2 L2036.2 866.2 L2037.9 866.2 L2039.6 866.2 L2041.3 866.2 L2043.1 866.2 L2044.8 866.2 L2046.5 866.2 L2048.2 866.2 L2050.0 866.2 L2051.7 866.2 L2053.4 866.2 L2055.1 866.2 L2056.8 866.2 L2058.6 866.2 L2060.3 866.2 L2062.0 866.2 L2063.7 866.2 L2065.5 866.2 L2067.2 866.2 L2068.9 866.2 L2070.6 866.2 L2072.3 866.2 L2074.1 866.2 L2075.8 866.2 L2077.5 866.2 L2079.2 866.2 L2081.0 866.2 L2082.7 866.2 L2084.4 866.2 L2086.1 866.2 L2087.8 866.2 L2089.6 866.2 L2091.3 866.2 L2093.0 866.2 L2094.7 866.2 L2096.4 866.2 L2098.2 866.2 L2099.9 866.2 L2101.6 866.2 L2103.3 866.2 L2105.1 866.2 L2106.8 866.2 L2108.5 866.2 L2110.2 866.2 L2111.9 866.2 L2113.7 866.2 L2115.4 866.2 L2117.1 866.2 L2118.8 866.2 L2120.6 866.2 L2122.3 866.2 L2124.0 866.2 L2125.7 866.2 L2127.4 866.2 L2129.2 866.2 L2130.9 866.2 L2132.6 866.2 L2134.3 866.2 L2136.1 866.2 L2137.8 866.2 L2139.5 866.2 L2141.2 866.2 L2142.9 866.2 L2144.7 866.2 L2146.4 866.2 L2148.1 866.2 L2149.8 866.2 L2151.6 866.2 L2153.3 866.2 L2155.0 866.2 L2156.7 866.2 L2158.4 866.2 L2160.2 866.2 L2161.9 866.2 L2163.6 866.2 L2165.3 866.2 L2167.0 866.2 L2168.8 866.2 L2170.5 866.2 L2172.2 866.2 L2173.9 866.2 L2175.7 866.2 L2177.4 866.2 L2179.1 866.2 L2180.8 866.2 L2182.5 866.2 L2184.3 866.2 L2186.0 866.2 L2187.7 866.2 L2189.4 866.2 L2191.2 866.2 L2192.9 866.2 L2194.6 866.2 L2196.3 866.2 L2198.0 866.2 L2199.8 866.2 L2201.5 866.2 L2203.2 866.2 L2204.9 866.2 L2206.7 866.2 L2208.4 866.2 L2210.1 866.2 L2211.8 866.2 L2213.5 866.2 L2215.3 866.2 L2217.0 866.2 L2218.7 866.2 L2220.4 866.2 L2222.1 866.2 L2223.9 866.2 L2225.6 866.2 L2227.3 866.2 L2229.0 866.2 L2230.8 866.2 L2232.5 866.2 L2234.2 866.2 L2235.9 866.2 L2237.6 866.2 L2239.4 866.2 L2241.1 866.2 L2242.8 866.2 L2244.5 866.2 L2246.3 866.2 L2248.0 866.2 L2249.7 866.2 L2251.4 866.2 L2253.1 866.2 L2254.9 866.2 L2256.6 866.2 L2258.3 866.2 L2260.0 866.2 L2261.8 866.2 L2263.5 866.2 L2265.2 866.2 L2266.9 866.2 L2268.6 866.2 L2270.4 866.2 L2272.1 866.2 L2273.8 866.2 L2275.5 866.2 L2277.3 866.2 L2279.0 866.2 L2280.7 866.2 L2282.4 866.2 L2284.1 866.2 L2285.9 866.2 L2287.6 866.2 L2289.3 866.2 L2291.0 866.2 L2292.7 866.2 L2294.5 866.2 L2296.2 866.2 L2297.9 866.2 L2299.6 866.2 L2301.4 866.2 L2303.1 866.2 L2304.8 866.2 L2306.5 866.2 L2308.2 866.2 L2310.0 866.2 L2311.7 866.2 L2313.4 866.2 L2315.1 866.2 L2316.9 866.2 L2318.6 866.2 L2320.3 866.2 L2322.0 866.2 L2323.7 866.2 L2325.5 866.2 L2327.2 866.2 L2328.9 866.2 L2330.6 866.2 L2332.4 866.2 L2334.1 866.2 L2335.8 866.2 L2337.5 866.2 L2339.2 866.2 L2341.0 866.2 L2342.7 866.2 L2344.4 866.2 L2346.1 866.2 L2347.9 866.2 L2349.6 866.2 L2351.3 866.2 L2353.0 866.2 L2354.7 866.2 L2356.5 866.2 L2358.2 866.2 L2359.9 866.2 L2361.6 866.2 L2363.3 866.2 L2365.1 866.2 L2366.8 866.2 L2368.5 866.2 L2370.2 866.2 L2372.0 866.2 L2373.7 866.2 L2375.4 866.2 L2377.1 866.2 L2378.8 866.2 L2380.6 866.2 L2382.3 866.2 L2384.0 866.2 L2385.7 866.2 L2387.5 866.2 L2389.2 866.2 L2390.9 866.2 L2392.6 866.2 L2394.3 866.2 L2396.1 866.2 L2397.8 866.2 L2399.5 866.2 L2401.2 866.2 L2403.0 866.2 L2404.7 866.2 L2406.4 866.2 L2408.1 866.2 L2409.8 866.2 L2411.6 866.2 L2413.3 866.2 L2415.0 866.2 L2416.7 866.2 L2418.5 866.2 L2420.2 866.2 L2421.9 866.2 L2423.6 866.2 L2425.3 866.2 L2427.1 866.2 L2428.8 866.2 L2430.5 866.2 L2432.2 866.2 L2433.9 866.2 L2435.7 866.2 L2437.4 866.2 L2439.1 866.2 L2440.8 866.2 L2442.6 866.2 L2444.3 866.2 L2446.0 866.2 L2447.7 866.2 L2449.4 866.2 L2451.2 866.2 L2452.9 866.2 L2454.6 866.2 L2456.3 866.2 L2458.1 866.2 L2459.8 866.2 L2461.5 866.2" stroke="#000" stroke-width="12.2" stroke-linecap="round"/>
<g fill="#000" stroke="none"><circle cx="1480.0" cy="411.1" r="3.6"/><circle cx="1480.0" cy="440.9" r="3.6"/><circle cx="1480.0" cy="466.9" r="3.6"/><circle cx="1480.0" cy="491.0" r="3.6"/><circle cx="1480.0" cy="513.3" r="3.6"/><circle cx="1480.0" cy="535.6" r="3.6"/><circle cx="1480.0" cy="556.0" r="3.6"/><circle cx="1480.0" cy="574.6" r="3.6"/></g>
<path d="M1479.5 225.4 L1479.6 229.3 L1479.6 233.2 L1479.7 237.1 L1479.7 241.0 L1479.8 244.9 L1479.9 248.8 L1479.9 252.6 L1480.0 256.5 L1480.1 260.4 L1480.1 264.3 L1480.2 268.2 L1480.2 272.1 L1480.3 276.0 L1480.4 279.9 L1480.4 283.8 L1480.5 287.6 L1480.5 291.5 L1480.6 295.4 L1480.7 299.3 L1480.7 303.2 L1480.8 307.1 L1480.9 311.0 L1480.9 314.9 L1481.0 318.7 L1481.0 322.6 L1481.1 326.5 L1481.2 330.4 L1481.2 334.3 L1481.3 338.2 L1481.4 342.1 L1481.4 346.0 L1481.5 349.9 L1481.5 353.7 L1481.6 357.6 L1481.7 361.5 L1481.7 365.4 L1481.8 369.3 L1481.8 373.2 L1481.9 377.1 L1482.0 381.0 L1482.0 384.9 L1482.1 388.7 L1482.2 392.6 L1482.2 396.5 L1482.3 400.4 L1482.3 404.3 L1482.4 408.2 L1482.5 412.1 L1482.5 416.0 L1482.6 420.0 L1482.6 424.0 L1482.7 428.1 L1482.8 432.2 L1482.8 436.3 L1482.9 440.4 L1483.0 444.5 L1483.0 448.6 L1483.1 452.7 L1483.1 456.8 L1483.2 460.9 L1483.3 465.0 L1483.3 469.0 L1483.4 472.9 L1483.4 476.8 L1483.5 480.6 L1483.6 484.4 L1483.6 488.1 L1483.7 491.7 L1483.8 495.2 L1483.8 498.6 L1483.9 501.9 L1483.9 505.2 L1484.0 508.3 L1484.1 511.5 L1484.1 514.7 L1484.2 517.9 L1484.2 521.1 L1484.3 524.3 L1484.4 527.5 L1484.4 530.6 L1484.5 533.7 L1484.6 536.7 L1484.6 539.8 L1484.7 542.7 L1484.7 545.6 L1484.8 548.5 L1484.9 551.3 L1484.9 554.0 L1485.0 556.6 L1485.1 559.2 L1485.1 561.7 L1485.2 564.0 L1485.2 566.3 L1485.3 568.5 L1485.4 570.5 L1485.4 572.5 L1485.5 574.3 L1485.5 576.0 L1485.6 577.6 L1485.7 579.0 L1485.7 580.4 L1485.8 581.8 L1485.9 583.1 L1485.9 584.4 L1486.0 585.7 L1486.0 586.9 L1486.1 588.1 L1486.2 589.3 L1486.2 590.5 L1486.3 591.6 L1486.3 592.8 L1486.4 593.8 L1486.5 594.9 L1486.5 595.9 L1486.6 597.0 L1486.7 597.9 L1486.7 598.9 L1486.8 599.9 L1486.8 600.8 L1486.9 601.7 L1487.0 602.6 L1487.0 603.4 L1487.1 604.3 L1487.1 605.1 L1487.2 605.9 L1487.3 606.7 L1487.3 607.4 L1487.4 608.2 L1487.5 608.9 L1487.5 609.6 L1487.6 610.3 L1487.6 611.0 L1487.7 611.6 L1487.8 612.3 L1487.8 612.9 L1487.9 613.5 L1488.0 614.1 L1488.0 614.7 L1488.1 615.3 L1488.1 615.8 L1488.2 616.4 L1488.3 616.9 L1488.3 617.5 L1488.4 618.0 L1488.4 618.6 L1488.5 619.1 L1488.6 619.6 L1488.6 620.1 L1488.7 620.6 L1488.8 621.1 L1488.8 621.7 L1488.9 622.2 L1488.9 622.6 L1489.0 623.1 L1489.1 623.6 L1489.1 624.1 L1489.2 624.6 L1489.2 625.0 L1489.3 625.5 L1489.4 626.0 L1489.4 626.4 L1489.5 626.9 L1489.6 627.3 L1489.6 627.8 L1489.7 628.2 L1489.7 628.6 L1489.8 629.1 L1489.9 629.5 L1489.9 629.9 L1490.0 630.3 L1490.0 630.8 L1490.1 631.2 L1490.2 631.6 L1490.2 632.0 L1490.3 632.4 L1490.4 632.8 L1490.5 633.6 L1490.6 634.3 L1490.7 635.1 L1490.8 635.8 L1491.0 636.5 L1491.1 637.2 L1491.2 637.9 L1491.3 638.6 L1491.5 639.3 L1491.6 640.0 L1491.7 640.6 L1492.1 642.8 L1492.5 644.6 L1492.9 646.4 L1493.3 648.1 L1493.6 649.7 L1494.0 651.3 L1494.4 652.8 L1494.7 654.4 L1495.1 655.9 L1495.5 657.4 L1495.8 658.9 L1496.2 660.4 L1496.6 661.8 L1496.9 663.3 L1497.3 664.7 L1497.7 666.0 L1498.1 667.4 L1498.4 668.8 L1498.8 670.1 L1499.2 671.4 L1499.5 672.7 L1499.9 674.0 L1500.3 675.2 L1500.6 676.5 L1501.0 677.7 L1501.4 678.9 L1501.8 680.1 L1502.1 681.2 L1502.5 682.4 L1502.9 683.5 L1503.2 684.6 L1503.6 685.7 L1504.0 686.8 L1504.3 687.8 L1504.7 688.9 L1505.1 689.9 L1505.4 690.9 L1505.8 691.9 L1506.2 692.9 L1506.6 693.9 L1506.9 694.8 L1507.3 695.8 L1507.7 696.7 L1508.0 697.6 L1508.4 698.5 L1508.8 699.4 L1509.1 700.2 L1509.5 701.1 L1509.9 701.9 L1510.2 702.7 L1510.6 703.6 L1511.0 704.3 L1511.4 705.1 L1511.7 705.9 L1512.1 706.6 L1512.5 707.4 L1512.8 708.1 L1513.2 708.8 L1513.6 709.6 L1513.9 710.3 L1514.3 711.0 L1514.7 711.7 L1515.1 712.4 L1515.4 713.1 L1515.8 713.8 L1516.2 714.4 L1516.5 715.1 L1516.9 715.8 L1517.3 716.4 L1517.6 717.1 L1518.0 717.7 L1518.4 718.4 L1518.7 719.0 L1519.1 719.7 L1519.5 720.3 L1519.9 720.9 L1520.2 721.5 L1520.6 722.1 L1521.0 722.8 L1521.3 723.4 L1521.7 724.0 L1522.1 724.6 L1522.4 725.1 L1522.8 725.7 L1523.2 726.3 L1523.6 726.9 L1523.9 727.5 L1524.3 728.0 L1524.7 728.6 L1525.0 729.1 L1525.4 729.7 L1525.8 730.3 L1526.1 730.8 L1526.5 731.3 L1526.9 731.9 L1527.2 732.4 L1527.6 732.9 L1528.0 733.5 L1528.4 734.0 L1528.7 734.5 L1529.1 735.0 L1529.5 735.5 L1529.8 736.0 L1530.2 736.5 L1530.6 737.0 L1530.9 737.5 L1531.3 738.0 L1531.7 738.5 L1532.0 739.0 L1532.4 739.5 L1532.8 739.9 L1533.2 740.4 L1533.5 740.9 L1533.9 741.3 L1534.3 741.8 L1534.6 742.3 L1535.0 742.7 L1535.4 743.2 L1535.7 743.6 L1536.1 744.1 L1536.5 744.5 L1536.9 745.0 L1537.2 745.4 L1537.6 745.8 L1538.0 746.3 L1538.3 746.7 L1538.7 747.1 L1539.1 747.6 L1539.4 748.0 L1539.8 748.4 L1540.2 748.8 L1540.5 749.2 L1540.9 749.6 L1541.3 750.1 L1541.7 750.5 L1542.0 750.9 L1542.4 751.3 L1542.8 751.7 L1543.1 752.1 L1543.5 752.5 L1543.9 752.9 L1544.2 753.3 L1544.6 753.7 L1545.0 754.1 L1545.3 754.5 L1545.7 754.8 L1546.1 755.2 L1546.5 755.6 L1546.8 756.0 L1547.2 756.4 L1547.6 756.8 L1547.9 757.1 L1548.3 757.5 L1548.7 757.9 L1549.0 758.3 L1549.4 758.6 L1549.8 759.0 L1550.2 759.4 L1550.5 759.8 L1550.9 760.1 L1551.3 760.5 L1551.6 760.8 L1552.0 761.2 L1552.4 761.6 L1552.7 761.9 L1553.1 762.3 L1553.5 762.6 L1553.8 763.0 L1554.2 763.3 L1554.6 763.7 L1555.0 764.0 L1555.3 764.4 L1555.7 764.7 L1556.1 765.1 L1556.4 765.4 L1556.8 765.8 L1557.2 766.1 L1557.5 766.4 L1557.9 766.8 L1558.3 767.1 L1558.7 767.4 L1559.0 767.8 L1559.4 768.1 L1559.8 768.4 L1560.1 768.8 L1560.5 769.1 L1560.9 769.4 L1561.2 769.7 L1561.6 770.0 L1562.0 770.4 L1562.3 770.7 L1562.7 771.0 L1563.1 771.3 L1563.5 771.6 L1563.8 771.9 L1564.2 772.2 L1564.6 772.5 L1564.9 772.8 L1565.3 773.1 L1565.7 773.5 L1566.0 773.8 L1566.4 774.1 L1566.8 774.3 L1567.1 774.6 L1567.5 774.9 L1567.9 775.2 L1568.3 775.5 L1568.6 775.8 L1569.0 776.1 L1569.4 776.4 L1569.7 776.7 L1570.1 777.0 L1570.5 777.2 L1570.8 777.5 L1571.2 777.8 L1571.6 778.1 L1572.0 778.3 L1572.3 778.6 L1572.7 778.9 L1573.1 779.2 L1573.4 779.4 L1573.8 779.7 L1574.2 780.0 L1574.5 780.2 L1574.9 780.5 L1575.3 780.8 L1575.6 781.0 L1576.0 781.3 L1576.4 781.5 L1576.8 781.8 L1577.1 782.0 L1577.5 782.3 L1577.9 782.6 L1578.2 782.8 L1578.6 783.0 L1579.0 783.3 L1579.3 783.5 L1579.7 783.8 L1580.1 784.0 L1580.5 784.3 L1580.8 784.5 L1581.2 784.7 L1581.6 785.0 L1581.9 785.2 L1582.3 785.5 L1582.7 785.7 L1583.0 785.9 L1583.4 786.1 L1583.8 786.4 L1584.1 786.6 L1584.5 786.8 L1584.9 787.1 L1585.3 787.3 L1585.6 787.5 L1586.0 787.7 L1586.4 787.9 L1586.7 788.2 L1587.1 788.4 L1587.5 788.6 L1587.8 788.8 L1588.2 789.0 L1588.6 789.2 L1588.9 789.4 L1589.3 789.7 L1589.7 789.9 L1590.1 790.1 L1590.4 790.3 L1590.8 790.5 L1591.2 790.7 L1591.5 790.9 L1591.9 791.1 L1592.3 791.3 L1592.6 791.5 L1593.0 791.8 L1593.4 792.0 L1593.8 792.2 L1594.1 792.4 L1594.5 792.6 L1594.9 792.8 L1595.2 793.0 L1595.6 793.2 L1596.0 793.4 L1596.3 793.6 L1596.7 793.8 L1597.1 794.0 L1597.4 794.2 L1597.8 794.4 L1598.2 794.6 L1598.6 794.8 L1598.9 794.9 L1599.3 795.1 L1599.7 795.3 L1600.0 795.5 L1600.4 795.7 L1600.8 795.9 L1601.1 796.1 L1601.5 796.3 L1601.9 796.5 L1602.2 796.7 L1604.0 797.5 L1605.7 798.4 L1607.4 799.2 L1609.1 800.0 L1610.9 800.9 L1612.6 801.7 L1614.3 802.4 L1616.0 803.2 L1617.7 804.0 L1619.5 804.7 L1621.2 805.4 L1622.9 806.2 L1624.6 806.9 L1626.4 807.6 L1628.1 808.3 L1629.8 808.9 L1631.5 809.6 L1633.2 810.2 L1635.0 810.9 L1636.7 811.5 L1638.4 812.1 L1640.1 812.7 L1641.9 813.3 L1643.6 813.9 L1645.3 814.5 L1647.0 815.0 L1648.7 815.6 L1650.5 816.2 L1652.2 816.7 L1653.9 817.2 L1655.6 817.8 L1657.4 818.3 L1659.1 818.8 L1660.8 819.3 L1662.5 819.8 L1664.2 820.3 L1666.0 820.8 L1667.7 821.3 L1669.4 821.8 L1671.1 822.3 L1672.8 822.7 L1674.6 823.2 L1676.3 823.7 L1678.0 824.1 L1679.7 824.6 L1681.5 825.0 L1683.2 825.5 L1684.9 825.9 L1686.6 826.3 L1688.3 826.8 L1690.1 827.2 L1691.8 827.6 L1693.5 828.0 L1695.2 828.4 L1697.0 828.9 L1698.7 829.3 L1700.4 829.7 L1702.1 830.1 L1703.8 830.5 L1705.6 830.9 L1707.3 831.3 L1709.0 831.7 L1710.7 832.1 L1712.5 832.5 L1714.2 832.9 L1715.9 833.3 L1717.6 833.7 L1719.3 834.1 L1721.1 834.5 L1722.8 834.9 L1724.5 835.3 L1726.2 835.7 L1728.0 836.0 L1729.7 836.4 L1731.4 836.8 L1733.1 837.2 L1734.8 837.6 L1736.6 838.0 L1738.3 838.3 L1740.0 838.7 L1741.7 839.1 L1743.4 839.5 L1745.2 839.8 L1746.9 840.2 L1748.6 840.6 L1750.3 840.9 L1752.1 841.3 L1753.8 841.7 L1755.5 842.0 L1757.2 842.4 L1758.9 842.7 L1760.7 843.1 L1762.4 843.4 L1764.1 843.8 L1765.8 844.1 L1767.6 844.4 L1769.3 844.8 L1771.0 845.1 L1772.7 845.4 L1774.4 845.8 L1776.2 846.1 L1777.9 846.4 L1779.6 846.7 L1781.3 847.0 L1783.1 847.4 L1784.8 847.7 L1786.5 848.0 L1788.2 848.3 L1789.9 848.6 L1791.7 848.8 L1793.4 849.1 L1795.1 849.4 L1796.8 849.7 L1798.6 850.0 L1800.3 850.2 L1802.0 850.5 L1803.7 850.8 L1805.4 851.0 L1807.2 851.3 L1808.9 851.5 L1810.6 851.8 L1812.3 852.0 L1814.0 852.3 L1815.8 852.5 L1817.5 852.8 L1819.2 853.0 L1820.9 853.2 L1822.7 853.4 L1824.4 853.7 L1826.1 853.9 L1827.8 854.1 L1829.5 854.3 L1831.3 854.5 L1833.0 854.8 L1834.7 855.0 L1836.4 855.2 L1838.2 855.4 L1839.9 855.6 L1841.6 855.8 L1843.3 856.0 L1845.0 856.2 L1846.8 856.4 L1848.5 856.6 L1850.2 856.8 L1851.9 857.0 L1853.7 857.2 L1855.4 857.4 L1857.1 857.6 L1858.8 857.8 L1860.5 858.0 L1862.3 858.1 L1864.0 858.3 L1865.7 858.5 L1867.4 858.7 L1869.2 858.9 L1870.9 859.1 L1872.6 859.3 L1874.3 859.5 L1876.0 859.7 L1877.8 859.9 L1879.5 860.0 L1881.2 860.2 L1882.9 860.4 L1884.6 860.6 L1886.4 860.8 L1888.1 861.0 L1889.8 861.2 L1891.5 861.3 L1893.3 861.5 L1895.0 861.7 L1896.7 861.9 L1898.4 862.1 L1900.1 862.2 L1901.9 862.4 L1903.6 862.6 L1905.3 862.8 L1907.0 862.9 L1908.8 863.1 L1910.5 863.3 L1912.2 863.4 L1913.9 863.6 L1915.6 863.8 L1917.4 863.9 L1919.1 864.1 L1920.8 864.3 L1922.5 864.4 L1924.3 864.6 L1926.0 864.7 L1927.7 864.9 L1929.4 865.1 L1931.1 865.2 L1932.9 865.4 L1934.6 865.5 L1936.3 865.7 L1938.0 865.8 L1939.8 865.9 L1941.5 866.0 L1943.2 866.1 L1944.9 866.2 L1946.6 866.2 L1948.4 866.2 L1950.1 866.2 L1951.8 866.2 L1953.5 866.2 L1955.2 866.2 L1957.0 866.2 L1958.7 866.2 L1959.6 866.2" stroke="#ff00ff" stroke-dasharray="31 21"/>
<path d="M1479.5 39.7 L1479.6 40.5 L1479.6 41.3 L1479.7 42.2 L1479.7 43.0 L1479.8 43.8 L1479.9 44.7 L1479.9 45.5 L1480.0 46.3 L1480.1 47.2 L1480.1 48.0 L1480.2 48.9 L1480.2 49.7 L1480.3 50.6 L1480.4 51.4 L1480.4 52.3 L1480.5 53.2 L1480.5 54.0 L1480.6 54.9 L1480.7 55.8 L1480.7 56.7 L1480.8 57.5 L1480.9 58.4 L1480.9 59.3 L1481.0 60.2 L1481.0 61.1 L1481.1 62.0 L1481.2 62.9 L1481.2 63.8 L1481.3 64.7 L1481.4 65.6 L1481.4 66.5 L1481.5 67.4 L1481.5 68.3 L1481.6 69.3 L1481.7 70.2 L1481.7 71.1 L1481.8 72.0 L1481.8 73.0 L1481.9 73.9 L1482.0 74.8 L1482.0 75.8 L1482.1 76.7 L1482.2 77.7 L1482.2 78.6 L1482.3 79.6 L1482.3 80.5 L1482.4 81.5 L1482.5 82.4 L1482.5 83.4 L1482.6 84.3 L1482.6 85.3 L1482.7 86.3 L1482.8 87.3 L1482.8 88.2 L1482.9 89.2 L1483.0 90.2 L1483.0 91.2 L1483.1 92.1 L1483.1 93.1 L1483.2 94.1 L1483.3 95.1 L1483.3 96.1 L1483.4 97.1 L1483.4 98.1 L1483.5 99.1 L1483.6 100.1 L1483.6 101.1 L1483.7 102.1 L1483.8 103.1 L1483.8 104.1 L1483.9 105.2 L1483.9 106.2 L1484.0 107.2 L1484.1 108.2 L1484.1 109.2 L1484.2 110.3 L1484.2 111.3 L1484.3 112.3 L1484.4 113.4 L1484.4 114.4 L1484.5 115.5 L1484.6 116.5 L1484.6 117.6 L1484.7 118.7 L1484.7 119.8 L1484.8 120.9 L1484.9 122.0 L1484.9 123.1 L1485.0 124.3 L1485.1 125.4 L1485.1 126.6 L1485.2 127.8 L1485.2 129.0 L1485.3 130.2 L1485.4 131.4 L1485.4 132.6 L1485.5 133.8 L1485.5 135.0 L1485.6 136.2 L1485.7 137.5 L1485.7 138.7 L1485.8 139.9 L1485.9 141.2 L1485.9 142.4 L1486.0 143.7 L1486.0 145.0 L1486.1 146.2 L1486.2 147.5 L1486.2 148.8 L1486.3 150.0 L1486.3 151.3 L1486.4 152.6 L1486.5 153.9 L1486.5 155.1 L1486.6 156.4 L1486.7 157.7 L1486.7 159.0 L1486.8 160.2 L1486.8 161.5 L1486.9 162.8 L1487.0 164.1 L1487.0 165.3 L1487.1 166.6 L1487.1 167.9 L1487.2 169.1 L1487.3 170.4 L1487.3 171.6 L1487.4 172.9 L1487.5 174.1 L1487.5 175.3 L1487.6 176.5 L1487.6 177.8 L1487.7 179.0 L1487.8 180.2 L1487.8 181.4 L1487.9 182.6 L1488.0 183.7 L1488.0 184.9 L1488.1 186.1 L1488.1 187.2 L1488.2 188.4 L1488.3 189.5 L1488.3 190.6 L1488.4 191.7 L1488.4 192.8 L1488.5 193.9 L1488.6 195.0 L1488.6 196.0 L1488.7 197.1 L1488.8 198.1 L1488.8 199.1 L1488.9 200.1 L1488.9 201.1 L1489.0 202.1 L1489.1 203.0 L1489.1 204.0 L1489.2 204.9 L1489.2 205.8 L1489.3 206.7 L1489.4 207.5 L1489.4 208.4 L1489.5 209.3 L1489.6 210.1 L1489.6 211.0 L1489.7 211.8 L1489.7 212.6 L1489.8 213.4 L1489.9 214.2 L1489.9 215.0 L1490.0 215.8 L1490.0 216.6 L1490.1 217.4 L1490.2 218.2 L1490.2 218.9 L1490.3 219.7 L1490.4 220.4 L1490.4 221.2 L1490.5 221.9 L1490.5 222.7 L1490.6 223.4 L1490.7 224.1 L1490.7 224.8 L1490.8 225.6 L1490.8 226.3 L1490.9 227.0 L1491.0 227.7 L1491.0 228.4 L1491.1 229.1 L1491.2 229.7 L1491.2 230.4 L1491.3 231.1 L1491.3 231.8 L1491.4 232.5 L1491.5 233.1 L1491.5 233.8 L1491.6 234.5 L1491.7 235.1 L1491.7 235.8 L1491.8 236.4 L1492.1 240.3 L1492.5 244.2 L1492.9 248.0 L1493.3 251.9 L1493.6 255.9 L1494.0 259.9 L1494.4 264.1 L1494.7 268.3 L1495.1 272.5 L1495.5 276.8 L1495.8 281.1 L1496.2 285.4 L1496.6 289.6 L1496.9 293.9 L1497.3 298.1 L1497.7 302.3 L1498.1 306.4 L1498.4 310.5 L1498.8 314.6 L1499.2 318.5 L1499.5 322.5 L1499.9 326.3 L1500.3 330.2 L1500.6 334.0 L1501.0 337.7 L1501.4 341.5 L1501.8 345.2 L1502.1 348.8 L1502.5 352.5 L1502.9 356.1 L1503.2 359.7 L1503.6 363.2 L1504.0 366.7 L1504.3 370.2 L1504.7 373.7 L1505.1 377.2 L1505.4 380.6 L1505.8 384.1 L1506.2 387.5 L1506.6 390.9 L1506.9 394.2 L1507.3 397.6 L1507.7 400.9 L1508.0 404.1 L1508.4 407.3 L1508.8 410.5 L1509.1 413.7 L1509.5 416.7 L1509.9 419.8 L1510.2 422.8 L1510.6 425.8 L1511.0 428.7 L1511.4 431.7 L1511.7 434.7 L1512.1 437.6 L1512.5 440.5 L1512.8 443.4 L1513.2 446.2 L1513.6 449.0 L1513.9 451.8 L1514.3 454.5 L1514.7 457.2 L1515.1 459.7 L1515.4 462.3 L1515.8 464.7 L1516.2 467.1 L1516.5 469.3 L1516.9 471.5 L1517.3 473.6 L1517.6 475.6 L1518.0 477.6 L1518.4 479.5 L1518.7 481.4 L1519.1 483.2 L1519.5 485.0 L1519.9 486.7 L1520.2 488.5 L1520.6 490.1 L1521.0 491.8 L1521.3 493.4 L1521.7 495.0 L1522.1 496.6 L1522.4 498.1 L1522.8 499.7 L1523.2 501.2 L1523.6 502.7 L1523.9 504.2 L1524.3 505.8 L1524.7 507.3 L1525.0 508.8 L1525.4 510.3 L1525.8 511.8 L1526.1 513.3 L1526.5 514.8 L1526.9 516.3 L1527.2 517.8 L1527.6 519.2 L1528.0 520.7 L1528.4 522.1 L1528.7 523.6 L1529.1 525.0 L1529.5 526.4 L1529.8 527.8 L1530.2 529.2 L1530.6 530.6 L1530.9 532.0 L1531.3 533.4 L1531.7 534.8 L1532.0 536.1 L1532.4 537.5 L1532.8 538.8 L1533.2 540.2 L1533.5 541.5 L1533.9 542.8 L1534.3 544.1 L1534.6 545.4 L1535.0 546.7 L1535.4 548.0 L1535.7 549.3 L1536.1 550.5 L1536.5 551.8 L1536.9 553.0 L1537.2 554.3 L1537.6 555.5 L1538.0 556.7 L1538.3 558.0 L1538.7 559.2 L1539.1 560.4 L1539.4 561.6 L1539.8 562.7 L1540.2 563.9 L1540.5 565.1 L1540.9 566.2 L1541.3 567.4 L1541.7 568.6 L1542.0 569.7 L1542.4 570.8 L1542.8 572.0 L1543.1 573.1 L1543.5 574.2 L1543.9 575.3 L1544.2 576.4 L1544.6 577.5 L1545.0 578.6 L1545.3 579.7 L1545.7 580.7 L1546.1 581.8 L1546.5 582.9 L1546.8 583.9 L1547.2 585.0 L1547.6 586.1 L1547.9 587.1 L1548.3 588.1 L1548.7 589.2 L1549.0 590.2 L1549.4 591.2 L1549.8 592.3 L1550.2 593.3 L1550.5 594.3 L1550.9 595.3 L1551.3 596.3 L1551.6 597.3 L1552.0 598.3 L1552.4 599.3 L1552.7 600.3 L1553.1 601.3 L1553.5 602.2 L1553.8 603.2 L1554.2 604.2 L1554.6 605.2 L1555.0 606.1 L1555.3 607.1 L1555.7 608.1 L1556.1 609.0 L1556.4 610.0 L1556.8 611.0 L1557.2 611.9 L1557.5 612.9 L1557.9 613.8 L1558.3 614.8 L1558.7 615.7 L1559.0 616.7 L1559.4 617.6 L1559.8 618.6 L1560.1 619.5 L1560.5 620.4 L1560.9 621.4 L1561.2 622.3 L1561.6 623.2 L1562.0 624.1 L1562.3 625.1 L1562.7 626.0 L1563.1 626.9 L1563.5 627.8 L1563.8 628.7 L1564.2 629.6 L1564.6 630.5 L1564.9 631.4 L1565.3 632.3 L1565.7 633.2 L1566.0 634.1 L1566.4 635.0 L1566.8 635.8 L1567.1 636.7 L1567.5 637.6 L1567.9 638.4 L1568.3 639.3 L1568.6 640.2 L1569.0 641.0 L1569.4 641.9 L1569.7 642.7 L1570.1 643.5 L1570.5 644.4 L1570.8 645.2 L1571.2 646.0 L1571.6 646.9 L1572.0 647.7 L1572.3 648.5 L1572.7 649.3 L1573.1 650.1 L1573.4 650.9 L1573.8 651.7 L1574.2 652.4 L1574.5 653.2 L1574.9 654.0 L1575.3 654.7 L1575.6 655.5 L1576.0 656.3 L1576.4 657.0 L1576.8 657.8 L1577.1 658.5 L1577.5 659.3 L1577.9 660.0 L1578.2 660.8 L1578.6 661.5 L1579.0 662.2 L1579.3 663.0 L1579.7 663.7 L1580.1 664.4 L1580.5 665.2 L1580.8 665.9 L1581.2 666.6 L1581.6 667.3 L1581.9 668.1 L1582.3 668.8 L1582.7 669.5 L1583.0 670.2 L1583.4 670.9 L1583.8 671.6 L1584.1 672.3 L1584.5 673.0 L1584.9 673.7 L1585.3 674.4 L1585.6 675.1 L1586.0 675.8 L1586.4 676.5 L1586.7 677.2 L1587.1 677.8 L1587.5 678.5 L1587.8 679.2 L1588.2 679.8 L1588.6 680.5 L1588.9 681.2 L1589.3 681.8 L1589.7 682.5 L1590.1 683.1 L1590.4 683.8 L1590.8 684.4 L1591.2 685.0 L1591.5 685.7 L1591.9 686.3 L1592.3 686.9 L1592.6 687.5 L1593.0 688.2 L1593.4 688.8 L1593.8 689.4 L1594.1 690.0 L1594.5 690.6 L1594.9 691.2 L1595.2 691.8 L1595.6 692.3 L1596.0 692.9 L1596.3 693.5 L1596.7 694.1 L1597.1 694.6 L1597.4 695.2 L1597.8 695.7 L1598.2 696.3 L1598.6 696.8 L1598.9 697.4 L1599.3 697.9 L1599.7 698.5 L1600.0 699.0 L1600.4 699.5 L1600.8 700.0 L1601.1 700.5 L1601.5 701.1 L1601.9 701.6 L1602.2 702.1 L1604.0 704.4 L1605.7 706.7 L1607.4 708.9 L1609.1 711.1 L1610.9 713.2 L1612.6 715.2 L1614.3 717.2 L1616.0 719.2 L1617.7 721.1 L1619.5 723.0 L1621.2 724.9 L1622.9 726.7 L1624.6 728.5 L1626.4 730.2 L1628.1 731.9 L1629.8 733.7 L1631.5 735.3 L1633.2 737.0 L1635.0 738.7 L1636.7 740.3 L1638.4 741.9 L1640.1 743.5 L1641.9 745.0 L1643.6 746.6 L1645.3 748.1 L1647.0 749.6 L1648.7 751.0 L1650.5 752.4 L1652.2 753.8 L1653.9 755.2 L1655.6 756.5 L1657.4 757.8 L1659.1 759.1 L1660.8 760.3 L1662.5 761.5 L1664.2 762.7 L1666.0 763.8 L1667.7 764.9 L1669.4 766.0 L1671.1 767.0 L1672.8 768.0 L1674.6 769.0 L1676.3 770.0 L1678.0 771.0 L1679.7 771.9 L1681.5 772.8 L1683.2 773.7 L1684.9 774.7 L1686.6 775.6 L1688.3 776.5 L1690.1 777.4 L1691.8 778.3 L1693.5 779.2 L1695.2 780.1 L1697.0 781.0 L1698.7 782.0 L1700.4 782.9 L1702.1 783.9 L1703.8 784.9 L1705.6 785.9 L1707.3 786.9 L1709.0 787.9 L1710.7 789.0 L1712.5 790.0 L1714.2 791.0 L1715.9 792.1 L1717.6 793.1 L1719.3 794.1 L1721.1 795.1 L1722.8 796.1 L1724.5 797.1 L1726.2 798.1 L1728.0 799.1 L1729.7 800.1 L1731.4 801.0 L1733.1 801.9 L1734.8 802.8 L1736.6 803.6 L1738.3 804.5 L1740.0 805.3 L1741.7 806.0 L1743.4 806.8 L1745.2 807.5 L1746.9 808.3 L1748.6 809.0 L1750.3 809.7 L1752.1 810.4 L1753.8 811.1 L1755.5 811.8 L1757.2 812.5 L1758.9 813.2 L1760.7 813.9 L1762.4 814.5 L1764.1 815.2 L1765.8 815.8 L1767.6 816.4 L1769.3 817.1 L1771.0 817.7 L1772.7 818.3 L1774.4 818.9 L1776.2 819.5 L1777.9 820.1 L1779.6 820.7 L1781.3 821.3 L1783.1 821.9 L1784.8 822.5 L1786.5 823.0 L1788.2 823.6 L1789.9 824.2 L1791.7 824.7 L1793.4 825.3 L1795.1 825.9 L1796.8 826.4 L1798.6 827.0 L1800.3 827.6 L1802.0 828.1 L1803.7 828.7 L1805.4 829.2 L1807.2 829.8 L1808.9 830.3 L1810.6 830.9 L1812.3 831.4 L1814.0 832.0 L1815.8 832.5 L1817.5 833.0 L1819.2 833.5 L1820.9 834.1 L1822.7 834.6 L1824.4 835.1 L1826.1 835.6 L1827.8 836.1 L1829.5 836.6 L1831.3 837.1 L1833.0 837.6 L1834.7 838.1 L1836.4 838.6 L1838.2 839.1 L1839.9 839.6 L1841.6 840.1 L1843.3 840.6 L1845.0 841.1 L1846.8 841.6 L1848.5 842.0 L1850.2 842.5 L1851.9 843.0 L1853.7 843.5 L1855.4 843.9 L1857.1 844.4 L1858.8 844.9 L1860.5 845.4 L1862.3 845.8 L1864.0 846.3 L1865.7 846.8 L1867.4 847.2 L1869.2 847.7 L1870.9 848.1 L1872.6 848.6 L1874.3 849.1 L1876.0 849.5 L1877.8 850.0 L1879.5 850.4 L1881.2 850.8 L1882.9 851.3 L1884.6 851.7 L1886.4 852.2 L1888.1 852.6 L1889.8 853.0 L1891.5 853.4 L1893.3 853.9 L1895.0 854.3 L1896.7 854.7 L1898.4 855.1 L1900.1 855.6 L1901.9 856.0 L1903.6 856.4 L1905.3 856.9 L1907.0 857.3 L1908.8 857.7 L1910.5 858.2 L1912.2 858.6 L1913.9 859.1 L1915.6 859.6 L1917.4 860.1 L1919.1 860.6 L1920.8 861.1 L1922.5 861.6 L1924.3 862.2 L1926.0 862.6 L1927.7 863.1 L1929.4 863.6 L1931.1 864.0 L1932.9 864.4 L1934.6 864.8 L1936.3 865.1 L1938.0 865.4 L1939.8 865.6 L1941.5 865.8 L1943.2 866.0 L1944.9 866.1 L1946.6 866.2 L1948.4 866.2 L1950.1 866.2 L1951.8 866.2 L1953.5 866.2 L1955.2 866.2 L1957.0 866.2 L1958.7 866.2 L1959.6 866.2" stroke="#00ff00" stroke-dasharray="32 20"/>
<path d="M1959.6 866.2H2501.5" stroke="#ff00ff" stroke-dasharray="32.5 23"/>
<path d="M1959.6 866.2H2501.5" stroke="#00ff00" stroke-dasharray="32.5 23"/>
</g>
<g fill="none" stroke="#2b2b2b">
<path d="M1479.5 37.7V1714.2" stroke-width="3.7" stroke="#3a3a3a"/>
<path d="M1477.4 1711.2H2463.6" stroke-width="6" stroke="#303030"/>
<path d="M1477.4 39.7H2463.6" stroke-width="4.6" stroke="#3a3a3a"/>
<path d="M2461.5 37.7V1714.2" stroke-width="4.4" stroke="#555"/>
</g>
<g clip-path="url(#cr)" fill="none" stroke-width="9.4">
<path d="M1479.5 968.3 L1479.6 981.9 L1479.6 995.4 L1479.7 1008.7 L1479.7 1021.8 L1479.8 1034.7 L1479.9 1047.3 L1479.9 1059.7 L1480.0 1071.8 L1480.1 1083.5 L1480.1 1094.9 L1480.2 1106.0 L1480.2 1116.6 L1480.3 1126.8 L1480.4 1136.6 L1480.4 1145.9 L1480.5 1154.7 L1480.5 1163.4 L1480.6 1172.1 L1480.7 1180.9 L1480.7 1189.6 L1480.8 1198.4 L1480.9 1207.1 L1480.9 1215.6 L1481.0 1224.1 L1481.0 1232.4 L1481.1 1240.4 L1481.2 1248.2 L1481.2 1255.8 L1481.3 1263.0 L1481.4 1269.9 L1481.4 1276.4 L1481.5 1282.5 L1481.5 1288.2 L1481.6 1293.3 L1481.7 1298.0 L1481.7 1302.1 L1481.8 1305.6 L1481.8 1308.4 L1481.9 1310.6 L1482.0 1312.2 L1482.0 1313.4 L1482.1 1314.7 L1482.2 1315.9 L1482.2 1317.0 L1482.3 1318.1 L1482.3 1319.2 L1482.4 1320.3 L1482.5 1321.3 L1482.5 1322.3 L1482.6 1323.3 L1482.6 1324.2 L1482.7 1325.1 L1482.8 1326.0 L1482.8 1326.8 L1482.9 1327.6 L1483.0 1328.4 L1483.0 1329.2 L1483.1 1329.9 L1483.1 1330.6 L1483.2 1331.3 L1483.3 1332.0 L1483.3 1332.6 L1483.4 1333.2 L1483.4 1333.8 L1483.5 1334.4 L1483.6 1335.0 L1483.6 1335.5 L1483.7 1336.1 L1483.8 1336.6 L1483.8 1337.1 L1483.9 1337.6 L1483.9 1338.0 L1484.0 1338.5 L1484.1 1338.9 L1484.1 1339.4 L1484.2 1339.8 L1484.2 1340.2 L1484.3 1340.6 L1484.4 1341.0 L1484.5 1341.8 L1484.6 1342.6 L1484.7 1343.3 L1484.9 1344.0 L1485.0 1344.8 L1485.1 1345.5 L1485.2 1346.2 L1485.4 1347.0 L1485.5 1347.8 L1485.6 1348.5 L1485.7 1349.3 L1485.9 1350.0 L1486.0 1350.8 L1486.1 1351.5 L1486.2 1352.3 L1486.3 1353.0 L1486.5 1353.8 L1486.6 1354.5 L1486.7 1355.2 L1486.8 1355.9 L1487.0 1356.6 L1487.1 1357.3 L1487.2 1358.0 L1487.3 1358.7 L1487.5 1359.4 L1487.6 1360.1 L1487.7 1360.8 L1487.8 1361.4 L1488.0 1362.1 L1488.1 1362.7 L1488.2 1363.4 L1488.3 1364.0 L1488.4 1364.7 L1488.6 1365.3 L1488.7 1366.0 L1488.8 1366.6 L1488.9 1367.2 L1489.1 1367.8 L1489.2 1368.4 L1489.3 1369.0 L1489.4 1369.6 L1489.6 1370.2 L1489.7 1370.8 L1489.8 1371.4 L1489.9 1372.0 L1490.0 1372.5 L1490.2 1373.1 L1490.3 1373.7 L1490.4 1374.2 L1490.5 1374.8 L1490.7 1375.3 L1490.8 1375.9 L1490.9 1376.4 L1491.0 1376.9 L1491.2 1377.4 L1491.3 1378.0 L1491.4 1378.5 L1491.5 1379.0 L1491.7 1379.5 L1491.8 1380.0 L1492.1 1381.4 L1492.5 1382.8 L1492.9 1384.2 L1493.3 1385.5 L1493.6 1386.7 L1494.0 1387.9" stroke="#0000ff" stroke-dasharray="32 22.5"/>
<path d="M1479.5 782.6 L1479.6 797.9 L1479.6 813.0 L1479.7 827.9 L1479.7 842.6 L1479.8 857.1 L1479.9 871.4 L1479.9 885.4 L1480.0 899.3 L1480.1 912.8 L1480.1 926.1 L1480.2 939.2 L1480.2 952.0 L1480.3 964.5 L1480.4 976.7 L1480.4 988.6 L1480.5 1000.2 L1480.5 1011.6 L1480.6 1022.6 L1480.7 1033.3 L1480.7 1043.6 L1480.8 1054.0 L1480.9 1064.7 L1480.9 1075.5 L1481.0 1086.4 L1481.0 1097.4 L1481.1 1108.2 L1481.2 1119.0 L1481.2 1129.5 L1481.3 1139.7 L1481.4 1149.5 L1481.4 1158.9 L1481.5 1167.7 L1481.5 1176.0 L1481.6 1183.5 L1481.7 1190.3 L1481.7 1196.2 L1481.8 1201.3 L1481.8 1205.3 L1481.9 1208.2 L1482.0 1210.0 L1482.0 1211.4 L1482.1 1212.7 L1482.2 1214.0 L1482.2 1215.2 L1482.3 1216.4 L1482.3 1217.5 L1482.4 1218.5 L1482.5 1219.6 L1482.5 1220.5 L1482.6 1221.4 L1482.6 1222.3 L1482.7 1223.1 L1482.8 1223.9 L1482.8 1224.7 L1482.9 1225.4 L1483.0 1226.1 L1483.0 1226.8 L1483.1 1227.4 L1483.1 1228.0 L1483.2 1228.6 L1483.3 1229.2 L1483.3 1229.7 L1483.4 1230.2 L1483.4 1230.7 L1483.5 1231.2 L1483.6 1231.7 L1483.6 1232.1 L1483.7 1232.6 L1483.8 1233.0 L1483.8 1233.4 L1483.9 1233.9 L1483.9 1234.3 L1484.0 1234.7 L1484.1 1235.1 L1484.1 1235.6 L1484.2 1236.0 L1484.2 1236.4 L1484.3 1236.9 L1484.4 1237.3 L1484.4 1237.8 L1484.5 1238.3 L1484.6 1238.7 L1484.6 1239.2 L1484.7 1239.6 L1484.7 1240.1 L1484.8 1240.5 L1484.9 1240.9 L1484.9 1241.4 L1485.0 1241.8 L1485.1 1242.2 L1485.1 1242.6 L1485.2 1243.0 L1485.2 1243.4 L1485.3 1243.8 L1485.4 1244.2 L1485.5 1245.0 L1485.6 1245.8 L1485.7 1246.5 L1485.9 1247.3 L1486.0 1248.0 L1486.1 1248.7 L1486.2 1249.4 L1486.3 1250.0 L1486.5 1250.7 L1486.6 1251.4 L1486.7 1252.0 L1486.8 1252.6 L1487.0 1253.3 L1487.1 1253.9 L1487.2 1254.5 L1487.3 1255.1 L1487.5 1255.7 L1487.6 1256.2 L1487.7 1256.8 L1487.8 1257.4 L1488.0 1258.0 L1488.1 1258.5 L1488.2 1259.1 L1488.3 1259.7 L1488.4 1260.2 L1488.6 1260.8 L1488.7 1261.3 L1488.8 1261.9 L1488.9 1262.4 L1489.1 1263.0 L1489.2 1263.6 L1489.3 1264.1 L1489.4 1264.7 L1489.6 1265.3 L1489.7 1265.9 L1489.8 1266.4 L1489.9 1267.0 L1490.0 1267.6 L1490.2 1268.2 L1490.3 1268.8 L1490.4 1269.5 L1490.5 1270.1 L1490.7 1270.7 L1490.8 1271.4 L1490.9 1272.0 L1491.0 1272.7 L1491.2 1273.4 L1491.3 1274.1 L1491.4 1274.8 L1491.5 1275.5 L1491.7 1276.2 L1491.8 1276.9 L1492.1 1279.1 L1492.5 1281.3 L1492.9 1283.5 L1493.3 1285.8 L1493.6 1288.1 L1494.0 1290.5" stroke="#00ffff" stroke-dasharray="6.5 13.5" stroke-width="5.5" stroke-opacity="0.85"/>
<path d="M1479.5 225.4 L1479.6 229.3 L1479.6 233.2 L1479.7 237.1 L1479.7 241.0 L1479.8 244.9 L1479.9 248.8 L1479.9 252.6 L1480.0 256.5 L1480.1 260.4 L1480.1 264.3 L1480.2 268.2 L1480.2 272.1 L1480.3 276.0 L1480.4 279.9 L1480.4 283.8 L1480.5 287.6 L1480.5 291.5 L1480.6 295.4 L1480.7 299.3 L1480.7 303.2 L1480.8 307.1 L1480.9 311.0 L1480.9 314.9 L1481.0 318.7 L1481.0 322.6 L1481.1 326.5 L1481.2 330.4 L1481.2 334.3 L1481.3 338.2 L1481.4 342.1 L1481.4 346.0 L1481.5 349.9 L1481.5 353.7 L1481.6 357.6 L1481.7 361.5 L1481.7 365.4 L1481.8 369.3 L1481.8 373.2 L1481.9 377.1 L1482.0 381.0 L1482.0 384.9 L1482.1 388.7 L1482.2 392.6 L1482.2 396.5 L1482.3 400.4 L1482.3 404.3 L1482.4 408.2 L1482.5 412.1 L1482.5 416.0 L1482.6 420.0 L1482.6 424.0 L1482.7 428.1 L1482.8 432.2 L1482.8 436.3 L1482.9 440.4 L1483.0 444.5 L1483.0 448.6 L1483.1 452.7 L1483.1 456.8 L1483.2 460.9 L1483.3 465.0 L1483.3 469.0 L1483.4 472.9 L1483.4 476.8 L1483.5 480.6 L1483.6 484.4 L1483.6 488.1 L1483.7 491.7 L1483.8 495.2 L1483.8 498.6 L1483.9 501.9 L1483.9 505.2 L1484.0 508.3 L1484.1 511.5 L1484.1 514.7 L1484.2 517.9 L1484.2 521.1 L1484.3 524.3 L1484.4 527.5 L1484.4 530.6 L1484.5 533.7 L1484.6 536.7 L1484.6 539.8 L1484.7 542.7 L1484.7 545.6 L1484.8 548.5 L1484.9 551.3 L1484.9 554.0 L1485.0 556.6 L1485.1 559.2 L1485.1 561.7 L1485.2 564.0 L1485.2 566.3 L1485.3 568.5 L1485.4 570.5 L1485.4 572.5 L1485.5 574.3 L1485.5 576.0 L1485.6 577.6 L1485.7 579.0 L1485.7 580.4 L1485.8 581.8 L1485.9 583.1 L1485.9 584.4 L1486.0 585.7 L1486.0 586.9 L1486.1 588.1 L1486.2 589.3 L1486.2 590.5 L1486.3 591.6 L1486.3 592.8 L1486.4 593.8 L1486.5 594.9 L1486.5 595.9 L1486.6 597.0 L1486.7 597.9 L1486.7 598.9 L1486.8 599.9 L1486.8 600.8 L1486.9 601.7 L1487.0 602.6 L1487.0 603.4 L1487.1 604.3 L1487.1 605.1 L1487.2 605.9 L1487.3 606.7 L1487.3 607.4 L1487.4 608.2 L1487.5 608.9 L1487.5 609.6 L1487.6 610.3 L1487.6 611.0 L1487.7 611.6 L1487.8 612.3 L1487.8 612.9 L1487.9 613.5 L1488.0 614.1 L1488.0 614.7 L1488.1 615.3 L1488.1 615.8 L1488.2 616.4 L1488.3 616.9 L1488.3 617.5 L1488.4 618.0 L1488.4 618.6 L1488.5 619.1 L1488.6 619.6 L1488.6 620.1 L1488.7 620.6 L1488.8 621.1 L1488.8 621.7 L1488.9 622.2 L1488.9 622.6 L1489.0 623.1 L1489.1 623.6 L1489.1 624.1 L1489.2 624.6 L1489.2 625.0 L1489.3 625.5 L1489.4 626.0 L1489.4 626.4 L1489.5 626.9 L1489.6 627.3 L1489.6 627.8 L1489.7 628.2 L1489.7 628.6 L1489.8 629.1 L1489.9 629.5 L1489.9 629.9 L1490.0 630.3 L1490.0 630.8 L1490.1 631.2 L1490.2 631.6 L1490.2 632.0 L1490.3 632.4 L1490.4 632.8 L1490.5 633.6 L1490.6 634.3 L1490.7 635.1 L1490.8 635.8 L1491.0 636.5 L1491.1 637.2 L1491.2 637.9 L1491.3 638.6 L1491.5 639.3 L1491.6 640.0 L1491.7 640.6 L1492.1 642.8 L1492.5 644.6 L1492.9 646.4 L1493.3 648.1 L1493.6 649.7 L1494.0 651.3" stroke="#ff00ff" stroke-dasharray="31 21"/>
<path d="M1479.5 39.7 L1479.6 40.5 L1479.6 41.3 L1479.7 42.2 L1479.7 43.0 L1479.8 43.8 L1479.9 44.7 L1479.9 45.5 L1480.0 46.3 L1480.1 47.2 L1480.1 48.0 L1480.2 48.9 L1480.2 49.7 L1480.3 50.6 L1480.4 51.4 L1480.4 52.3 L1480.5 53.2 L1480.5 54.0 L1480.6 54.9 L1480.7 55.8 L1480.7 56.7 L1480.8 57.5 L1480.9 58.4 L1480.9 59.3 L1481.0 60.2 L1481.0 61.1 L1481.1 62.0 L1481.2 62.9 L1481.2 63.8 L1481.3 64.7 L1481.4 65.6 L1481.4 66.5 L1481.5 67.4 L1481.5 68.3 L1481.6 69.3 L1481.7 70.2 L1481.7 71.1 L1481.8 72.0 L1481.8 73.0 L1481.9 73.9 L1482.0 74.8 L1482.0 75.8 L1482.1 76.7 L1482.2 77.7 L1482.2 78.6 L1482.3 79.6 L1482.3 80.5 L1482.4 81.5 L1482.5 82.4 L1482.5 83.4 L1482.6 84.3 L1482.6 85.3 L1482.7 86.3 L1482.8 87.3 L1482.8 88.2 L1482.9 89.2 L1483.0 90.2 L1483.0 91.2 L1483.1 92.1 L1483.1 93.1 L1483.2 94.1 L1483.3 95.1 L1483.3 96.1 L1483.4 97.1 L1483.4 98.1 L1483.5 99.1 L1483.6 100.1 L1483.6 101.1 L1483.7 102.1 L1483.8 103.1 L1483.8 104.1 L1483.9 105.2 L1483.9 106.2 L1484.0 107.2 L1484.1 108.2 L1484.1 109.2 L1484.2 110.3 L1484.2 111.3 L1484.3 112.3 L1484.4 113.4 L1484.4 114.4 L1484.5 115.5 L1484.6 116.5 L1484.6 117.6 L1484.7 118.7 L1484.7 119.8 L1484.8 120.9 L1484.9 122.0 L1484.9 123.1 L1485.0 124.3 L1485.1 125.4 L1485.1 126.6 L1485.2 127.8 L1485.2 129.0 L1485.3 130.2 L1485.4 131.4 L1485.4 132.6 L1485.5 133.8 L1485.5 135.0 L1485.6 136.2 L1485.7 137.5 L1485.7 138.7 L1485.8 139.9 L1485.9 141.2 L1485.9 142.4 L1486.0 143.7 L1486.0 145.0 L1486.1 146.2 L1486.2 147.5 L1486.2 148.8 L1486.3 150.0 L1486.3 151.3 L1486.4 152.6 L1486.5 153.9 L1486.5 155.1 L1486.6 156.4 L1486.7 157.7 L1486.7 159.0 L1486.8 160.2 L1486.8 161.5 L1486.9 162.8 L1487.0 164.1 L1487.0 165.3 L1487.1 166.6 L1487.1 167.9 L1487.2 169.1 L1487.3 170.4 L1487.3 171.6 L1487.4 172.9 L1487.5 174.1 L1487.5 175.3 L1487.6 176.5 L1487.6 177.8 L1487.7 179.0 L1487.8 180.2 L1487.8 181.4 L1487.9 182.6 L1488.0 183.7 L1488.0 184.9 L1488.1 186.1 L1488.1 187.2 L1488.2 188.4 L1488.3 189.5 L1488.3 190.6 L1488.4 191.7 L1488.4 192.8 L1488.5 193.9 L1488.6 195.0 L1488.6 196.0 L1488.7 197.1 L1488.8 198.1 L1488.8 199.1 L1488.9 200.1 L1488.9 201.1 L1489.0 202.1 L1489.1 203.0 L1489.1 204.0 L1489.2 204.9 L1489.2 205.8 L1489.3 206.7 L1489.4 207.5 L1489.4 208.4 L1489.5 209.3 L1489.6 210.1 L1489.6 211.0 L1489.7 211.8 L1489.7 212.6 L1489.8 213.4 L1489.9 214.2 L1489.9 215.0 L1490.0 215.8 L1490.0 216.6 L1490.1 217.4 L1490.2 218.2 L1490.2 218.9 L1490.3 219.7 L1490.4 220.4 L1490.4 221.2 L1490.5 221.9 L1490.5 222.7 L1490.6 223.4 L1490.7 224.1 L1490.7 224.8 L1490.8 225.6 L1490.8 226.3 L1490.9 227.0 L1491.0 227.7 L1491.0 228.4 L1491.1 229.1 L1491.2 229.7 L1491.2 230.4 L1491.3 231.1 L1491.3 231.8 L1491.4 232.5 L1491.5 233.1 L1491.5 233.8 L1491.6 234.5 L1491.7 235.1 L1491.7 235.8 L1491.8 236.4 L1492.1 240.3 L1492.5 244.2 L1492.9 248.0 L1493.3 251.9 L1493.6 255.9 L1494.0 259.9" stroke="#00ff00" stroke-dasharray="32 20"/>
</g>
<g font-size="45.5">
<text x="1479.0" y="1766" text-anchor="middle">0</text>
<text x="1724.5" y="1766" text-anchor="middle">1</text>
<text x="1970.0" y="1766" text-anchor="middle">2</text>
<text x="2215.5" y="1766" text-anchor="middle">3</text>
<text x="2461.0" y="1766" text-anchor="middle">4</text>
<text x="1466.3" y="1728.6" text-anchor="end">–3</text>
<text x="1466.3" y="1542.9" text-anchor="end">–2</text>
<text x="1466.3" y="1357.2" text-anchor="end">–1</text>
<text x="1466.3" y="1171.4" text-anchor="end">0</text>
<text x="1466.3" y="985.7" text-anchor="end">1</text>
<text x="1466.3" y="800.0" text-anchor="end">2</text>
<text x="1466.3" y="614.3" text-anchor="end">3</text>
<text x="1466.3" y="428.5" text-anchor="end">4</text>
<text x="1466.3" y="242.8" text-anchor="end">5</text>
<text x="1466.3" y="58.3" text-anchor="end">6</text>
</g>
<g font-size="52.8">
<text x="1970" y="1824.5" text-anchor="middle">time (s)</text>
<text transform="translate(1384 881.5) rotate(-90)" text-anchor="middle">Velocity</text>
</g>
<rect x="2133.3" y="32.5" width="334.0" height="384.1" fill="#fff" stroke="#2b2b2b" stroke-width="4.6"/>
<path d="M2131.0 417.4H2469.6" stroke="#3c3c3c" stroke-width="6.4" fill="none"/>
<g font-size="44.2">
<path d="M2157 68.8H2294" stroke="#0000ff" stroke-width="10.0" fill="none" stroke-dasharray="30 24"/>
<text x="2306.5" y="85.6">agent 1</text>
<path d="M2157 130.9H2288" stroke="#00ffff" stroke-width="8.6" fill="none" stroke-dasharray="6 14.4"/>
<text x="2306.5" y="147.7">agent 2</text>
<path d="M2157 193.5H2292" stroke="#ff0000" stroke-width="10.0" fill="none" stroke-dasharray="6 15.5 28 15.5"/>
<text x="2306.5" y="210.3">agent 3</text>
<path d="M2157 254.8H2288" stroke="#000000" stroke-width="8.6" fill="none" stroke-dasharray="4.2 16.1"/>
<circle cx="2225.5" cy="254.8" r="5.6" fill="#000"/>
<text x="2306.5" y="271.6">agent 4</text>
<path d="M2157 317.5H2294" stroke="#ff00ff" stroke-width="10.0" fill="none" stroke-dasharray="30 24"/>
<text x="2306.5" y="334.3">agent 5</text>
<path d="M2157 379.3H2294" stroke="#00ff00" stroke-width="10.0" fill="none" stroke-dasharray="30 24"/>
<text x="2306.5" y="396.1">agent 6</text>
</g>
</g>
</svg></body></html>
